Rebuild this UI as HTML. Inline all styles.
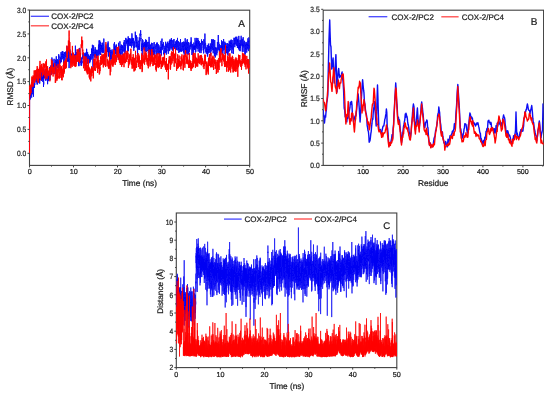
<!DOCTYPE html>
<html><head><meta charset="utf-8"><style>
html,body{margin:0;padding:0;background:#fff;}
svg{display:block;}
</style></head><body>
<svg width="550" height="396" viewBox="0 0 550 396" font-family="'Liberation Sans', Arial, sans-serif" text-rendering="geometricPrecision">
<defs><filter id="soft" x="0" y="0" width="100%" height="100%"><feGaussianBlur stdDeviation="0.4"/></filter></defs>
<rect width="550" height="396" fill="#fff"/>
<g filter="url(#soft)">
<rect x="29.5" y="10.2" width="220.2" height="155.2" fill="none" stroke="#404040" stroke-width="1.1"/>
<rect x="323.2" y="10.2" width="220.4" height="155.2" fill="none" stroke="#404040" stroke-width="1.1"/>
<rect x="176.3" y="213.0" width="220.5" height="154.6" fill="none" stroke="#404040" stroke-width="1.1"/>
<clipPath id="cA"><rect x="28.5" y="10.2" width="221.2" height="155.20000000000002"/></clipPath>
<g clip-path="url(#cA)">
<polyline fill="none" stroke="#0a0af5" stroke-width="1.0" stroke-linejoin="round" points="29.5,153.3 29.6,101.7 29.7,95.4 29.8,98.6 29.9,93.5 30.1,96.7 30.2,97.2 30.3,99.4 30.4,98.4 30.5,92.9 30.6,98.4 30.7,94.4 30.8,90.0 30.9,92.6 31.0,90.9 31.2,94.4 31.3,87.6 31.4,85.6 31.5,88.6 31.6,96.8 31.7,97.5 31.8,89.9 31.9,84.8 32.0,87.3 32.1,84.3 32.3,89.6 32.4,91.0 32.5,90.1 32.6,87.8 32.7,93.7 32.8,87.5 32.9,83.6 33.0,91.2 33.1,94.6 33.2,88.5 33.4,90.4 33.5,96.7 33.6,86.7 33.7,85.8 33.8,87.4 33.9,78.3 34.0,81.9 34.1,86.8 34.2,84.9 34.3,87.3 34.5,88.0 34.6,83.1 34.7,84.6 34.8,84.9 34.9,75.9 35.0,75.4 35.1,76.1 35.2,76.9 35.3,76.8 35.4,73.3 35.6,76.7 35.7,71.2 35.8,78.8 35.9,78.1 36.0,82.4 36.1,79.8 36.2,76.2 36.3,71.4 36.4,78.0 36.5,77.9 36.7,79.2 36.8,80.4 36.9,81.9 37.0,78.9 37.1,84.5 37.2,79.2 37.3,79.0 37.4,81.1 37.5,83.0 37.6,84.2 37.8,72.8 37.9,80.6 38.0,73.0 38.1,73.8 38.2,76.6 38.3,81.0 38.4,74.7 38.5,69.7 38.6,77.7 38.7,78.2 38.9,74.2 39.0,75.0 39.1,69.6 39.2,76.1 39.3,74.2 39.4,80.1 39.5,69.8 39.6,76.6 39.7,83.6 39.8,78.9 40.0,76.9 40.1,69.7 40.2,74.8 40.3,76.5 40.4,75.7 40.5,71.5 40.6,76.3 40.7,73.7 40.8,73.3 41.0,77.0 41.1,77.1 41.2,77.0 41.3,80.1 41.4,73.7 41.5,80.8 41.6,73.7 41.7,71.7 41.8,75.5 41.9,79.0 42.1,78.2 42.2,76.0 42.3,73.8 42.4,75.2 42.5,72.3 42.6,76.9 42.7,75.6 42.8,81.9 42.9,75.7 43.0,76.7 43.2,79.3 43.3,74.0 43.4,75.0 43.5,86.9 43.6,81.9 43.7,84.5 43.8,76.9 43.9,68.4 44.0,76.2 44.1,77.6 44.3,78.1 44.4,75.5 44.5,73.8 44.6,70.9 44.7,78.1 44.8,71.8 44.9,77.7 45.0,75.9 45.1,72.0 45.2,72.6 45.4,78.8 45.5,80.6 45.6,79.3 45.7,77.7 45.8,72.1 45.9,79.0 46.0,75.5 46.1,73.7 46.2,73.5 46.3,73.5 46.5,69.9 46.6,72.3 46.7,72.5 46.8,73.7 46.9,68.4 47.0,80.5 47.1,73.7 47.2,76.3 47.3,76.4 47.4,80.0 47.6,84.2 47.7,80.5 47.8,81.0 47.9,75.9 48.0,81.2 48.1,72.4 48.2,73.7 48.3,75.5 48.4,78.0 48.5,78.9 48.7,80.9 48.8,79.8 48.9,76.2 49.0,76.0 49.1,79.9 49.2,77.1 49.3,78.4 49.4,75.1 49.5,67.2 49.6,69.0 49.8,72.9 49.9,78.7 50.0,79.2 50.1,80.1 50.2,71.5 50.3,74.2 50.4,72.7 50.5,73.6 50.6,70.9 50.8,65.5 50.9,70.6 51.0,70.7 51.1,72.0 51.2,66.0 51.3,71.2 51.4,72.3 51.5,74.6 51.6,74.7 51.7,67.8 51.9,57.5 52.0,65.7 52.1,61.1 52.2,63.1 52.3,69.3 52.4,67.7 52.5,67.7 52.6,69.0 52.7,59.6 52.8,71.1 53.0,67.8 53.1,66.1 53.2,68.7 53.3,67.0 53.4,63.6 53.5,65.4 53.6,65.7 53.7,64.4 53.8,74.1 53.9,65.5 54.1,58.8 54.2,61.1 54.3,61.4 54.4,70.7 54.5,69.3 54.6,71.6 54.7,71.7 54.8,65.7 54.9,70.2 55.0,68.8 55.2,74.4 55.3,68.8 55.4,67.1 55.5,68.4 55.6,69.0 55.7,59.7 55.8,68.3 55.9,70.5 56.0,69.8 56.1,62.4 56.3,56.3 56.4,60.6 56.5,65.0 56.6,65.7 56.7,61.7 56.8,67.2 56.9,61.5 57.0,60.8 57.1,64.8 57.2,63.0 57.4,62.1 57.5,59.3 57.6,67.8 57.7,61.7 57.8,65.1 57.9,67.5 58.0,65.0 58.1,65.1 58.2,67.3 58.3,69.9 58.5,68.4 58.6,59.7 58.7,54.2 58.8,57.4 58.9,55.6 59.0,62.0 59.1,62.3 59.2,60.9 59.3,66.0 59.4,66.0 59.6,61.5 59.7,61.9 59.8,64.0 59.9,59.4 60.0,61.7 60.1,57.0 60.2,59.0 60.3,60.6 60.4,60.2 60.5,60.9 60.7,62.8 60.8,61.7 60.9,57.1 61.0,55.8 61.1,52.1 61.2,62.0 61.3,60.9 61.4,61.4 61.5,58.1 61.7,58.9 61.8,59.0 61.9,54.1 62.0,54.6 62.1,59.4 62.2,52.3 62.3,51.1 62.4,56.1 62.5,51.9 62.6,56.2 62.8,51.2 62.9,54.6 63.0,58.2 63.1,56.8 63.2,57.9 63.3,54.9 63.4,54.2 63.5,55.1 63.6,57.3 63.7,68.7 63.9,59.7 64.0,63.7 64.1,57.6 64.2,52.1 64.3,54.2 64.4,57.1 64.5,57.8 64.6,57.2 64.7,59.0 64.8,59.3 65.0,59.8 65.1,52.9 65.2,55.1 65.3,52.1 65.4,55.5 65.5,56.0 65.6,56.6 65.7,53.4 65.8,51.6 65.9,53.2 66.1,57.6 66.2,59.1 66.3,51.6 66.4,56.3 66.5,57.0 66.6,51.7 66.7,50.3 66.8,51.2 66.9,55.0 67.0,46.2 67.2,49.2 67.3,50.3 67.4,53.6 67.5,59.9 67.6,61.5 67.7,55.0 67.8,52.5 67.9,54.7 68.0,59.2 68.1,61.8 68.3,58.5 68.4,61.5 68.5,54.0 68.6,50.3 68.7,43.3 68.8,47.8 68.9,54.5 69.0,57.9 69.1,68.1 69.2,60.5 69.4,56.4 69.5,51.1 69.6,51.5 69.7,51.2 69.8,53.6 69.9,53.3 70.0,49.5 70.1,57.0 70.2,57.6 70.3,62.2 70.5,52.8 70.6,50.9 70.7,51.7 70.8,57.7 70.9,55.3 71.0,56.4 71.1,56.2 71.2,56.8 71.3,54.6 71.5,57.7 71.6,53.9 71.7,55.4 71.8,56.9 71.9,56.4 72.0,57.0 72.1,53.2 72.2,55.4 72.3,54.3 72.4,56.6 72.6,61.4 72.7,55.2 72.8,60.6 72.9,55.4 73.0,54.8 73.1,61.8 73.2,61.1 73.3,60.5 73.4,61.4 73.5,62.7 73.7,56.1 73.8,57.5 73.9,55.0 74.0,57.2 74.1,56.0 74.2,59.6 74.3,57.6 74.4,54.5 74.5,56.6 74.6,57.8 74.8,60.4 74.9,56.2 75.0,54.6 75.1,56.3 75.2,59.3 75.3,53.9 75.4,45.7 75.5,51.9 75.6,52.5 75.7,52.4 75.9,63.9 76.0,58.2 76.1,58.5 76.2,52.0 76.3,54.8 76.4,57.6 76.5,57.3 76.6,55.9 76.7,58.1 76.8,57.0 77.0,61.5 77.1,59.4 77.2,55.0 77.3,49.7 77.4,52.8 77.5,55.1 77.6,52.1 77.7,52.6 77.8,50.1 77.9,51.6 78.1,56.7 78.2,56.4 78.3,56.9 78.4,55.6 78.5,56.2 78.6,59.5 78.7,65.6 78.8,62.9 78.9,66.2 79.0,60.1 79.2,57.7 79.3,63.0 79.4,57.0 79.5,54.0 79.6,55.6 79.7,49.9 79.8,47.9 79.9,58.0 80.0,54.4 80.1,54.5 80.3,55.3 80.4,54.5 80.5,59.7 80.6,60.3 80.7,62.4 80.8,63.0 80.9,61.0 81.0,65.5 81.1,65.0 81.2,59.5 81.4,60.0 81.5,57.9 81.6,65.7 81.7,64.0 81.8,63.1 81.9,61.0 82.0,63.2 82.1,56.9 82.2,58.7 82.4,58.7 82.5,58.6 82.6,55.9 82.7,59.1 82.8,53.3 82.9,54.6 83.0,56.7 83.1,58.0 83.2,57.2 83.3,54.3 83.5,53.1 83.6,55.3 83.7,54.8 83.8,57.1 83.9,52.8 84.0,57.7 84.1,65.7 84.2,56.9 84.3,57.2 84.4,62.7 84.6,60.9 84.7,63.4 84.8,53.7 84.9,54.8 85.0,62.3 85.1,57.7 85.2,59.7 85.3,52.9 85.4,60.9 85.5,67.7 85.7,61.7 85.8,61.0 85.9,61.5 86.0,67.5 86.1,60.2 86.2,52.3 86.3,61.5 86.4,54.1 86.5,58.1 86.6,48.8 86.8,52.6 86.9,56.4 87.0,52.9 87.1,54.3 87.2,58.1 87.3,54.8 87.4,57.8 87.5,63.5 87.6,52.1 87.7,56.9 87.9,59.4 88.0,57.0 88.1,62.6 88.2,63.8 88.3,61.9 88.4,60.8 88.5,59.0 88.6,54.5 88.7,58.6 88.8,57.5 89.0,56.1 89.1,61.5 89.2,58.6 89.3,61.8 89.4,55.8 89.5,56.2 89.6,57.7 89.7,63.2 89.8,59.6 89.9,62.0 90.1,57.1 90.2,58.1 90.3,60.9 90.4,55.8 90.5,54.1 90.6,59.2 90.7,54.0 90.8,57.2 90.9,58.1 91.0,56.6 91.2,59.6 91.3,59.4 91.4,57.8 91.5,50.9 91.6,48.5 91.7,54.8 91.8,49.5 91.9,53.0 92.0,52.2 92.1,50.2 92.3,52.5 92.4,44.8 92.5,50.1 92.6,58.4 92.7,51.5 92.8,56.1 92.9,57.6 93.0,67.8 93.1,56.0 93.3,52.9 93.4,51.5 93.5,49.4 93.6,45.4 93.7,50.6 93.8,49.0 93.9,55.1 94.0,55.9 94.1,50.6 94.2,51.0 94.4,57.2 94.5,52.8 94.6,53.7 94.7,56.2 94.8,52.1 94.9,53.4 95.0,57.6 95.1,57.4 95.2,47.2 95.3,55.2 95.5,52.4 95.6,50.7 95.7,49.3 95.8,55.6 95.9,54.3 96.0,53.2 96.1,50.3 96.2,54.6 96.3,58.3 96.4,52.8 96.6,50.1 96.7,51.1 96.8,54.8 96.9,52.8 97.0,52.9 97.1,49.8 97.2,57.9 97.3,55.1 97.4,54.7 97.5,57.6 97.7,52.9 97.8,51.5 97.9,52.7 98.0,50.1 98.1,55.2 98.2,52.6 98.3,49.8 98.4,48.8 98.5,44.7 98.6,51.9 98.8,55.6 98.9,50.5 99.0,47.2 99.1,40.4 99.2,42.6 99.3,49.7 99.4,46.1 99.5,50.8 99.6,54.3 99.7,40.4 99.9,44.9 100.0,45.3 100.1,45.7 100.2,41.8 100.3,46.7 100.4,44.2 100.5,51.3 100.6,55.0 100.7,46.5 100.8,42.8 101.0,45.3 101.1,46.6 101.2,48.1 101.3,52.0 101.4,45.1 101.5,46.3 101.6,46.8 101.7,47.4 101.8,45.8 101.9,47.0 102.1,46.8 102.2,53.0 102.3,49.7 102.4,42.7 102.5,49.1 102.6,49.0 102.7,44.7 102.8,43.4 102.9,44.2 103.1,51.7 103.2,47.3 103.3,52.4 103.4,52.8 103.5,47.8 103.6,49.8 103.7,47.3 103.8,38.6 103.9,43.4 104.0,45.9 104.2,52.5 104.3,53.7 104.4,55.4 104.5,54.4 104.6,55.7 104.7,55.3 104.8,53.5 104.9,56.3 105.0,57.8 105.1,58.4 105.3,52.6 105.4,52.0 105.5,48.3 105.6,46.5 105.7,51.9 105.8,50.4 105.9,57.4 106.0,44.9 106.1,44.5 106.2,49.6 106.4,54.4 106.5,49.6 106.6,56.6 106.7,55.3 106.8,48.7 106.9,48.8 107.0,50.7 107.1,46.7 107.2,51.3 107.3,47.7 107.5,49.4 107.6,51.1 107.7,48.5 107.8,52.1 107.9,43.3 108.0,48.9 108.1,41.5 108.2,50.4 108.3,48.4 108.4,53.7 108.6,56.6 108.7,52.3 108.8,49.3 108.9,55.3 109.0,49.9 109.1,53.9 109.2,52.1 109.3,50.0 109.4,47.6 109.5,55.8 109.7,47.6 109.8,48.6 109.9,53.0 110.0,56.7 110.1,60.3 110.2,61.5 110.3,54.4 110.4,56.0 110.5,58.8 110.6,57.7 110.8,49.9 110.9,53.9 111.0,56.4 111.1,50.6 111.2,52.5 111.3,54.2 111.4,56.0 111.5,59.2 111.6,58.6 111.7,55.8 111.9,54.5 112.0,51.0 112.1,49.4 112.2,50.1 112.3,50.6 112.4,55.0 112.5,61.0 112.6,57.2 112.7,58.1 112.8,57.3 113.0,54.2 113.1,57.2 113.2,57.9 113.3,54.1 113.4,51.6 113.5,54.3 113.6,51.0 113.7,51.8 113.8,54.9 114.0,52.2 114.1,43.7 114.2,50.6 114.3,46.3 114.4,44.3 114.5,42.2 114.6,51.2 114.7,44.1 114.8,48.5 114.9,50.8 115.1,51.3 115.2,47.8 115.3,49.7 115.4,50.4 115.5,45.7 115.6,51.5 115.7,54.2 115.8,49.2 115.9,48.7 116.0,46.8 116.2,54.6 116.3,49.5 116.4,49.4 116.5,44.5 116.6,52.7 116.7,50.6 116.8,52.4 116.9,57.8 117.0,56.8 117.1,50.2 117.3,52.9 117.4,55.1 117.5,51.0 117.6,48.2 117.7,47.2 117.8,52.9 117.9,52.1 118.0,47.5 118.1,51.9 118.2,52.9 118.4,47.6 118.5,42.8 118.6,50.7 118.7,59.5 118.8,58.1 118.9,56.1 119.0,52.0 119.1,48.6 119.2,48.8 119.3,51.1 119.5,49.4 119.6,53.5 119.7,51.3 119.8,52.5 119.9,41.3 120.0,43.7 120.1,50.8 120.2,53.2 120.3,52.5 120.4,56.3 120.6,53.6 120.7,51.3 120.8,45.8 120.9,48.5 121.0,51.1 121.1,53.2 121.2,54.1 121.3,50.4 121.4,49.4 121.5,44.7 121.7,49.6 121.8,45.2 121.9,47.5 122.0,49.5 122.1,57.1 122.2,56.9 122.3,49.6 122.4,45.5 122.5,48.0 122.6,46.2 122.8,49.5 122.9,50.5 123.0,52.3 123.1,46.4 123.2,46.9 123.3,49.6 123.4,51.0 123.5,47.1 123.6,46.7 123.7,49.9 123.9,42.4 124.0,44.3 124.1,46.3 124.2,41.6 124.3,40.1 124.4,43.6 124.5,43.0 124.6,48.5 124.7,48.7 124.9,53.9 125.0,43.8 125.1,52.3 125.2,45.8 125.3,48.8 125.4,50.3 125.5,47.3 125.6,44.7 125.7,42.1 125.8,37.9 126.0,40.7 126.1,38.8 126.2,43.5 126.3,40.5 126.4,41.5 126.5,43.1 126.6,43.4 126.7,43.2 126.8,42.1 126.9,40.6 127.1,43.9 127.2,45.6 127.3,41.2 127.4,48.3 127.5,47.1 127.6,39.6 127.7,52.0 127.8,48.6 127.9,43.3 128.0,49.7 128.2,36.4 128.3,51.0 128.4,41.4 128.5,38.3 128.6,38.6 128.7,41.7 128.8,40.0 128.9,44.6 129.0,39.7 129.1,45.0 129.3,43.9 129.4,38.2 129.5,44.9 129.6,43.8 129.7,41.8 129.8,45.8 129.9,38.5 130.0,39.4 130.1,46.1 130.2,43.0 130.4,44.7 130.5,44.7 130.6,42.5 130.7,45.8 130.8,40.0 130.9,43.8 131.0,39.2 131.1,41.3 131.2,38.3 131.3,42.8 131.5,44.6 131.6,47.5 131.7,41.6 131.8,39.4 131.9,33.4 132.0,35.0 132.1,39.8 132.2,42.1 132.3,41.2 132.4,43.1 132.6,38.3 132.7,37.9 132.8,43.7 132.9,45.7 133.0,38.7 133.1,39.8 133.2,42.6 133.3,38.2 133.4,42.5 133.5,43.9 133.7,45.2 133.8,50.9 133.9,42.8 134.0,47.7 134.1,47.2 134.2,47.0 134.3,41.7 134.4,42.3 134.5,41.7 134.7,47.5 134.8,42.7 134.9,47.1 135.0,41.6 135.1,39.9 135.2,39.7 135.3,31.7 135.4,36.0 135.5,37.5 135.6,39.1 135.8,40.7 135.9,36.9 136.0,35.4 136.1,43.3 136.2,37.5 136.3,37.7 136.4,35.6 136.5,38.3 136.6,44.6 136.7,47.4 136.9,36.9 137.0,39.3 137.1,46.6 137.2,42.5 137.3,44.3 137.4,50.5 137.5,55.1 137.6,53.8 137.7,46.4 137.8,44.5 138.0,44.8 138.1,42.4 138.2,40.7 138.3,49.8 138.4,46.3 138.5,46.5 138.6,48.5 138.7,46.8 138.8,44.8 138.9,44.6 139.1,49.3 139.2,46.7 139.3,37.3 139.4,44.5 139.5,49.7 139.6,43.8 139.7,39.9 139.8,38.4 139.9,41.2 140.0,33.6 140.2,35.3 140.3,36.1 140.4,34.9 140.5,33.2 140.6,30.2 140.7,30.9 140.8,34.8 140.9,34.1 141.0,38.9 141.1,38.1 141.3,47.6 141.4,51.0 141.5,44.4 141.6,50.1 141.7,48.2 141.8,46.5 141.9,48.2 142.0,49.3 142.1,43.3 142.2,56.0 142.4,48.3 142.5,39.3 142.6,45.1 142.7,46.6 142.8,45.2 142.9,40.2 143.0,49.4 143.1,48.0 143.2,48.0 143.3,44.3 143.5,44.7 143.6,43.0 143.7,46.8 143.8,45.9 143.9,48.3 144.0,48.6 144.1,47.1 144.2,45.6 144.3,50.3 144.4,41.9 144.6,44.5 144.7,50.3 144.8,43.8 144.9,48.2 145.0,45.9 145.1,46.6 145.2,44.5 145.3,44.0 145.4,47.4 145.6,46.7 145.7,39.4 145.8,51.5 145.9,48.2 146.0,45.9 146.1,49.8 146.2,52.1 146.3,40.6 146.4,46.3 146.5,40.2 146.7,43.6 146.8,47.6 146.9,46.6 147.0,46.1 147.1,43.6 147.2,44.4 147.3,45.4 147.4,46.6 147.5,42.1 147.6,41.9 147.8,49.1 147.9,50.8 148.0,47.8 148.1,51.0 148.2,50.1 148.3,53.6 148.4,52.4 148.5,49.4 148.6,46.3 148.7,48.6 148.9,41.9 149.0,47.4 149.1,36.9 149.2,42.5 149.3,45.8 149.4,50.9 149.5,60.7 149.6,54.5 149.7,51.7 149.8,44.6 150.0,53.3 150.1,44.5 150.2,49.6 150.3,46.5 150.4,56.3 150.5,51.5 150.6,51.1 150.7,45.9 150.8,46.4 150.9,51.1 151.1,45.5 151.2,44.9 151.3,45.1 151.4,44.0 151.5,42.8 151.6,46.9 151.7,53.3 151.8,56.3 151.9,47.4 152.0,47.1 152.2,49.1 152.3,51.1 152.4,50.2 152.5,49.7 152.6,50.8 152.7,52.6 152.8,43.0 152.9,46.8 153.0,50.6 153.1,55.2 153.3,53.8 153.4,48.4 153.5,46.8 153.6,49.9 153.7,50.2 153.8,51.4 153.9,55.1 154.0,46.9 154.1,48.1 154.2,42.1 154.4,51.4 154.5,53.4 154.6,50.0 154.7,52.1 154.8,56.7 154.9,57.6 155.0,54.2 155.1,50.9 155.2,51.4 155.4,47.7 155.5,45.8 155.6,46.3 155.7,47.3 155.8,48.9 155.9,46.5 156.0,44.1 156.1,46.9 156.2,47.0 156.3,49.5 156.5,54.9 156.6,55.2 156.7,48.8 156.8,46.5 156.9,42.6 157.0,46.6 157.1,45.2 157.2,42.8 157.3,42.7 157.4,48.9 157.6,50.0 157.7,50.0 157.8,54.2 157.9,49.9 158.0,46.5 158.1,51.2 158.2,44.1 158.3,49.5 158.4,50.8 158.5,51.8 158.7,53.8 158.8,51.4 158.9,52.2 159.0,45.4 159.1,48.3 159.2,49.2 159.3,51.9 159.4,57.4 159.5,54.8 159.6,56.4 159.8,50.4 159.9,51.8 160.0,47.1 160.1,48.4 160.2,48.9 160.3,51.2 160.4,51.7 160.5,49.9 160.6,47.8 160.7,53.3 160.9,50.2 161.0,40.9 161.1,47.0 161.2,49.1 161.3,51.8 161.4,55.5 161.5,46.9 161.6,48.8 161.7,48.2 161.8,42.8 162.0,38.6 162.1,50.2 162.2,47.3 162.3,47.6 162.4,47.9 162.5,47.3 162.6,49.1 162.7,44.0 162.8,46.1 162.9,47.3 163.1,44.7 163.2,44.6 163.3,45.2 163.4,46.2 163.5,42.3 163.6,45.6 163.7,49.5 163.8,53.9 163.9,52.5 164.0,54.6 164.2,52.0 164.3,49.8 164.4,56.7 164.5,52.1 164.6,48.5 164.7,48.9 164.8,52.8 164.9,45.8 165.0,49.8 165.1,52.7 165.3,52.7 165.4,48.4 165.5,43.2 165.6,41.8 165.7,44.6 165.8,50.3 165.9,50.7 166.0,51.2 166.1,49.1 166.3,54.6 166.4,48.8 166.5,44.7 166.6,46.2 166.7,44.1 166.8,48.0 166.9,51.3 167.0,51.1 167.1,44.5 167.2,42.7 167.4,47.9 167.5,43.4 167.6,46.7 167.7,41.7 167.8,44.2 167.9,47.0 168.0,44.2 168.1,49.5 168.2,51.5 168.3,53.8 168.5,49.0 168.6,47.8 168.7,47.9 168.8,49.5 168.9,43.1 169.0,47.1 169.1,50.1 169.2,43.7 169.3,40.9 169.4,42.2 169.6,51.1 169.7,49.2 169.8,44.5 169.9,45.1 170.0,39.4 170.1,47.5 170.2,42.6 170.3,45.7 170.4,40.2 170.5,43.6 170.7,40.5 170.8,45.3 170.9,49.1 171.0,49.5 171.1,47.4 171.2,47.6 171.3,40.1 171.4,38.0 171.5,41.5 171.6,48.1 171.8,45.9 171.9,48.1 172.0,40.3 172.1,41.7 172.2,40.8 172.3,43.5 172.4,50.7 172.5,48.9 172.6,49.5 172.7,44.4 172.9,44.1 173.0,47.2 173.1,45.9 173.2,39.9 173.3,46.4 173.4,49.1 173.5,47.4 173.6,48.1 173.7,47.6 173.8,43.6 174.0,39.0 174.1,49.1 174.2,46.9 174.3,45.5 174.4,45.5 174.5,47.5 174.6,48.6 174.7,43.9 174.8,46.6 174.9,46.6 175.1,46.0 175.2,46.4 175.3,46.4 175.4,41.4 175.5,43.8 175.6,44.1 175.7,46.0 175.8,49.2 175.9,48.4 176.0,49.1 176.2,44.4 176.3,46.1 176.4,48.7 176.5,44.1 176.6,42.6 176.7,50.1 176.8,40.3 176.9,42.4 177.0,43.7 177.2,39.9 177.3,42.7 177.4,46.8 177.5,37.9 177.6,47.0 177.7,47.3 177.8,44.5 177.9,50.4 178.0,49.9 178.1,48.3 178.3,41.1 178.4,49.8 178.5,49.5 178.6,45.8 178.7,47.8 178.8,53.0 178.9,48.4 179.0,48.1 179.1,46.9 179.2,42.9 179.4,42.4 179.5,45.0 179.6,46.7 179.7,51.8 179.8,49.9 179.9,48.8 180.0,50.9 180.1,49.2 180.2,51.6 180.3,44.4 180.5,39.1 180.6,46.1 180.7,46.9 180.8,49.1 180.9,44.2 181.0,45.7 181.1,48.6 181.2,50.3 181.3,49.0 181.4,51.8 181.6,48.3 181.7,50.0 181.8,47.3 181.9,46.9 182.0,42.8 182.1,45.0 182.2,42.2 182.3,48.9 182.4,45.1 182.5,47.3 182.7,47.9 182.8,46.3 182.9,42.8 183.0,51.3 183.1,46.9 183.2,50.8 183.3,41.9 183.4,49.7 183.5,49.4 183.6,52.5 183.8,41.6 183.9,49.6 184.0,47.9 184.1,49.2 184.2,54.7 184.3,51.3 184.4,46.5 184.5,46.7 184.6,42.4 184.7,45.9 184.9,45.1 185.0,47.0 185.1,45.1 185.2,38.3 185.3,42.4 185.4,44.3 185.5,48.6 185.6,50.2 185.7,41.9 185.8,49.0 186.0,50.5 186.1,48.7 186.2,49.7 186.3,41.9 186.4,53.6 186.5,46.8 186.6,43.4 186.7,49.3 186.8,49.1 187.0,45.6 187.1,39.5 187.2,46.6 187.3,51.4 187.4,43.6 187.5,39.5 187.6,44.8 187.7,54.3 187.8,44.4 187.9,47.6 188.1,43.7 188.2,47.0 188.3,49.0 188.4,49.7 188.5,43.9 188.6,42.1 188.7,54.6 188.8,54.0 188.9,43.1 189.0,46.8 189.2,52.1 189.3,48.1 189.4,48.2 189.5,47.1 189.6,48.7 189.7,50.1 189.8,49.0 189.9,45.4 190.0,49.2 190.1,48.3 190.3,47.7 190.4,42.2 190.5,44.4 190.6,47.0 190.7,45.2 190.8,44.9 190.9,41.7 191.0,42.9 191.1,37.4 191.2,38.0 191.4,42.9 191.5,47.2 191.6,44.3 191.7,43.6 191.8,46.3 191.9,51.7 192.0,55.0 192.1,48.9 192.2,45.3 192.3,44.0 192.5,51.2 192.6,44.8 192.7,48.0 192.8,46.2 192.9,45.9 193.0,49.8 193.1,50.4 193.2,55.3 193.3,51.6 193.4,53.6 193.6,46.5 193.7,45.5 193.8,42.6 193.9,43.9 194.0,48.3 194.1,46.3 194.2,48.4 194.3,45.0 194.4,45.3 194.5,50.0 194.7,48.8 194.8,46.9 194.9,47.6 195.0,42.6 195.1,37.9 195.2,43.1 195.3,45.3 195.4,52.5 195.5,46.1 195.6,46.4 195.8,51.8 195.9,44.3 196.0,40.8 196.1,44.1 196.2,43.6 196.3,46.3 196.4,40.8 196.5,47.8 196.6,46.3 196.7,37.9 196.9,41.8 197.0,41.7 197.1,43.6 197.2,49.0 197.3,45.4 197.4,42.4 197.5,46.4 197.6,43.3 197.7,39.1 197.9,38.0 198.0,47.1 198.1,49.3 198.2,51.6 198.3,41.3 198.4,41.2 198.5,39.9 198.6,45.2 198.7,48.4 198.8,44.3 199.0,43.8 199.1,46.9 199.2,43.6 199.3,41.2 199.4,42.1 199.5,46.9 199.6,52.8 199.7,47.3 199.8,44.8 199.9,44.8 200.1,46.5 200.2,47.4 200.3,42.9 200.4,45.7 200.5,45.5 200.6,49.9 200.7,50.3 200.8,46.6 200.9,50.5 201.0,53.1 201.2,49.6 201.3,43.1 201.4,43.6 201.5,39.4 201.6,44.2 201.7,46.4 201.8,50.4 201.9,48.6 202.0,41.0 202.1,42.3 202.3,41.4 202.4,41.6 202.5,43.0 202.6,44.7 202.7,44.8 202.8,42.9 202.9,42.6 203.0,42.1 203.1,43.4 203.2,47.6 203.4,47.1 203.5,50.4 203.6,45.0 203.7,53.4 203.8,50.1 203.9,39.2 204.0,44.6 204.1,49.2 204.2,46.9 204.3,40.2 204.5,43.2 204.6,41.9 204.7,42.8 204.8,44.8 204.9,33.6 205.0,40.5 205.1,45.3 205.2,47.9 205.3,45.4 205.4,44.6 205.6,43.2 205.7,45.8 205.8,52.2 205.9,47.3 206.0,48.5 206.1,49.5 206.2,53.4 206.3,52.4 206.4,52.3 206.5,49.0 206.7,53.5 206.8,49.8 206.9,47.5 207.0,51.6 207.1,51.3 207.2,51.7 207.3,45.0 207.4,56.4 207.5,52.6 207.6,56.3 207.8,53.5 207.9,48.1 208.0,51.8 208.1,49.8 208.2,53.1 208.3,43.9 208.4,44.0 208.5,43.7 208.6,52.1 208.8,53.2 208.9,45.8 209.0,48.2 209.1,49.1 209.2,47.8 209.3,52.5 209.4,46.4 209.5,47.6 209.6,46.3 209.7,49.2 209.9,46.4 210.0,49.6 210.1,45.3 210.2,43.4 210.3,43.6 210.4,43.6 210.5,43.9 210.6,56.1 210.7,47.9 210.8,48.9 211.0,47.5 211.1,48.3 211.2,51.4 211.3,49.7 211.4,44.1 211.5,39.6 211.6,45.1 211.7,49.0 211.8,41.7 211.9,47.5 212.1,39.1 212.2,44.6 212.3,48.9 212.4,44.1 212.5,40.0 212.6,49.9 212.7,42.6 212.8,46.3 212.9,42.1 213.0,47.5 213.2,53.3 213.3,47.8 213.4,44.5 213.5,39.4 213.6,39.3 213.7,42.7 213.8,46.4 213.9,49.6 214.0,48.7 214.1,50.1 214.3,49.1 214.4,56.3 214.5,50.0 214.6,49.2 214.7,40.0 214.8,43.1 214.9,48.6 215.0,47.0 215.1,52.5 215.2,53.4 215.4,57.4 215.5,47.8 215.6,47.4 215.7,53.5 215.8,52.1 215.9,48.4 216.0,48.9 216.1,49.1 216.2,53.1 216.3,53.3 216.5,51.4 216.6,47.8 216.7,53.1 216.8,55.3 216.9,49.1 217.0,53.1 217.1,47.7 217.2,49.0 217.3,46.6 217.4,42.1 217.6,44.1 217.7,43.9 217.8,50.0 217.9,50.6 218.0,45.5 218.1,40.8 218.2,38.8 218.3,35.0 218.4,40.9 218.6,43.9 218.7,42.0 218.8,44.4 218.9,46.4 219.0,50.0 219.1,43.9 219.2,49.0 219.3,46.5 219.4,52.1 219.5,44.6 219.7,50.1 219.8,45.1 219.9,53.4 220.0,51.3 220.1,45.2 220.2,49.4 220.3,49.0 220.4,49.9 220.5,57.0 220.6,49.6 220.8,47.2 220.9,52.0 221.0,46.1 221.1,49.9 221.2,52.2 221.3,49.3 221.4,51.2 221.5,40.3 221.6,49.5 221.7,45.2 221.9,43.7 222.0,52.6 222.1,54.5 222.2,46.7 222.3,47.2 222.4,45.1 222.5,41.5 222.6,46.5 222.7,51.2 222.8,57.9 223.0,50.3 223.1,50.2 223.2,46.2 223.3,45.5 223.4,50.4 223.5,40.1 223.6,39.0 223.7,40.3 223.8,47.6 223.9,46.7 224.1,47.5 224.2,47.7 224.3,49.6 224.4,44.8 224.5,44.6 224.6,44.0 224.7,47.3 224.8,41.7 224.9,43.7 225.0,54.3 225.2,50.3 225.3,47.9 225.4,42.9 225.5,45.2 225.6,45.8 225.7,47.0 225.8,43.3 225.9,46.5 226.0,47.4 226.1,49.1 226.3,46.0 226.4,47.8 226.5,53.2 226.6,46.8 226.7,50.0 226.8,47.8 226.9,47.3 227.0,44.0 227.1,43.0 227.2,49.8 227.4,49.7 227.5,54.4 227.6,45.7 227.7,46.3 227.8,43.2 227.9,49.0 228.0,55.7 228.1,46.1 228.2,47.4 228.3,47.6 228.5,47.1 228.6,45.3 228.7,44.4 228.8,52.2 228.9,44.5 229.0,48.3 229.1,49.4 229.2,40.7 229.3,40.8 229.5,45.3 229.6,51.1 229.7,46.2 229.8,43.7 229.9,44.5 230.0,49.8 230.1,49.2 230.2,50.2 230.3,45.9 230.4,42.6 230.6,40.4 230.7,46.1 230.8,45.1 230.9,43.2 231.0,47.6 231.1,47.7 231.2,39.6 231.3,43.8 231.4,42.5 231.5,47.5 231.7,46.9 231.8,53.2 231.9,49.7 232.0,44.7 232.1,40.0 232.2,41.0 232.3,43.8 232.4,46.7 232.5,49.4 232.6,48.3 232.8,44.4 232.9,48.6 233.0,44.4 233.1,49.0 233.2,53.5 233.3,51.7 233.4,53.7 233.5,52.6 233.6,43.1 233.7,44.4 233.9,43.2 234.0,39.4 234.1,37.7 234.2,43.4 234.3,38.4 234.4,40.6 234.5,41.7 234.6,41.1 234.7,47.0 234.8,47.2 235.0,45.1 235.1,40.6 235.2,43.3 235.3,44.1 235.4,40.7 235.5,38.0 235.6,38.1 235.7,36.8 235.8,42.0 235.9,44.3 236.1,42.5 236.2,43.9 236.3,44.3 236.4,37.6 236.5,41.5 236.6,45.7 236.7,42.7 236.8,36.7 236.9,41.1 237.0,39.9 237.2,44.6 237.3,46.3 237.4,48.0 237.5,47.4 237.6,38.9 237.7,46.9 237.8,39.1 237.9,45.4 238.0,45.5 238.1,41.1 238.3,40.7 238.4,41.9 238.5,49.3 238.6,44.8 238.7,47.5 238.8,35.9 238.9,41.9 239.0,42.8 239.1,47.7 239.3,47.7 239.4,50.7 239.5,43.6 239.6,45.9 239.7,43.7 239.8,47.7 239.9,47.2 240.0,40.3 240.1,46.1 240.2,51.2 240.4,43.9 240.5,47.3 240.6,46.2 240.7,40.8 240.8,45.1 240.9,39.9 241.0,44.1 241.1,36.7 241.2,35.8 241.3,41.4 241.5,43.3 241.6,45.0 241.7,42.7 241.8,38.5 241.9,45.9 242.0,39.6 242.1,46.5 242.2,47.3 242.3,51.7 242.4,39.0 242.6,42.1 242.7,42.7 242.8,46.6 242.9,41.8 243.0,51.9 243.1,47.3 243.2,37.2 243.3,44.4 243.4,45.2 243.5,43.3 243.7,47.6 243.8,46.8 243.9,43.0 244.0,45.0 244.1,44.4 244.2,46.8 244.3,45.4 244.4,45.6 244.5,40.8 244.6,42.6 244.8,46.0 244.9,55.0 245.0,47.0 245.1,43.4 245.2,47.6 245.3,53.9 245.4,53.2 245.5,44.5 245.6,48.1 245.7,48.0 245.9,46.0 246.0,41.9 246.1,45.0 246.2,47.2 246.3,49.2 246.4,42.7 246.5,42.9 246.6,46.2 246.7,52.6 246.8,52.4 247.0,47.0 247.1,49.4 247.2,44.8 247.3,45.0 247.4,45.7 247.5,43.4 247.6,43.2 247.7,48.7 247.8,48.5 247.9,38.4 248.1,47.5 248.2,47.1 248.3,41.0 248.4,44.0 248.5,47.3 248.6,51.1 248.7,45.3 248.8,41.6 248.9,37.4 249.0,41.3 249.2,40.4 249.3,47.5 249.4,45.5 249.5,48.6 249.6,46.9"/>
<polyline fill="none" stroke="#ff0606" stroke-width="1.0" stroke-linejoin="round" points="29.5,153.3 29.6,99.8 29.7,85.5 29.8,95.5 29.9,91.2 30.1,92.2 30.2,92.6 30.3,94.6 30.4,94.2 30.5,88.1 30.6,87.6 30.7,93.2 30.8,84.8 30.9,93.0 31.0,88.7 31.2,88.0 31.3,83.7 31.4,85.1 31.5,82.2 31.6,84.8 31.7,82.3 31.8,84.0 31.9,76.5 32.0,84.3 32.1,78.6 32.3,78.4 32.4,78.3 32.5,80.7 32.6,77.0 32.7,84.5 32.8,87.0 32.9,79.4 33.0,85.6 33.1,75.4 33.2,78.7 33.4,77.8 33.5,77.7 33.6,76.1 33.7,78.2 33.8,79.2 33.9,78.9 34.0,74.6 34.1,72.1 34.2,70.4 34.3,73.7 34.5,77.4 34.6,82.9 34.7,76.5 34.8,73.4 34.9,77.1 35.0,74.4 35.1,71.0 35.2,73.4 35.3,70.1 35.4,71.8 35.6,80.5 35.7,78.5 35.8,77.0 35.9,73.0 36.0,77.6 36.1,77.4 36.2,78.8 36.3,75.6 36.4,73.7 36.5,71.1 36.7,69.5 36.8,70.2 36.9,69.8 37.0,71.0 37.1,71.9 37.2,66.1 37.3,81.3 37.4,76.5 37.5,73.5 37.6,68.3 37.8,74.9 37.9,73.2 38.0,69.8 38.1,74.6 38.2,83.0 38.3,79.7 38.4,82.0 38.5,74.4 38.6,79.2 38.7,69.0 38.9,70.9 39.0,75.5 39.1,75.7 39.2,78.4 39.3,74.1 39.4,67.5 39.5,72.0 39.6,68.6 39.7,73.3 39.8,70.2 40.0,60.9 40.1,71.9 40.2,66.5 40.3,65.4 40.4,77.5 40.5,80.3 40.6,78.8 40.7,70.8 40.8,72.4 41.0,71.4 41.1,67.4 41.2,69.0 41.3,68.6 41.4,70.4 41.5,66.3 41.6,72.1 41.7,63.9 41.8,69.3 41.9,72.0 42.1,66.8 42.2,66.8 42.3,76.5 42.4,71.7 42.5,75.8 42.6,76.0 42.7,68.7 42.8,72.9 42.9,68.9 43.0,70.9 43.2,63.4 43.3,67.3 43.4,73.8 43.5,74.8 43.6,74.5 43.7,70.0 43.8,67.9 43.9,63.6 44.0,64.6 44.1,66.7 44.3,65.7 44.4,67.8 44.5,66.9 44.6,64.7 44.7,63.8 44.8,67.9 44.9,76.2 45.0,74.7 45.1,70.4 45.2,79.2 45.4,74.8 45.5,69.1 45.6,71.7 45.7,74.3 45.8,63.1 45.9,61.3 46.0,67.3 46.1,64.0 46.2,62.4 46.3,71.2 46.5,59.5 46.6,69.2 46.7,71.7 46.8,76.7 46.9,74.2 47.0,78.8 47.1,75.0 47.2,69.1 47.3,70.6 47.4,72.4 47.6,66.2 47.7,74.6 47.8,70.4 47.9,72.2 48.0,72.8 48.1,73.2 48.2,71.7 48.3,71.9 48.4,75.5 48.5,75.6 48.7,70.8 48.8,70.7 48.9,75.8 49.0,74.9 49.1,74.6 49.2,71.1 49.3,68.2 49.4,68.1 49.5,72.1 49.6,70.1 49.8,73.8 49.9,81.3 50.0,72.4 50.1,74.2 50.2,73.4 50.3,73.3 50.4,66.6 50.5,71.5 50.6,67.2 50.8,67.8 50.9,72.2 51.0,75.3 51.1,69.1 51.2,66.5 51.3,64.5 51.4,59.0 51.5,64.3 51.6,66.1 51.7,67.5 51.9,67.4 52.0,68.7 52.1,71.2 52.2,60.7 52.3,73.7 52.4,68.5 52.5,66.0 52.6,65.7 52.7,71.8 52.8,71.4 53.0,73.4 53.1,76.5 53.2,72.3 53.3,72.0 53.4,72.6 53.5,67.6 53.6,72.3 53.7,68.2 53.8,70.6 53.9,67.1 54.1,68.9 54.2,68.5 54.3,72.1 54.4,73.2 54.5,73.8 54.6,70.2 54.7,66.8 54.8,63.2 54.9,68.8 55.0,69.1 55.2,77.9 55.3,82.9 55.4,80.3 55.5,79.2 55.6,81.2 55.7,82.3 55.8,74.7 55.9,76.2 56.0,80.0 56.1,65.7 56.3,68.5 56.4,72.7 56.5,70.4 56.6,76.0 56.7,68.6 56.8,77.6 56.9,80.8 57.0,77.4 57.1,78.9 57.2,70.1 57.4,79.2 57.5,78.0 57.6,74.2 57.7,72.1 57.8,69.4 57.9,70.7 58.0,64.2 58.1,72.1 58.2,70.8 58.3,68.3 58.5,71.9 58.6,72.0 58.7,73.4 58.8,75.0 58.9,77.9 59.0,75.9 59.1,78.8 59.2,72.2 59.3,77.7 59.4,63.8 59.6,60.1 59.7,62.4 59.8,68.1 59.9,71.5 60.0,64.8 60.1,67.0 60.2,66.6 60.3,71.7 60.4,67.4 60.5,72.9 60.7,71.5 60.8,77.8 60.9,76.5 61.0,71.2 61.1,73.8 61.2,75.0 61.3,69.5 61.4,71.5 61.5,66.3 61.7,80.1 61.8,72.3 61.9,71.0 62.0,78.6 62.1,80.3 62.2,71.4 62.3,76.1 62.4,76.0 62.5,70.2 62.6,71.9 62.8,68.7 62.9,72.6 63.0,69.3 63.1,65.2 63.2,66.3 63.3,77.3 63.4,69.1 63.5,67.9 63.6,71.0 63.7,63.2 63.9,74.0 64.0,62.7 64.1,69.0 64.2,61.3 64.3,65.7 64.4,72.4 64.5,68.3 64.6,66.4 64.7,64.8 64.8,60.8 65.0,66.6 65.1,62.9 65.2,60.5 65.3,64.4 65.4,67.6 65.5,68.7 65.6,61.9 65.7,59.4 65.8,64.7 65.9,68.4 66.1,58.6 66.2,65.0 66.3,60.0 66.4,63.0 66.5,67.6 66.6,61.9 66.7,60.8 66.8,52.6 66.9,45.6 67.0,52.9 67.2,49.7 67.3,48.4 67.4,54.6 67.5,58.1 67.6,48.9 67.7,51.8 67.8,52.1 67.9,51.4 68.0,49.3 68.1,50.3 68.3,44.6 68.4,40.5 68.5,44.9 68.6,49.6 68.7,45.3 68.8,49.1 68.9,46.2 69.0,37.8 69.1,30.5 69.2,36.3 69.4,44.3 69.5,41.2 69.6,52.4 69.7,50.7 69.8,42.7 69.9,42.1 70.0,52.6 70.1,58.6 70.2,50.9 70.3,54.1 70.5,58.1 70.6,56.8 70.7,61.1 70.8,68.2 70.9,59.6 71.0,62.0 71.1,64.2 71.2,65.7 71.3,59.9 71.5,62.8 71.6,57.3 71.7,59.7 71.8,55.5 71.9,58.7 72.0,60.8 72.1,67.0 72.2,65.3 72.3,56.9 72.4,45.9 72.6,59.2 72.7,63.8 72.8,59.5 72.9,58.0 73.0,61.0 73.1,59.0 73.2,65.8 73.3,62.8 73.4,57.7 73.5,52.7 73.7,57.8 73.8,59.9 73.9,59.2 74.0,56.0 74.1,56.9 74.2,62.1 74.3,58.7 74.4,56.3 74.5,61.5 74.6,66.4 74.8,60.4 74.9,58.6 75.0,55.1 75.1,58.1 75.2,61.8 75.3,63.1 75.4,66.7 75.5,66.7 75.6,65.3 75.7,65.7 75.9,59.4 76.0,66.4 76.1,62.8 76.2,63.4 76.3,54.9 76.4,58.4 76.5,61.7 76.6,57.6 76.7,59.1 76.8,61.5 77.0,54.6 77.1,54.1 77.2,49.3 77.3,50.4 77.4,53.1 77.5,54.9 77.6,61.5 77.7,55.6 77.8,55.1 77.9,53.8 78.1,55.8 78.2,59.6 78.3,61.8 78.4,55.7 78.5,50.0 78.6,54.6 78.7,53.5 78.8,48.6 78.9,56.5 79.0,57.5 79.2,59.4 79.3,52.0 79.4,53.3 79.5,56.5 79.6,63.2 79.7,60.6 79.8,53.4 79.9,56.7 80.0,58.2 80.1,54.1 80.3,60.3 80.4,57.3 80.5,52.9 80.6,54.5 80.7,54.6 80.8,49.2 80.9,49.2 81.0,48.6 81.1,46.6 81.2,44.3 81.4,47.8 81.5,47.4 81.6,42.4 81.7,38.1 81.8,36.6 81.9,44.1 82.0,40.3 82.1,41.2 82.2,45.1 82.4,45.5 82.5,44.6 82.6,40.5 82.7,51.6 82.8,49.6 82.9,52.8 83.0,54.5 83.1,52.0 83.2,52.5 83.3,61.5 83.5,62.9 83.6,61.5 83.7,68.3 83.8,61.4 83.9,62.4 84.0,64.0 84.1,63.4 84.2,56.0 84.3,60.6 84.4,63.1 84.6,56.0 84.7,63.8 84.8,67.1 84.9,71.0 85.0,62.0 85.1,63.0 85.2,62.7 85.3,63.6 85.4,66.5 85.5,70.0 85.7,70.0 85.8,64.0 85.9,63.9 86.0,56.6 86.1,64.7 86.2,67.0 86.3,71.5 86.4,62.2 86.5,70.1 86.6,63.1 86.8,58.5 86.9,63.3 87.0,63.0 87.1,72.9 87.2,70.1 87.3,74.4 87.4,70.2 87.5,68.3 87.6,70.3 87.7,64.9 87.9,65.3 88.0,68.8 88.1,69.5 88.2,73.9 88.3,69.2 88.4,59.1 88.5,67.5 88.6,66.2 88.7,71.4 88.8,67.8 89.0,67.1 89.1,69.7 89.2,77.5 89.3,74.7 89.4,68.4 89.5,71.7 89.6,68.9 89.7,72.0 89.8,79.4 89.9,71.9 90.1,68.7 90.2,72.0 90.3,71.8 90.4,70.4 90.5,74.5 90.6,71.2 90.7,72.5 90.8,81.4 90.9,76.2 91.0,76.2 91.2,76.5 91.3,70.7 91.4,72.9 91.5,70.7 91.6,66.4 91.7,68.7 91.8,76.0 91.9,75.5 92.0,67.1 92.1,69.6 92.3,72.5 92.4,72.2 92.5,69.6 92.6,69.8 92.7,67.9 92.8,72.7 92.9,72.6 93.0,70.9 93.1,70.4 93.3,78.4 93.4,73.3 93.5,76.7 93.6,65.9 93.7,61.0 93.8,58.9 93.9,60.1 94.0,66.0 94.1,61.9 94.2,65.7 94.4,64.6 94.5,70.0 94.6,70.5 94.7,66.5 94.8,58.9 94.9,65.1 95.0,58.1 95.1,54.3 95.2,67.4 95.3,67.4 95.5,71.0 95.6,69.5 95.7,69.5 95.8,68.0 95.9,62.9 96.0,62.7 96.1,63.7 96.2,65.0 96.3,64.6 96.4,63.6 96.6,61.8 96.7,63.5 96.8,61.5 96.9,67.8 97.0,61.9 97.1,55.8 97.2,60.3 97.3,67.6 97.4,58.5 97.5,62.3 97.7,72.9 97.8,67.1 97.9,61.6 98.0,59.2 98.1,55.7 98.2,58.0 98.3,59.3 98.4,68.2 98.5,68.9 98.6,63.0 98.8,59.9 98.9,66.3 99.0,66.6 99.1,62.6 99.2,71.4 99.3,74.5 99.4,69.2 99.5,65.0 99.6,66.4 99.7,73.5 99.9,67.1 100.0,71.1 100.1,64.9 100.2,65.5 100.3,62.9 100.4,60.2 100.5,64.6 100.6,59.7 100.7,57.3 100.8,58.8 101.0,56.0 101.1,62.2 101.2,57.9 101.3,59.3 101.4,64.5 101.5,63.4 101.6,64.6 101.7,64.2 101.8,58.9 101.9,53.7 102.1,57.6 102.2,58.0 102.3,63.6 102.4,60.8 102.5,55.7 102.6,54.9 102.7,56.9 102.8,60.1 102.9,62.7 103.1,60.8 103.2,65.4 103.3,67.4 103.4,60.0 103.5,64.1 103.6,54.3 103.7,63.7 103.8,59.4 103.9,64.8 104.0,60.8 104.2,65.4 104.3,62.3 104.4,60.8 104.5,61.0 104.6,57.9 104.7,52.9 104.8,58.5 104.9,53.7 105.0,56.8 105.1,58.3 105.3,49.7 105.4,63.4 105.5,63.2 105.6,67.0 105.7,62.8 105.8,59.2 105.9,42.1 106.0,50.3 106.1,47.7 106.2,48.0 106.4,55.0 106.5,54.8 106.6,49.6 106.7,54.8 106.8,56.8 106.9,57.0 107.0,65.8 107.1,66.2 107.2,62.1 107.3,59.2 107.5,63.5 107.6,63.0 107.7,62.7 107.8,61.8 107.9,59.7 108.0,62.1 108.1,61.5 108.2,67.3 108.3,67.3 108.4,62.1 108.6,68.7 108.7,63.5 108.8,64.8 108.9,66.5 109.0,61.4 109.1,65.7 109.2,68.2 109.3,67.3 109.4,63.8 109.5,52.6 109.7,68.6 109.8,65.8 109.9,65.0 110.0,60.7 110.1,64.2 110.2,75.3 110.3,64.0 110.4,68.9 110.5,65.8 110.6,70.8 110.8,71.6 110.9,68.5 111.0,62.2 111.1,60.2 111.2,64.7 111.3,61.6 111.4,63.2 111.5,61.4 111.6,61.2 111.7,59.1 111.9,63.2 112.0,63.6 112.1,62.6 112.2,61.6 112.3,66.2 112.4,56.3 112.5,61.6 112.6,58.7 112.7,59.3 112.8,55.2 113.0,66.7 113.1,54.2 113.2,59.0 113.3,64.8 113.4,59.9 113.5,49.4 113.6,53.8 113.7,62.3 113.8,62.6 114.0,55.2 114.1,63.5 114.2,59.8 114.3,61.0 114.4,50.2 114.5,56.3 114.6,52.6 114.7,59.3 114.8,62.4 114.9,56.1 115.1,54.7 115.2,65.0 115.3,57.7 115.4,55.8 115.5,59.0 115.6,56.9 115.7,55.2 115.8,57.7 115.9,58.4 116.0,59.3 116.2,58.7 116.3,62.1 116.4,57.9 116.5,61.0 116.6,57.9 116.7,57.2 116.8,60.0 116.9,54.6 117.0,48.3 117.1,47.0 117.3,57.0 117.4,51.0 117.5,52.0 117.6,53.1 117.7,55.6 117.8,54.3 117.9,48.3 118.0,50.5 118.1,55.4 118.2,57.6 118.4,57.6 118.5,52.4 118.6,46.4 118.7,57.8 118.8,57.3 118.9,58.5 119.0,60.2 119.1,56.4 119.2,55.1 119.3,61.4 119.5,63.0 119.6,54.0 119.7,54.9 119.8,55.3 119.9,58.2 120.0,61.1 120.1,58.7 120.2,61.1 120.3,64.9 120.4,61.1 120.6,56.4 120.7,62.9 120.8,55.1 120.9,54.6 121.0,60.8 121.1,60.3 121.2,60.6 121.3,57.3 121.4,55.9 121.5,63.4 121.7,66.8 121.8,57.8 121.9,59.8 122.0,59.0 122.1,59.2 122.2,54.9 122.3,64.1 122.4,58.6 122.5,64.7 122.6,59.0 122.8,54.5 122.9,63.3 123.0,59.5 123.1,60.2 123.2,60.3 123.3,58.4 123.4,60.8 123.5,62.3 123.6,56.2 123.7,53.5 123.9,60.9 124.0,67.2 124.1,53.9 124.2,53.6 124.3,57.1 124.4,63.0 124.5,62.7 124.6,60.0 124.7,62.8 124.9,52.7 125.0,55.3 125.1,56.1 125.2,60.9 125.3,62.7 125.4,63.2 125.5,59.1 125.6,60.3 125.7,60.0 125.8,57.3 126.0,56.2 126.1,50.8 126.2,56.6 126.3,61.9 126.4,59.1 126.5,52.9 126.6,56.7 126.7,56.7 126.8,58.9 126.9,55.7 127.1,55.1 127.2,59.5 127.3,59.1 127.4,54.0 127.5,51.2 127.6,50.8 127.7,51.4 127.8,56.2 127.9,57.7 128.0,52.8 128.2,62.1 128.3,60.8 128.4,67.9 128.5,64.5 128.6,64.5 128.7,65.9 128.8,59.1 128.9,62.3 129.0,62.0 129.1,60.3 129.3,62.6 129.4,54.4 129.5,58.3 129.6,57.2 129.7,64.4 129.8,62.9 129.9,62.2 130.0,62.0 130.1,62.2 130.2,59.4 130.4,53.2 130.5,57.1 130.6,58.6 130.7,60.2 130.8,49.0 130.9,48.7 131.0,53.3 131.1,54.6 131.2,60.6 131.3,61.3 131.5,60.7 131.6,59.6 131.7,63.7 131.8,64.8 131.9,60.1 132.0,59.3 132.1,68.7 132.2,63.2 132.3,57.1 132.4,61.8 132.6,60.7 132.7,66.1 132.8,60.6 132.9,66.7 133.0,68.3 133.1,65.5 133.2,54.2 133.3,61.7 133.4,67.7 133.5,62.6 133.7,63.3 133.8,57.5 133.9,67.4 134.0,71.5 134.1,67.3 134.2,63.8 134.3,61.2 134.4,58.2 134.5,68.7 134.7,70.8 134.8,66.9 134.9,62.0 135.0,62.1 135.1,66.0 135.2,70.2 135.3,62.7 135.4,60.1 135.5,50.8 135.6,59.6 135.8,57.1 135.9,66.2 136.0,67.1 136.1,68.0 136.2,66.1 136.3,67.7 136.4,66.0 136.5,63.7 136.6,65.0 136.7,60.5 136.9,62.4 137.0,61.6 137.1,55.2 137.2,57.7 137.3,58.9 137.4,59.7 137.5,60.1 137.6,57.5 137.7,62.5 137.8,56.1 138.0,53.0 138.1,53.4 138.2,59.8 138.3,67.1 138.4,65.2 138.5,62.5 138.6,58.1 138.7,61.4 138.8,62.5 138.9,54.6 139.1,60.8 139.2,57.4 139.3,56.3 139.4,64.1 139.5,60.9 139.6,62.3 139.7,64.3 139.8,68.4 139.9,69.1 140.0,61.9 140.2,62.6 140.3,60.2 140.4,64.3 140.5,62.7 140.6,62.3 140.7,67.1 140.8,69.1 140.9,62.7 141.0,61.8 141.1,66.1 141.3,64.2 141.4,60.6 141.5,54.8 141.6,64.1 141.7,60.6 141.8,53.3 141.9,60.2 142.0,56.5 142.1,72.1 142.2,59.9 142.4,62.1 142.5,70.5 142.6,62.6 142.7,58.9 142.8,56.9 142.9,55.0 143.0,59.5 143.1,63.4 143.2,63.0 143.3,62.2 143.5,58.8 143.6,61.1 143.7,59.3 143.8,56.4 143.9,56.8 144.0,49.1 144.1,47.4 144.2,58.3 144.3,60.0 144.4,64.0 144.6,64.7 144.7,57.6 144.8,60.7 144.9,62.1 145.0,58.8 145.1,52.8 145.2,56.8 145.3,58.3 145.4,54.4 145.6,54.6 145.7,53.8 145.8,51.5 145.9,59.6 146.0,57.5 146.1,59.4 146.2,54.2 146.3,53.2 146.4,60.1 146.5,54.5 146.7,61.5 146.8,54.6 146.9,55.7 147.0,61.3 147.1,64.6 147.2,62.7 147.3,60.6 147.4,62.6 147.5,58.1 147.6,63.1 147.8,58.9 147.9,58.3 148.0,65.9 148.1,58.4 148.2,62.8 148.3,68.3 148.4,62.0 148.5,59.1 148.6,53.7 148.7,57.3 148.9,51.5 149.0,50.1 149.1,51.0 149.2,49.7 149.3,53.7 149.4,58.8 149.5,56.0 149.6,54.6 149.7,55.6 149.8,59.9 150.0,66.5 150.1,59.2 150.2,59.0 150.3,64.7 150.4,60.3 150.5,57.1 150.6,58.9 150.7,56.8 150.8,55.4 150.9,63.9 151.1,61.9 151.2,57.1 151.3,53.7 151.4,49.7 151.5,61.5 151.6,59.3 151.7,54.9 151.8,51.0 151.9,49.0 152.0,57.4 152.2,58.5 152.3,61.3 152.4,55.5 152.5,61.8 152.6,53.8 152.7,52.2 152.8,53.4 152.9,66.1 153.0,63.0 153.1,57.4 153.3,65.4 153.4,63.6 153.5,62.7 153.6,57.7 153.7,59.2 153.8,59.2 153.9,62.8 154.0,60.4 154.1,60.3 154.2,55.5 154.4,58.8 154.5,54.3 154.6,64.7 154.7,56.0 154.8,58.1 154.9,55.1 155.0,58.6 155.1,57.2 155.2,54.9 155.4,62.4 155.5,62.9 155.6,64.8 155.7,63.3 155.8,69.7 155.9,67.1 156.0,66.5 156.1,68.1 156.2,66.4 156.3,71.5 156.5,60.6 156.6,60.2 156.7,53.9 156.8,63.1 156.9,65.9 157.0,60.4 157.1,67.1 157.2,61.8 157.3,62.9 157.4,62.7 157.6,59.8 157.7,59.8 157.8,53.0 157.9,55.6 158.0,65.3 158.1,59.6 158.2,68.1 158.3,63.2 158.4,66.3 158.5,65.3 158.7,56.5 158.8,60.3 158.9,61.5 159.0,61.2 159.1,59.9 159.2,53.4 159.3,61.3 159.4,64.9 159.5,59.6 159.6,67.1 159.8,64.3 159.9,56.7 160.0,59.9 160.1,61.4 160.2,62.3 160.3,64.2 160.4,64.0 160.5,61.0 160.6,54.8 160.7,54.4 160.9,61.2 161.0,63.8 161.1,60.6 161.2,69.0 161.3,65.6 161.4,64.1 161.5,66.3 161.6,66.6 161.7,61.0 161.8,67.2 162.0,67.2 162.1,66.1 162.2,62.9 162.3,66.7 162.4,57.5 162.5,60.1 162.6,61.6 162.7,63.0 162.8,64.7 162.9,65.6 163.1,57.6 163.2,58.9 163.3,61.2 163.4,56.9 163.5,62.3 163.6,59.1 163.7,60.4 163.8,63.4 163.9,58.6 164.0,64.8 164.2,58.1 164.3,62.4 164.4,58.2 164.5,53.4 164.6,55.7 164.7,61.3 164.8,61.7 164.9,62.7 165.0,66.6 165.1,67.4 165.3,62.7 165.4,61.7 165.5,69.6 165.6,67.0 165.7,63.2 165.8,64.2 165.9,68.7 166.0,61.1 166.1,69.0 166.3,63.6 166.4,58.0 166.5,71.8 166.6,66.4 166.7,64.4 166.8,64.3 166.9,68.5 167.0,65.6 167.1,70.0 167.2,66.5 167.4,63.8 167.5,67.6 167.6,70.0 167.7,68.9 167.8,67.3 167.9,65.6 168.0,66.1 168.1,66.2 168.2,71.9 168.3,79.4 168.5,67.8 168.6,60.3 168.7,69.2 168.8,69.1 168.9,64.9 169.0,59.3 169.1,59.5 169.2,56.5 169.3,60.3 169.4,60.5 169.6,60.2 169.7,63.3 169.8,58.2 169.9,58.1 170.0,56.0 170.1,60.1 170.2,56.4 170.3,63.1 170.4,58.1 170.5,69.7 170.7,67.0 170.8,58.5 170.9,60.4 171.0,58.2 171.1,64.7 171.2,53.8 171.3,53.2 171.4,56.0 171.5,55.1 171.6,55.3 171.8,51.3 171.9,54.7 172.0,63.4 172.1,60.8 172.2,52.7 172.3,52.0 172.4,55.4 172.5,53.6 172.6,53.6 172.7,52.7 172.9,61.1 173.0,60.0 173.1,54.7 173.2,55.6 173.3,53.8 173.4,47.0 173.5,54.3 173.6,54.2 173.7,57.9 173.8,58.6 174.0,56.1 174.1,62.1 174.2,66.8 174.3,54.8 174.4,57.2 174.5,53.7 174.6,56.0 174.7,56.9 174.8,56.2 174.9,55.8 175.1,62.7 175.2,56.5 175.3,63.3 175.4,59.6 175.5,48.4 175.6,55.9 175.7,52.7 175.8,58.9 175.9,58.1 176.0,59.9 176.2,59.3 176.3,63.5 176.4,67.1 176.5,64.2 176.6,70.9 176.7,69.2 176.8,62.9 176.9,66.7 177.0,68.2 177.2,69.0 177.3,64.6 177.4,65.1 177.5,62.7 177.6,62.4 177.7,54.3 177.8,60.2 177.9,68.4 178.0,63.2 178.1,62.4 178.3,61.0 178.4,67.7 178.5,59.2 178.6,60.1 178.7,60.3 178.8,65.9 178.9,61.1 179.0,60.7 179.1,55.5 179.2,61.0 179.4,66.6 179.5,62.0 179.6,64.2 179.7,60.4 179.8,65.6 179.9,63.3 180.0,63.1 180.1,61.0 180.2,63.6 180.3,66.5 180.5,64.2 180.6,65.3 180.7,62.6 180.8,62.7 180.9,69.3 181.0,63.7 181.1,56.3 181.2,59.1 181.3,58.2 181.4,57.9 181.6,61.8 181.7,65.6 181.8,58.8 181.9,54.4 182.0,55.0 182.1,56.6 182.2,57.5 182.3,60.4 182.4,61.0 182.5,61.6 182.7,59.9 182.8,63.1 182.9,63.6 183.0,59.2 183.1,61.9 183.2,70.0 183.3,62.9 183.4,70.4 183.5,55.9 183.6,55.3 183.8,56.8 183.9,61.5 184.0,65.0 184.1,63.0 184.2,61.6 184.3,62.8 184.4,59.0 184.5,54.8 184.6,55.0 184.7,61.8 184.9,67.8 185.0,62.6 185.1,63.6 185.2,60.7 185.3,53.2 185.4,50.4 185.5,54.7 185.6,53.0 185.7,50.7 185.8,56.4 186.0,57.0 186.1,55.6 186.2,57.6 186.3,60.8 186.4,63.5 186.5,60.3 186.6,62.1 186.7,56.9 186.8,59.9 187.0,55.6 187.1,54.0 187.2,64.1 187.3,57.5 187.4,62.3 187.5,58.0 187.6,59.1 187.7,61.3 187.8,59.3 187.9,64.2 188.1,61.5 188.2,61.5 188.3,63.5 188.4,62.5 188.5,67.4 188.6,62.3 188.7,68.0 188.8,62.2 188.9,60.4 189.0,60.2 189.2,65.3 189.3,53.1 189.4,61.6 189.5,62.6 189.6,67.9 189.7,60.1 189.8,64.2 189.9,60.2 190.0,67.2 190.1,64.3 190.3,66.2 190.4,61.1 190.5,64.2 190.6,66.8 190.7,63.1 190.8,66.9 190.9,69.3 191.0,63.6 191.1,71.0 191.2,64.5 191.4,65.7 191.5,69.1 191.6,65.3 191.7,63.0 191.8,66.8 191.9,66.2 192.0,62.3 192.1,61.2 192.2,62.1 192.3,65.7 192.5,68.3 192.6,66.9 192.7,61.1 192.8,58.7 192.9,58.0 193.0,54.7 193.1,59.1 193.2,60.5 193.3,61.3 193.4,52.7 193.6,67.2 193.7,62.8 193.8,59.3 193.9,61.3 194.0,53.1 194.1,54.4 194.2,56.0 194.3,61.9 194.4,60.4 194.5,62.7 194.7,61.3 194.8,61.3 194.9,63.7 195.0,58.8 195.1,52.9 195.2,53.1 195.3,58.4 195.4,67.9 195.5,59.3 195.6,56.7 195.8,60.6 195.9,60.8 196.0,57.6 196.1,62.8 196.2,58.1 196.3,63.9 196.4,65.5 196.5,62.5 196.6,66.5 196.7,62.4 196.9,60.0 197.0,65.9 197.1,59.1 197.2,62.9 197.3,59.0 197.4,58.7 197.5,62.2 197.6,63.1 197.7,66.7 197.9,63.6 198.0,63.3 198.1,53.5 198.2,53.3 198.3,63.2 198.4,57.7 198.5,58.1 198.6,60.2 198.7,58.0 198.8,55.8 199.0,60.8 199.1,61.0 199.2,59.0 199.3,63.0 199.4,59.5 199.5,60.8 199.6,63.7 199.7,64.1 199.8,59.1 199.9,55.6 200.1,56.6 200.2,62.5 200.3,57.9 200.4,58.1 200.5,58.0 200.6,55.0 200.7,61.6 200.8,61.0 200.9,63.4 201.0,64.7 201.2,55.5 201.3,54.9 201.4,65.3 201.5,61.5 201.6,62.7 201.7,56.2 201.8,58.8 201.9,59.1 202.0,59.3 202.1,58.1 202.3,58.3 202.4,61.4 202.5,60.9 202.6,58.7 202.7,64.1 202.8,62.6 202.9,62.1 203.0,64.2 203.1,60.7 203.2,67.2 203.4,66.7 203.5,66.9 203.6,63.1 203.7,65.7 203.8,64.6 203.9,62.9 204.0,69.1 204.1,63.2 204.2,66.0 204.3,65.4 204.5,64.4 204.6,60.0 204.7,58.4 204.8,54.6 204.9,60.6 205.0,63.1 205.1,63.9 205.2,59.9 205.3,54.8 205.4,58.3 205.6,63.6 205.7,62.2 205.8,61.8 205.9,62.9 206.0,67.1 206.1,75.1 206.2,69.8 206.3,62.4 206.4,62.7 206.5,73.5 206.7,68.4 206.8,73.5 206.9,61.5 207.0,65.0 207.1,70.5 207.2,65.5 207.3,69.0 207.4,65.4 207.5,65.5 207.6,70.4 207.8,66.0 207.9,71.6 208.0,63.4 208.1,64.8 208.2,69.7 208.3,74.5 208.4,62.3 208.5,58.0 208.6,66.4 208.8,57.8 208.9,60.3 209.0,62.2 209.1,61.9 209.2,62.5 209.3,56.4 209.4,59.0 209.5,65.8 209.6,54.0 209.7,54.8 209.9,62.8 210.0,62.8 210.1,64.7 210.2,62.7 210.3,61.9 210.4,61.4 210.5,65.7 210.6,67.3 210.7,61.5 210.8,62.3 211.0,52.7 211.1,61.2 211.2,58.7 211.3,61.3 211.4,65.5 211.5,58.7 211.6,62.5 211.7,67.0 211.8,66.4 211.9,60.6 212.1,67.4 212.2,59.8 212.3,60.2 212.4,64.1 212.5,60.4 212.6,56.9 212.7,58.9 212.8,61.5 212.9,55.7 213.0,55.8 213.2,63.7 213.3,64.7 213.4,64.2 213.5,64.9 213.6,70.0 213.7,61.6 213.8,62.1 213.9,62.0 214.0,56.7 214.1,62.5 214.3,62.9 214.4,61.3 214.5,63.9 214.6,63.4 214.7,60.4 214.8,63.2 214.9,59.1 215.0,65.7 215.1,64.2 215.2,68.9 215.4,67.1 215.5,68.1 215.6,62.1 215.7,62.4 215.8,63.4 215.9,60.0 216.0,60.9 216.1,63.1 216.2,69.1 216.3,74.0 216.5,70.6 216.6,68.8 216.7,69.8 216.8,69.2 216.9,72.7 217.0,61.8 217.1,68.4 217.2,67.8 217.3,63.1 217.4,69.3 217.6,61.8 217.7,59.8 217.8,62.9 217.9,67.0 218.0,66.9 218.1,72.4 218.2,61.0 218.3,62.6 218.4,66.0 218.6,67.4 218.7,62.2 218.8,58.0 218.9,66.2 219.0,65.9 219.1,70.0 219.2,61.1 219.3,60.2 219.4,51.5 219.5,56.7 219.7,60.4 219.8,61.6 219.9,55.3 220.0,62.7 220.1,55.2 220.2,54.6 220.3,58.3 220.4,60.3 220.5,53.7 220.6,48.3 220.8,55.5 220.9,53.5 221.0,48.3 221.1,56.4 221.2,57.5 221.3,61.4 221.4,59.5 221.5,58.9 221.6,60.3 221.7,62.5 221.9,66.2 222.0,66.1 222.1,63.7 222.2,56.4 222.3,58.1 222.4,59.6 222.5,53.9 222.6,53.1 222.7,57.6 222.8,58.8 223.0,54.6 223.1,54.8 223.2,60.0 223.3,57.8 223.4,59.1 223.5,54.5 223.6,60.8 223.7,56.3 223.8,56.4 223.9,61.6 224.1,56.2 224.2,54.9 224.3,64.3 224.4,56.1 224.5,66.1 224.6,67.0 224.7,66.8 224.8,61.6 224.9,59.5 225.0,62.2 225.2,56.1 225.3,56.9 225.4,53.2 225.5,45.0 225.6,52.6 225.7,66.9 225.8,63.2 225.9,64.9 226.0,61.9 226.1,61.4 226.3,64.5 226.4,66.3 226.5,63.5 226.6,62.8 226.7,71.7 226.8,61.1 226.9,61.3 227.0,62.4 227.1,62.2 227.2,67.5 227.4,65.0 227.5,58.5 227.6,55.8 227.7,56.3 227.8,59.6 227.9,63.2 228.0,57.0 228.1,57.7 228.2,63.2 228.3,71.6 228.5,68.2 228.6,71.4 228.7,59.3 228.8,59.9 228.9,64.7 229.0,64.5 229.1,53.3 229.2,53.8 229.3,63.0 229.5,62.5 229.6,66.8 229.7,70.3 229.8,64.3 229.9,54.1 230.0,53.5 230.1,59.1 230.2,62.5 230.3,62.4 230.4,58.8 230.6,68.6 230.7,72.5 230.8,59.9 230.9,61.7 231.0,57.2 231.1,61.4 231.2,58.4 231.3,66.6 231.4,63.2 231.5,57.9 231.7,58.0 231.8,62.5 231.9,59.2 232.0,63.9 232.1,68.7 232.2,61.7 232.3,55.8 232.4,55.8 232.5,64.6 232.6,58.9 232.8,56.9 232.9,62.7 233.0,72.4 233.1,62.0 233.2,59.0 233.3,60.8 233.4,69.3 233.5,72.1 233.6,62.9 233.7,60.7 233.9,62.2 234.0,65.5 234.1,65.2 234.2,68.9 234.3,69.1 234.4,71.2 234.5,67.2 234.6,68.5 234.7,61.7 234.8,60.4 235.0,67.1 235.1,58.8 235.2,68.0 235.3,64.8 235.4,61.3 235.5,59.7 235.6,71.7 235.7,63.2 235.8,59.5 235.9,57.4 236.1,71.5 236.2,69.0 236.3,65.7 236.4,65.3 236.5,60.4 236.6,65.8 236.7,59.2 236.8,58.4 236.9,66.8 237.0,69.1 237.2,66.9 237.3,64.4 237.4,61.0 237.5,64.5 237.6,60.3 237.7,68.2 237.8,76.8 237.9,69.7 238.0,61.9 238.1,64.0 238.3,67.2 238.4,63.5 238.5,54.7 238.6,59.9 238.7,63.7 238.8,65.8 238.9,55.2 239.0,59.5 239.1,59.8 239.3,56.2 239.4,55.1 239.5,63.4 239.6,58.6 239.7,57.2 239.8,57.1 239.9,55.2 240.0,61.0 240.1,61.5 240.2,64.5 240.4,60.4 240.5,64.5 240.6,61.8 240.7,66.8 240.8,64.1 240.9,64.0 241.0,62.9 241.1,61.2 241.2,61.9 241.3,62.5 241.5,69.8 241.6,61.0 241.7,63.5 241.8,64.2 241.9,65.8 242.0,59.2 242.1,63.9 242.2,60.1 242.3,56.8 242.4,52.7 242.6,53.3 242.7,55.9 242.8,64.1 242.9,56.3 243.0,53.7 243.1,54.4 243.2,56.0 243.3,59.4 243.4,62.9 243.5,56.4 243.7,53.6 243.8,62.2 243.9,56.5 244.0,57.7 244.1,55.6 244.2,57.3 244.3,55.7 244.4,54.5 244.5,54.6 244.6,64.2 244.8,59.5 244.9,60.5 245.0,64.7 245.1,59.7 245.2,66.9 245.3,59.7 245.4,55.3 245.5,63.8 245.6,60.7 245.7,61.8 245.9,61.3 246.0,69.4 246.1,63.9 246.2,64.1 246.3,62.0 246.4,64.3 246.5,60.0 246.6,61.2 246.7,59.6 246.8,55.9 247.0,62.0 247.1,60.6 247.2,63.1 247.3,62.4 247.4,67.5 247.5,62.5 247.6,59.0 247.7,63.5 247.8,61.1 247.9,62.0 248.1,68.8 248.2,64.7 248.3,59.8 248.4,66.1 248.5,73.5 248.6,67.9 248.7,69.9 248.8,59.2 248.9,64.2 249.0,64.1 249.2,66.3 249.3,64.5 249.4,66.6 249.5,67.9 249.6,65.4"/>
</g>
<clipPath id="cB"><rect x="323.2" y="10.2" width="220.40000000000003" height="155.20000000000002"/></clipPath>
<g clip-path="url(#cB)">
<polyline fill="none" stroke="#0a0af5" stroke-width="1.4" stroke-linejoin="round" points="323.2,110.0 323.6,116.4 324.0,116.7 324.5,123.0 324.8,119.5 325.2,115.1 325.6,117.1 326.0,112.0 326.4,110.0 326.8,102.5 327.2,100.3 327.8,95.0 328.4,65.0 329.0,40.0 329.7,20.0 330.0,30.2 330.5,45.0 331.0,47.0 331.7,69.0 332.0,66.4 332.4,66.1 332.8,60.5 333.1,58.0 333.6,71.7 334.2,83.0 334.8,73.3 335.2,67.0 335.6,58.9 335.9,54.6 336.4,70.6 337.0,92.0 337.6,80.3 338.0,73.7 338.4,70.1 338.7,68.5 339.2,74.7 339.8,77.5 340.4,75.8 340.8,76.2 341.2,75.9 341.6,73.6 342.1,72.0 342.4,78.4 342.8,79.5 343.1,82.0 343.6,90.8 344.2,108.0 344.8,110.9 345.2,116.9 345.6,116.2 346.0,118.0 346.4,120.3 346.8,121.9 347.2,117.2 347.8,118.6 348.4,116.4 348.8,113.7 349.2,111.1 349.5,110.0 350.0,107.2 350.4,102.1 350.8,104.4 351.2,103.2 351.6,101.5 352.0,105.3 352.4,114.1 352.8,116.4 353.2,118.7 353.5,122.0 354.0,120.0 354.4,118.8 354.8,116.8 355.2,115.9 355.6,116.4 356.0,115.4 356.3,113.0 356.8,107.6 357.2,104.1 357.6,99.4 358.2,94.0 358.8,101.6 359.2,107.1 359.6,114.3 360.1,122.0 360.4,117.2 360.8,109.9 361.2,101.8 361.6,95.1 362.0,88.6 362.6,79.7 363.2,86.2 363.6,90.2 364.0,93.2 364.4,101.2 364.8,103.4 365.2,107.1 365.6,111.0 366.0,113.0 366.4,114.6 366.7,116.7 367.2,125.7 367.6,127.6 368.0,130.6 368.4,131.3 368.8,135.7 369.2,142.3 369.6,141.3 370.0,140.6 370.4,137.8 370.8,133.7 371.2,131.8 371.6,126.6 372.0,123.2 372.4,118.6 372.8,119.5 373.2,113.3 373.6,108.6 374.0,106.9 374.3,101.5 374.8,108.0 375.2,111.8 375.6,118.0 376.2,126.0 376.8,107.9 377.2,94.5 377.5,85.0 378.0,100.8 378.4,114.4 378.8,128.0 379.2,130.2 379.6,131.2 380.0,131.2 380.4,129.4 380.8,132.4 381.3,133.0 381.6,131.9 382.0,131.1 382.4,129.0 382.8,127.1 383.2,126.0 383.8,126.0 384.4,122.6 384.8,119.3 385.2,118.5 385.6,115.5 386.0,113.9 386.4,109.0 386.8,112.7 387.2,126.0 387.6,128.3 388.0,132.7 388.4,138.9 388.9,146.0 389.2,143.9 389.6,144.6 390.0,143.7 390.4,144.1 390.8,142.7 391.2,140.5 391.6,138.7 392.0,134.8 392.4,139.0 392.7,138.0 393.2,127.5 393.6,124.0 394.0,114.2 394.4,108.0 394.8,99.5 395.2,93.4 395.7,83.0 396.0,87.6 396.4,97.4 396.8,102.5 397.2,107.0 397.7,118.0 398.0,119.0 398.4,117.1 398.8,120.1 399.2,121.3 399.5,120.0 400.0,126.0 400.4,131.6 400.8,132.5 401.2,138.1 401.5,143.0 402.0,139.9 402.4,136.3 402.8,133.0 403.2,129.0 403.6,125.9 404.0,124.2 404.4,122.0 404.8,119.3 405.3,114.0 405.6,117.4 406.0,113.2 406.4,114.7 406.8,116.3 407.3,118.0 407.6,121.4 408.0,124.3 408.4,125.5 408.8,128.1 409.2,132.6 409.6,133.0 410.0,135.0 410.4,138.0 410.8,134.8 411.2,131.8 411.6,126.0 412.0,121.7 412.4,115.0 412.8,109.1 413.4,104.0 414.0,107.1 414.4,116.3 414.8,123.7 415.4,130.0 416.0,123.3 416.4,120.9 416.8,115.1 417.4,108.0 418.0,119.1 418.4,121.7 418.8,126.0 419.2,128.0 419.6,124.8 420.0,120.5 420.4,115.9 420.8,113.4 421.2,105.1 421.7,102.0 422.0,105.7 422.4,107.6 422.8,112.1 423.2,115.1 423.6,120.7 424.2,126.0 424.8,127.7 425.2,125.5 425.6,122.1 426.0,122.1 426.4,122.0 426.8,120.0 427.2,120.9 427.6,127.2 428.0,127.9 428.4,135.1 428.8,139.3 429.3,143.0 429.6,145.2 430.0,144.9 430.4,143.3 430.8,144.8 431.2,147.0 431.6,145.6 432.0,145.7 432.6,146.0 433.2,145.0 433.6,141.4 434.0,138.8 434.4,137.4 435.0,136.0 435.6,130.5 436.0,130.3 436.4,127.3 436.8,125.4 437.2,122.7 437.6,115.7 438.0,113.8 438.4,112.9 438.8,107.0 439.2,110.1 439.6,112.3 440.0,119.0 440.4,122.5 440.8,125.2 441.4,133.0 442.0,133.6 442.4,131.9 442.8,136.2 443.2,138.6 443.6,141.1 444.0,143.2 444.4,143.4 444.8,143.7 445.2,145.0 445.6,141.5 446.0,142.5 446.4,145.0 446.8,144.9 447.2,146.9 447.6,143.5 448.0,139.3 448.4,142.3 449.0,141.0 449.6,138.3 450.0,135.7 450.4,137.3 450.8,138.2 451.2,134.7 451.6,134.4 452.0,132.9 452.4,131.2 452.7,133.0 453.2,131.0 453.6,129.8 454.0,128.1 454.4,123.6 454.8,128.9 455.3,126.0 455.6,120.6 456.0,112.6 456.6,105.0 457.2,92.2 457.8,84.5 458.4,93.0 458.9,101.0 459.2,105.4 459.6,113.0 460.0,121.4 460.3,128.0 460.8,129.0 461.2,132.6 461.6,133.4 462.0,136.7 462.3,138.0 462.8,136.4 463.2,134.6 463.6,132.8 464.0,129.5 464.4,127.9 464.8,123.7 465.4,124.0 466.0,124.4 466.4,126.7 466.8,130.0 467.2,131.5 467.6,133.0 467.9,133.0 468.4,124.6 468.8,123.7 469.2,119.9 469.6,115.8 469.9,113.0 470.4,114.3 470.8,116.9 471.2,118.0 471.6,117.0 472.0,118.5 472.4,118.0 472.8,122.8 473.2,123.3 473.6,122.3 474.0,122.7 474.4,123.6 474.8,124.7 475.2,124.5 475.5,126.0 476.0,124.6 476.4,123.3 476.8,124.6 477.2,123.0 477.6,122.8 478.0,123.0 478.4,125.1 478.8,126.9 479.2,128.5 479.6,131.3 480.0,133.1 480.4,133.4 480.8,139.4 481.2,138.3 481.8,141.0 482.4,144.9 482.8,141.4 483.2,141.7 483.6,140.4 484.0,143.3 484.3,142.0 484.8,137.2 485.2,138.6 485.6,136.7 486.0,131.5 486.4,131.8 486.8,128.7 487.2,130.5 487.6,127.7 488.0,121.0 488.4,121.1 488.8,120.2 489.2,122.0 489.6,122.6 490.0,123.0 490.4,124.3 490.8,122.2 491.2,123.2 491.6,127.9 492.0,129.4 492.6,128.0 493.2,129.1 493.6,129.7 494.0,130.7 494.4,128.7 494.8,133.1 495.1,133.0 495.6,131.4 496.0,125.8 496.4,128.0 496.8,129.7 497.2,123.1 497.6,126.7 498.0,125.1 498.4,121.7 498.9,121.0 499.2,122.7 499.6,123.2 500.0,124.5 500.4,123.9 500.8,123.4 501.4,126.0 502.0,122.5 502.4,123.6 502.8,118.4 503.2,117.2 503.6,114.9 503.9,117.0 504.4,117.1 504.8,119.1 505.2,124.3 505.6,126.6 506.0,132.2 506.5,131.0 506.8,134.0 507.2,134.3 507.6,130.6 508.0,131.7 508.4,133.5 509.0,136.0 509.6,135.1 510.0,136.4 510.4,137.7 510.8,142.2 511.2,143.2 511.5,143.0 512.0,141.5 512.4,141.5 512.8,139.3 513.2,138.8 513.6,135.6 514.0,138.0 514.4,137.6 514.8,134.9 515.2,132.8 515.5,130.0 516.0,112.0 516.4,125.0 516.8,135.0 517.2,133.0 517.8,136.0 518.4,137.5 518.8,137.2 519.2,136.9 519.6,135.5 520.0,132.0 520.4,134.0 520.8,129.8 521.2,131.3 521.6,129.7 522.0,131.4 522.4,131.1 522.9,131.0 523.2,128.5 523.6,126.1 524.0,119.1 524.4,117.1 524.9,113.0 525.2,111.7 525.6,111.9 526.0,109.8 526.4,109.7 526.8,107.1 527.4,104.0 528.0,107.2 528.4,109.4 528.8,110.3 529.2,110.4 529.6,110.9 530.0,114.0 530.4,110.7 530.8,109.9 531.2,108.3 531.7,105.5 532.0,108.1 532.4,112.1 532.8,118.2 533.2,121.9 533.6,122.4 534.2,128.0 534.8,130.6 535.2,132.7 535.6,134.5 536.0,135.7 536.4,136.2 536.8,141.0 537.2,136.6 537.6,136.3 538.0,130.3 538.4,128.7 538.8,124.5 539.3,121.0 539.6,122.7 540.0,127.2 540.4,131.5 541.0,138.0 541.6,133.9 542.0,132.1 542.5,130.0 543.0,104.0 543.6,120.0"/>
<polyline fill="none" stroke="#ff0606" stroke-width="1.4" stroke-linejoin="round" points="323.2,99.0 323.6,101.5 324.0,102.2 324.4,102.6 324.8,105.2 325.3,109.0 325.6,110.9 326.0,109.5 326.4,103.5 327.0,100.0 327.5,93.0 328.0,86.9 328.4,79.2 328.8,72.4 329.2,71.4 329.6,63.0 330.0,68.5 330.6,81.7 331.2,83.3 331.6,88.2 332.0,91.4 332.4,85.7 332.8,77.9 333.2,75.1 333.8,67.8 334.4,75.8 334.8,79.9 335.2,86.0 335.6,88.2 336.0,88.3 336.6,93.5 337.2,86.5 337.6,86.9 338.0,84.0 338.4,80.0 338.8,83.3 339.4,88.6 340.0,83.0 340.4,83.3 340.8,83.0 341.2,79.2 341.6,78.4 342.0,74.8 342.4,74.8 342.8,74.0 343.2,74.0 343.6,80.2 344.0,86.3 344.4,91.0 344.8,100.6 345.2,110.8 345.6,119.2 345.9,124.0 346.4,117.9 346.8,114.5 347.2,116.6 347.6,112.9 348.2,101.5 348.8,111.9 349.2,117.5 349.7,122.0 350.0,124.4 350.4,120.0 350.8,118.4 351.2,120.9 351.6,113.3 352.0,114.4 352.5,113.0 352.8,113.8 353.2,119.1 353.6,123.1 354.0,128.0 354.4,132.0 354.8,127.2 355.2,121.4 355.7,118.6 356.0,111.9 356.4,110.1 356.8,102.5 357.2,100.3 357.6,94.2 358.2,87.3 358.8,87.9 359.2,86.0 359.6,81.3 360.1,83.5 360.4,82.9 360.8,93.2 361.2,99.5 361.6,103.9 362.0,113.0 362.4,109.3 362.8,110.6 363.2,104.7 363.6,105.2 363.9,99.6 364.4,103.0 364.8,104.4 365.2,110.6 365.8,113.0 366.4,116.8 366.8,118.4 367.2,118.8 367.7,124.0 368.0,122.4 368.4,122.0 368.8,124.7 369.2,129.8 369.6,128.0 370.0,125.8 370.4,122.1 370.8,119.5 371.2,118.0 371.5,113.0 372.0,108.2 372.4,104.4 372.8,103.7 373.2,103.7 373.6,95.5 374.0,88.1 374.3,89.2 374.8,95.7 375.2,101.2 375.8,109.0 376.4,116.7 376.8,118.3 377.1,124.0 377.6,124.6 378.0,125.1 378.4,129.0 379.0,131.8 379.6,131.2 380.0,130.1 380.4,132.1 380.8,133.0 381.3,135.0 381.6,137.3 382.0,134.8 382.4,132.6 382.8,136.8 383.2,135.0 383.8,133.0 384.4,132.6 384.8,132.9 385.2,131.4 385.6,129.4 386.0,128.1 386.4,125.0 386.8,127.1 387.2,131.4 387.6,135.5 388.0,139.0 388.4,143.1 388.9,147.0 389.2,145.7 389.6,142.5 390.0,145.5 390.4,145.4 390.8,142.2 391.2,143.2 391.6,142.8 392.0,141.6 392.4,137.3 392.7,140.0 393.2,129.3 393.6,126.6 394.0,116.5 394.4,109.6 394.8,101.3 395.2,95.0 395.7,88.0 396.0,89.1 396.4,92.9 396.8,104.9 397.2,111.8 397.7,120.0 398.0,122.3 398.4,124.4 398.8,120.5 399.2,123.7 399.5,126.0 400.0,130.0 400.4,133.7 400.8,139.8 401.2,142.0 401.5,145.0 402.0,140.2 402.4,136.8 402.8,137.5 403.2,132.0 403.6,133.7 404.0,127.8 404.4,127.4 404.8,123.0 405.3,123.0 405.6,125.1 406.0,127.1 406.4,128.8 406.8,127.4 407.3,128.0 407.6,129.6 408.0,131.9 408.4,131.9 408.8,135.6 409.2,136.4 409.6,139.2 410.0,140.0 410.4,140.0 410.8,134.9 411.2,130.4 411.6,124.5 412.0,121.5 412.4,117.9 412.8,115.6 413.4,108.0 414.0,121.0 414.4,122.3 414.8,128.8 415.4,134.0 416.0,126.0 416.4,125.3 416.8,126.3 417.4,120.0 418.0,124.2 418.4,125.0 418.8,128.0 419.2,132.0 419.6,124.1 420.0,122.3 420.4,117.1 420.8,112.3 421.2,110.3 421.7,104.0 422.0,109.6 422.4,113.0 422.8,115.8 423.2,118.4 423.6,123.8 424.2,130.0 424.8,131.1 425.2,131.9 425.6,130.1 426.0,134.5 426.4,128.3 426.8,130.0 427.2,133.5 427.6,135.5 428.0,135.4 428.4,136.9 428.8,140.7 429.3,145.0 429.6,142.9 430.0,142.8 430.4,145.8 430.8,147.8 431.2,145.6 431.6,144.9 432.0,144.8 432.6,147.0 433.2,146.7 433.6,143.7 434.0,143.6 434.4,144.9 435.0,138.0 435.6,132.6 436.0,131.0 436.4,128.2 436.8,125.6 437.2,121.6 437.6,120.0 438.0,116.6 438.4,116.3 438.8,114.0 439.2,114.8 439.6,116.8 440.0,122.0 440.4,128.0 440.8,131.9 441.4,136.0 442.0,131.7 442.4,136.1 442.8,137.8 443.2,139.9 443.6,139.7 444.0,141.9 444.4,142.9 444.8,150.1 445.2,147.0 445.6,146.9 446.0,146.1 446.4,145.4 446.8,145.5 447.2,144.1 447.6,144.1 448.0,145.7 448.4,145.6 449.0,143.0 449.6,144.5 450.0,142.2 450.4,138.8 450.8,135.9 451.2,136.4 451.6,137.2 452.0,137.7 452.4,138.6 452.7,136.0 453.2,133.2 453.6,134.7 454.0,135.3 454.4,131.8 454.8,131.6 455.3,130.0 455.6,126.7 456.0,119.4 456.6,110.0 457.2,99.4 457.8,86.5 458.4,98.3 458.9,107.0 459.2,109.8 459.6,118.5 460.0,126.1 460.3,132.0 460.8,132.5 461.2,138.1 461.6,138.4 462.0,141.9 462.3,141.0 462.8,140.4 463.2,141.7 463.6,139.7 464.0,135.8 464.4,136.2 464.8,137.4 465.4,136.0 466.0,132.8 466.4,135.7 466.8,134.6 467.2,137.3 467.6,134.9 467.9,137.0 468.4,129.3 468.8,129.8 469.2,122.9 469.6,119.6 469.9,117.0 470.4,117.1 470.8,121.6 471.2,122.3 471.6,124.1 472.0,121.7 472.4,126.0 472.8,120.6 473.2,125.5 473.6,127.5 474.0,130.5 474.4,133.4 474.8,131.8 475.2,131.9 475.5,133.0 476.0,136.5 476.4,133.4 476.8,135.4 477.2,134.8 477.6,134.8 478.0,136.0 478.4,135.6 478.8,135.1 479.2,138.6 479.6,139.0 480.0,139.1 480.4,140.0 480.8,141.8 481.2,141.4 481.8,143.0 482.4,144.3 482.8,146.3 483.2,146.6 483.6,146.1 484.0,144.2 484.3,144.0 484.8,141.2 485.2,145.6 485.6,140.4 486.0,139.3 486.4,139.4 486.8,133.5 487.2,131.8 487.6,131.0 488.0,131.0 488.4,128.4 488.8,129.9 489.2,133.9 489.6,134.4 490.0,133.0 490.4,132.4 490.8,128.5 491.2,131.0 491.6,130.7 492.0,127.4 492.6,128.0 493.2,131.1 493.6,132.9 494.0,134.2 494.4,136.9 494.8,138.9 495.1,143.0 495.6,140.1 496.0,137.3 496.4,133.6 496.8,130.1 497.2,131.4 497.6,122.8 498.0,123.8 498.4,120.5 498.9,116.0 499.2,116.9 499.6,119.5 500.0,120.2 500.4,121.7 500.8,126.2 501.4,131.0 502.0,129.0 502.4,129.1 502.8,119.8 503.2,119.3 503.6,121.3 503.9,121.0 504.4,123.9 504.8,126.6 505.2,129.5 505.6,132.1 506.0,136.1 506.5,135.0 506.8,137.3 507.2,133.7 507.6,135.7 508.0,134.9 508.4,139.7 509.0,139.0 509.6,142.8 510.0,139.7 510.4,141.6 510.8,143.1 511.2,144.5 511.5,145.0 512.0,146.3 512.4,139.1 512.8,143.6 513.2,141.0 513.6,139.6 514.0,140.0 514.4,139.3 514.8,135.9 515.2,134.4 515.6,135.9 516.0,136.0 516.4,139.5 516.8,137.5 517.2,136.6 517.8,138.0 518.4,137.5 518.8,139.8 519.2,138.1 519.6,137.3 520.0,136.1 520.4,136.0 520.8,133.6 521.2,131.3 521.6,130.5 522.0,128.2 522.4,128.1 522.9,126.0 523.2,123.4 523.6,120.6 524.0,117.7 524.4,118.4 524.9,112.0 525.2,112.2 525.6,113.7 526.0,116.9 526.4,117.3 526.8,118.5 527.4,121.0 528.0,119.7 528.4,119.4 528.8,118.7 529.2,114.1 529.6,113.2 530.0,115.0 530.4,115.4 530.8,118.3 531.2,120.0 531.7,118.0 532.0,122.0 532.4,122.5 532.8,124.1 533.2,123.6 533.6,126.3 534.2,132.0 534.8,135.6 535.2,139.5 535.6,138.0 536.0,140.3 536.4,142.0 536.8,143.0 537.2,136.3 537.6,134.1 538.0,130.0 538.4,128.6 538.8,126.2 539.3,123.0 539.6,126.0 540.0,131.9 540.4,134.4 541.0,143.0 541.6,140.3 542.0,142.2 542.4,143.4 543.0,143.0 543.6,145.0"/>
</g>
<clipPath id="cC"><rect x="176.3" y="213.0" width="220.5" height="154.60000000000002"/></clipPath>
<g clip-path="url(#cC)">
<polyline fill="none" stroke="#0a0af5" stroke-width="0.7" stroke-linejoin="round" points="176.3,287.5 176.3,293.0 176.4,291.4 176.4,306.4 176.4,301.7 176.5,294.8 176.5,291.2 176.6,279.3 176.6,280.3 176.6,305.5 176.7,309.0 176.7,305.5 176.7,299.5 176.8,294.1 176.8,287.3 176.9,300.7 176.9,311.4 176.9,294.9 177.0,299.8 177.0,312.1 177.0,308.2 177.1,302.6 177.1,305.4 177.1,306.7 177.2,291.4 177.2,299.3 177.3,293.0 177.3,290.6 177.3,293.6 177.4,275.5 177.4,293.4 177.4,273.8 177.5,289.9 177.5,292.9 177.5,290.3 177.6,283.3 177.6,282.7 177.7,290.2 177.7,294.0 177.7,284.8 177.8,277.7 177.8,289.2 177.8,282.2 177.9,283.6 177.9,286.6 178.0,298.0 178.0,304.9 178.0,296.1 178.1,315.1 178.1,308.1 178.1,297.9 178.2,308.2 178.2,289.3 178.2,279.7 178.3,294.8 178.3,295.5 178.4,296.0 178.4,299.3 178.4,300.7 178.5,294.3 178.5,282.6 178.5,288.2 178.6,290.9 178.6,292.1 178.7,298.7 178.7,292.4 178.7,297.5 178.8,303.6 178.8,294.8 178.8,308.7 178.9,305.8 178.9,303.6 178.9,300.6 179.0,309.4 179.0,309.5 179.1,303.7 179.1,295.4 179.1,296.5 179.2,297.8 179.2,303.0 179.2,299.4 179.3,318.1 179.3,302.5 179.4,292.4 179.4,294.5 179.4,302.5 179.5,289.8 179.5,298.1 179.5,287.6 179.6,294.1 179.6,300.9 179.6,300.4 179.7,303.6 179.7,301.5 179.8,295.6 179.8,298.2 179.8,301.0 179.9,299.2 179.9,295.4 179.9,296.3 180.0,292.9 180.0,290.9 180.0,292.1 180.1,289.6 180.1,293.5 180.2,287.3 180.2,289.6 180.2,287.6 180.3,294.1 180.3,306.2 180.3,305.3 180.4,301.3 180.4,297.0 180.5,297.8 180.5,287.4 180.5,302.1 180.6,312.9 180.6,306.9 180.6,307.5 180.7,302.8 180.7,295.9 180.7,277.7 180.8,297.6 180.8,305.8 180.9,302.7 180.9,311.3 180.9,310.6 181.0,295.5 181.0,297.7 181.0,298.6 181.1,290.9 181.1,307.3 181.2,302.4 181.2,301.2 181.2,298.3 181.3,306.0 181.3,305.8 181.3,303.4 181.4,296.2 181.4,303.1 181.4,297.0 181.5,313.6 181.5,303.7 181.6,296.2 181.6,304.6 181.6,304.4 181.7,302.3 181.7,299.1 181.7,291.1 181.8,294.3 181.8,298.9 181.9,301.1 181.9,298.8 181.9,294.1 182.0,295.5 182.0,302.0 182.0,303.7 182.1,307.8 182.1,310.5 182.1,309.2 182.2,309.1 182.2,299.6 182.3,308.8 182.3,304.4 182.3,311.1 182.4,300.6 182.4,298.8 182.4,291.1 182.5,292.4 182.5,304.2 182.5,302.6 182.6,306.5 182.6,307.8 182.7,312.0 182.7,309.1 182.7,304.8 182.8,301.8 182.8,284.3 182.8,294.3 182.9,297.6 182.9,300.5 183.0,303.1 183.0,304.7 183.0,303.0 183.1,304.0 183.1,297.9 183.1,297.0 183.2,305.8 183.2,304.0 183.2,301.0 183.3,303.6 183.3,304.5 183.4,304.1 183.4,298.9 183.4,299.4 183.5,304.7 183.5,303.9 183.5,294.5 183.6,305.1 183.6,299.2 183.7,302.6 183.7,276.5 183.7,285.1 183.8,293.4 183.8,298.8 183.8,311.3 183.9,310.5 183.9,292.5 183.9,295.1 184.0,300.9 184.0,301.8 184.1,301.9 184.1,309.0 184.1,305.1 184.2,300.4 184.2,260.2 184.2,309.0 184.3,325.0 184.3,325.6 184.3,308.4 184.4,297.1 184.4,287.0 184.5,304.0 184.5,304.0 184.5,305.8 184.6,297.0 184.6,297.7 184.6,299.8 184.7,297.2 184.7,303.3 184.8,296.4 184.8,302.1 184.8,294.9 184.9,297.7 184.9,298.8 184.9,308.9 185.0,316.7 185.0,320.8 185.0,308.6 185.1,320.8 185.1,302.5 185.2,305.1 185.2,313.5 185.2,306.0 185.3,313.3 185.3,308.0 185.3,307.5 185.4,297.2 185.4,294.0 185.5,292.2 185.5,301.0 185.5,293.6 185.6,299.0 185.6,300.5 185.6,298.9 185.7,299.3 185.7,310.7 185.7,302.7 185.8,314.1 185.8,305.6 185.9,305.1 185.9,303.9 185.9,311.4 186.0,300.6 186.0,303.2 186.0,297.6 186.1,305.8 186.1,309.7 186.2,306.3 186.2,298.0 186.2,310.0 186.3,311.0 186.3,310.9 186.3,309.3 186.4,309.8 186.4,299.4 186.4,296.8 186.5,300.2 186.5,296.3 186.6,293.0 186.6,302.8 186.6,308.5 186.7,301.5 186.7,288.1 186.7,312.5 186.8,312.7 186.8,303.0 186.8,309.2 186.9,300.7 186.9,300.9 187.0,311.3 187.0,311.0 187.0,305.1 187.1,310.9 187.1,303.5 187.1,301.8 187.2,305.2 187.2,302.1 187.3,305.8 187.3,303.6 187.3,310.9 187.4,297.9 187.4,303.0 187.4,295.7 187.5,285.3 187.5,284.0 187.5,294.4 187.6,298.4 187.6,301.8 187.7,301.1 187.7,308.6 187.7,319.2 187.8,309.7 187.8,306.9 187.8,295.2 187.9,287.4 187.9,305.6 188.0,311.6 188.0,302.9 188.0,295.7 188.1,299.4 188.1,301.7 188.1,316.1 188.2,294.6 188.2,304.6 188.2,300.9 188.3,300.5 188.3,309.0 188.4,301.1 188.4,292.9 188.4,299.3 188.5,301.2 188.5,298.6 188.5,295.0 188.6,294.1 188.6,305.8 188.7,312.0 188.7,312.4 188.7,327.6 188.8,325.6 188.8,316.8 188.8,315.7 188.9,316.3 188.9,304.7 188.9,302.7 189.0,298.3 189.0,303.0 189.1,307.1 189.1,312.3 189.1,307.2 189.2,318.9 189.2,318.2 189.2,307.8 189.3,300.8 189.3,303.6 189.3,312.6 189.4,305.1 189.4,310.5 189.5,308.9 189.5,314.0 189.5,297.2 189.6,291.1 189.6,304.3 189.6,313.1 189.7,309.8 189.7,303.4 189.8,295.9 189.8,301.2 189.8,312.1 189.9,306.9 189.9,304.5 189.9,316.2 190.0,312.8 190.0,311.4 190.0,315.4 190.1,309.1 190.1,300.2 190.2,296.0 190.2,307.1 190.2,310.6 190.3,303.5 190.3,307.0 190.3,308.9 190.4,292.1 190.4,316.9 190.5,316.0 190.5,316.8 190.5,311.8 190.6,297.0 190.6,302.5 190.6,306.3 190.7,305.1 190.7,307.7 190.7,304.2 190.8,287.5 190.8,301.6 190.9,305.3 190.9,306.2 190.9,320.8 191.0,309.3 191.0,308.1 191.0,320.8 191.1,315.4 191.1,309.6 191.1,314.1 191.2,302.6 191.2,308.5 191.3,317.8 191.3,306.4 191.3,307.3 191.4,305.8 191.4,317.3 191.4,321.4 191.5,320.9 191.5,314.7 191.6,311.4 191.6,299.3 191.6,292.1 191.7,298.3 191.7,303.0 191.7,291.5 191.8,298.5 191.8,295.4 191.8,304.3 191.9,306.1 191.9,308.2 192.0,312.1 192.0,306.7 192.0,312.3 192.1,310.2 192.1,305.5 192.1,291.3 192.2,312.2 192.2,308.8 192.3,303.1 192.3,307.2 192.3,300.8 192.4,300.0 192.4,299.9 192.4,306.2 192.5,307.9 192.5,308.8 192.5,314.6 192.6,309.4 192.6,315.3 192.7,317.5 192.7,321.7 192.7,306.5 192.8,310.5 192.8,314.8 192.8,305.2 192.9,308.9 192.9,305.5 193.0,307.4 193.0,304.6 193.0,304.3 193.1,320.6 193.1,303.5 193.1,298.2 193.2,312.6 193.2,303.5 193.2,306.8 193.3,306.0 193.3,297.5 193.4,295.3 193.4,294.3 193.4,286.7 193.5,289.2 193.5,302.2 193.5,313.5 193.6,304.4 193.6,317.5 193.6,314.7 193.7,313.3 193.7,315.0 193.8,301.6 193.8,302.1 193.8,306.1 193.9,300.3 193.9,306.5 193.9,298.5 194.0,288.6 194.0,298.7 194.1,304.0 194.1,297.6 194.1,315.9 194.2,320.2 194.2,320.8 194.2,325.2 194.3,316.2 194.3,309.6 194.3,308.6 194.4,308.1 194.4,301.3 194.5,296.8 194.5,293.4 194.5,301.3 194.6,304.2 194.6,295.5 194.6,298.5 194.7,293.8 194.7,303.8 194.8,305.9 194.8,311.0 194.8,309.3 194.9,305.4 194.9,309.5 194.9,294.8 195.0,311.4 195.0,303.4 195.0,312.9 195.1,308.1 195.1,313.1 195.2,309.8 195.2,308.1 195.2,313.3 195.3,318.8 195.3,318.1 195.3,312.7 195.4,304.5 195.4,294.9 195.4,313.1 195.5,307.2 195.5,310.6 195.6,309.0 195.6,306.1 195.6,301.4 195.7,301.7 195.7,304.5 195.7,291.1 195.8,291.3 195.8,291.4 195.9,281.6 195.9,290.5 195.9,291.6 196.0,273.6 196.0,274.1 196.0,283.3 196.1,268.1 196.1,255.7 196.1,263.1 196.2,253.9 196.2,253.0 196.3,257.5 196.3,248.2 196.3,252.0 196.4,267.9 196.4,261.2 196.4,260.6 196.5,246.9 196.5,253.2 196.6,257.7 196.6,255.5 196.6,255.8 196.7,270.5 196.7,262.6 196.7,264.1 196.8,273.7 196.8,239.0 196.8,257.0 196.9,265.0 196.9,268.1 197.0,268.4 197.0,268.8 197.0,263.9 197.1,254.3 197.1,266.0 197.1,273.5 197.2,279.4 197.2,262.0 197.3,251.8 197.3,291.9 197.3,275.1 197.4,266.3 197.4,255.6 197.4,263.5 197.5,263.4 197.5,252.4 197.5,254.0 197.6,260.9 197.6,247.3 197.7,253.8 197.7,266.4 197.7,265.7 197.8,273.7 197.8,266.9 197.8,256.0 197.9,267.0 197.9,274.9 197.9,243.7 198.0,249.5 198.0,263.0 198.1,267.7 198.1,266.4 198.1,272.4 198.2,275.1 198.2,269.7 198.2,266.4 198.3,259.4 198.3,238.4 198.4,251.6 198.4,248.9 198.4,248.7 198.5,259.3 198.5,248.0 198.5,256.8 198.6,246.3 198.6,246.2 198.6,278.0 198.7,263.6 198.7,249.5 198.8,248.3 198.8,255.8 198.8,257.1 198.9,257.7 198.9,264.8 198.9,264.4 199.0,267.4 199.0,267.3 199.1,261.1 199.1,267.9 199.1,259.6 199.2,259.7 199.2,264.6 199.2,252.2 199.3,248.2 199.3,250.5 199.3,251.2 199.4,257.6 199.4,255.7 199.5,264.9 199.5,265.0 199.5,258.2 199.6,260.3 199.6,258.0 199.6,267.2 199.7,255.1 199.7,262.5 199.8,259.4 199.8,260.9 199.8,254.9 199.9,261.1 199.9,268.5 199.9,278.4 200.0,272.4 200.0,285.4 200.0,265.1 200.1,253.7 200.1,273.4 200.2,276.7 200.2,267.4 200.2,256.3 200.3,257.2 200.3,257.5 200.3,256.5 200.4,255.5 200.4,247.6 200.4,250.8 200.5,265.3 200.5,282.8 200.6,263.4 200.6,268.6 200.6,276.9 200.7,268.7 200.7,270.6 200.7,261.8 200.8,265.0 200.8,271.5 200.9,273.7 200.9,267.2 200.9,250.3 201.0,254.8 201.0,248.5 201.0,262.6 201.1,272.5 201.1,265.1 201.1,270.0 201.2,275.9 201.2,277.0 201.3,269.9 201.3,271.3 201.3,271.5 201.4,262.6 201.4,256.6 201.4,271.8 201.5,268.3 201.5,269.4 201.6,267.7 201.6,260.3 201.6,265.8 201.7,266.8 201.7,254.9 201.7,272.0 201.8,270.3 201.8,263.6 201.8,272.2 201.9,272.3 201.9,277.1 202.0,269.2 202.0,270.8 202.0,261.7 202.1,255.6 202.1,259.3 202.1,264.2 202.2,262.1 202.2,262.5 202.2,271.6 202.3,260.3 202.3,260.5 202.4,256.7 202.4,269.8 202.4,260.7 202.5,247.7 202.5,251.5 202.5,267.9 202.6,265.7 202.6,265.3 202.7,263.2 202.7,265.3 202.7,261.2 202.8,265.9 202.8,263.5 202.8,268.6 202.9,265.8 202.9,258.1 202.9,264.6 203.0,259.8 203.0,268.3 203.1,268.9 203.1,268.3 203.1,257.7 203.2,266.4 203.2,257.0 203.2,271.0 203.3,268.9 203.3,260.4 203.4,257.6 203.4,268.2 203.4,275.0 203.5,263.7 203.5,273.0 203.5,264.8 203.6,268.4 203.6,266.7 203.6,249.6 203.7,246.4 203.7,249.8 203.8,267.0 203.8,263.7 203.8,264.4 203.9,265.2 203.9,255.8 203.9,272.4 204.0,266.5 204.0,264.9 204.1,270.3 204.1,255.6 204.1,269.3 204.2,267.1 204.2,265.6 204.2,280.8 204.3,283.0 204.3,281.2 204.3,267.6 204.4,259.9 204.4,270.0 204.5,260.3 204.5,278.3 204.5,270.4 204.6,271.5 204.6,260.3 204.6,253.5 204.7,243.9 204.7,249.8 204.7,252.0 204.8,266.1 204.8,265.3 204.9,274.2 204.9,263.7 204.9,273.1 205.0,271.0 205.0,274.2 205.0,279.1 205.1,271.5 205.1,270.1 205.2,266.5 205.2,273.3 205.2,259.9 205.3,267.5 205.3,259.7 205.3,247.9 205.4,274.1 205.4,277.1 205.4,273.1 205.5,261.5 205.5,267.2 205.6,264.1 205.6,270.3 205.6,264.4 205.7,273.9 205.7,264.3 205.7,286.3 205.8,289.7 205.8,265.3 205.9,264.7 205.9,271.9 205.9,253.7 206.0,252.8 206.0,251.8 206.0,262.2 206.1,260.1 206.1,259.8 206.1,274.9 206.2,266.7 206.2,268.0 206.3,258.4 206.3,253.4 206.3,264.7 206.4,270.0 206.4,267.1 206.4,262.4 206.5,267.6 206.5,268.1 206.6,263.3 206.6,262.2 206.6,256.4 206.7,260.1 206.7,269.9 206.7,281.0 206.8,268.4 206.8,270.1 206.8,271.2 206.9,271.3 206.9,280.4 207.0,305.3 207.0,290.4 207.0,281.7 207.1,291.3 207.1,261.2 207.1,261.2 207.2,265.8 207.2,265.5 207.2,261.4 207.3,269.8 207.3,270.3 207.4,271.4 207.4,251.9 207.4,259.2 207.5,277.3 207.5,266.8 207.5,248.9 207.6,265.1 207.6,241.7 207.7,255.1 207.7,254.3 207.7,265.0 207.8,268.3 207.8,276.7 207.8,279.8 207.9,289.0 207.9,270.3 207.9,277.2 208.0,269.9 208.0,279.4 208.1,271.8 208.1,269.5 208.1,269.4 208.2,272.1 208.2,269.7 208.2,268.4 208.3,275.4 208.3,280.9 208.4,280.5 208.4,273.4 208.4,260.8 208.5,254.0 208.5,265.6 208.5,256.7 208.6,261.5 208.6,256.9 208.6,261.6 208.7,262.0 208.7,267.1 208.8,267.7 208.8,254.4 208.8,269.8 208.9,269.0 208.9,277.7 208.9,269.6 209.0,253.0 209.0,262.8 209.0,285.4 209.1,272.4 209.1,266.0 209.2,279.2 209.2,275.5 209.2,288.0 209.3,286.9 209.3,272.8 209.3,267.5 209.4,266.2 209.4,274.9 209.5,276.8 209.5,277.1 209.5,275.4 209.6,276.0 209.6,261.8 209.6,262.4 209.7,281.1 209.7,262.8 209.7,264.5 209.8,270.5 209.8,269.3 209.9,281.8 209.9,273.9 209.9,288.9 210.0,286.1 210.0,267.7 210.0,259.1 210.1,266.4 210.1,274.5 210.2,264.9 210.2,267.2 210.2,266.5 210.3,263.1 210.3,273.7 210.3,265.6 210.4,294.5 210.4,265.1 210.4,280.7 210.5,278.1 210.5,278.3 210.6,268.4 210.6,263.3 210.6,263.6 210.7,262.4 210.7,262.3 210.7,276.1 210.8,281.4 210.8,291.8 210.9,297.0 210.9,283.4 210.9,277.9 211.0,274.5 211.0,270.2 211.0,271.4 211.1,277.5 211.1,284.2 211.1,290.4 211.2,271.1 211.2,263.6 211.3,276.2 211.3,274.7 211.3,268.9 211.4,257.6 211.4,267.8 211.4,267.3 211.5,260.0 211.5,277.3 211.5,288.6 211.6,274.3 211.6,277.1 211.7,258.0 211.7,257.5 211.7,262.1 211.8,272.8 211.8,264.9 211.8,262.7 211.9,269.8 211.9,272.9 212.0,281.8 212.0,276.3 212.0,266.7 212.1,261.0 212.1,261.1 212.1,259.5 212.2,268.8 212.2,272.7 212.2,262.5 212.3,262.9 212.3,272.1 212.4,267.3 212.4,262.6 212.4,296.6 212.5,280.7 212.5,271.0 212.5,267.6 212.6,256.5 212.6,262.1 212.7,270.9 212.7,267.9 212.7,277.8 212.8,296.8 212.8,273.3 212.8,264.7 212.9,266.6 212.9,260.8 212.9,248.8 213.0,261.0 213.0,271.6 213.1,267.5 213.1,269.4 213.1,268.8 213.2,273.8 213.2,268.0 213.2,268.6 213.3,284.9 213.3,279.3 213.4,273.2 213.4,262.8 213.4,270.7 213.5,276.2 213.5,265.0 213.5,285.1 213.6,270.4 213.6,267.0 213.6,263.3 213.7,266.8 213.7,276.6 213.8,266.2 213.8,271.4 213.8,274.7 213.9,295.5 213.9,258.0 213.9,271.8 214.0,274.6 214.0,274.3 214.0,277.8 214.1,287.9 214.1,289.7 214.2,266.4 214.2,266.7 214.2,271.5 214.3,269.5 214.3,265.5 214.3,275.5 214.4,275.5 214.4,277.2 214.5,268.9 214.5,267.9 214.5,278.6 214.6,279.1 214.6,262.2 214.6,273.4 214.7,271.0 214.7,275.4 214.7,264.1 214.8,267.9 214.8,272.5 214.9,288.4 214.9,277.2 214.9,272.2 215.0,264.7 215.0,277.3 215.0,262.9 215.1,268.7 215.1,280.2 215.2,273.2 215.2,276.6 215.2,277.9 215.3,279.0 215.3,275.6 215.3,276.9 215.4,286.2 215.4,274.9 215.4,276.7 215.5,265.4 215.5,264.4 215.6,263.4 215.6,265.9 215.6,259.3 215.7,267.6 215.7,276.5 215.7,271.4 215.8,290.8 215.8,283.6 215.8,275.9 215.9,277.3 215.9,264.9 216.0,263.1 216.0,266.4 216.0,271.7 216.1,263.7 216.1,272.4 216.1,274.9 216.2,267.8 216.2,265.3 216.3,253.8 216.3,264.2 216.3,281.3 216.4,271.6 216.4,262.6 216.4,268.2 216.5,276.8 216.5,252.4 216.5,266.7 216.6,272.6 216.6,283.4 216.7,272.4 216.7,266.9 216.7,264.9 216.8,277.1 216.8,279.8 216.8,286.0 216.9,295.1 216.9,290.6 217.0,292.5 217.0,283.4 217.0,274.5 217.1,268.7 217.1,273.5 217.1,275.9 217.2,273.9 217.2,268.8 217.2,274.4 217.3,271.8 217.3,274.0 217.4,276.7 217.4,274.1 217.4,280.9 217.5,268.9 217.5,281.6 217.5,273.5 217.6,282.4 217.6,266.5 217.7,263.0 217.7,273.3 217.7,275.9 217.8,282.0 217.8,277.5 217.8,271.8 217.9,253.8 217.9,272.7 217.9,263.6 218.0,272.0 218.0,270.1 218.1,264.9 218.1,264.7 218.1,265.4 218.2,270.2 218.2,271.3 218.2,270.7 218.3,262.9 218.3,278.0 218.3,289.9 218.4,284.3 218.4,286.5 218.5,284.4 218.5,270.6 218.5,256.2 218.6,254.6 218.6,271.9 218.6,271.6 218.7,280.1 218.7,273.1 218.8,263.7 218.8,263.9 218.8,271.6 218.9,282.7 218.9,284.4 218.9,292.5 219.0,283.2 219.0,273.8 219.0,264.1 219.1,270.8 219.1,271.1 219.2,270.0 219.2,266.5 219.2,268.7 219.3,278.4 219.3,267.8 219.3,267.3 219.4,267.2 219.4,279.0 219.5,275.9 219.5,286.5 219.5,293.8 219.6,284.9 219.6,281.9 219.6,273.3 219.7,262.8 219.7,268.0 219.7,257.7 219.8,269.4 219.8,265.7 219.9,278.2 219.9,274.6 219.9,276.0 220.0,275.9 220.0,270.2 220.0,284.9 220.1,278.1 220.1,281.2 220.2,276.2 220.2,271.8 220.2,275.0 220.3,276.6 220.3,283.0 220.3,274.1 220.4,278.3 220.4,272.5 220.4,282.9 220.5,268.2 220.5,277.9 220.6,267.2 220.6,273.3 220.6,269.3 220.7,272.2 220.7,267.8 220.7,270.4 220.8,262.7 220.8,263.1 220.8,263.3 220.9,256.3 220.9,269.6 221.0,262.1 221.0,267.1 221.0,280.6 221.1,273.5 221.1,274.7 221.1,262.0 221.2,271.0 221.2,271.7 221.3,270.8 221.3,285.5 221.3,275.7 221.4,281.5 221.4,267.4 221.4,267.8 221.5,265.9 221.5,280.8 221.5,275.7 221.6,273.2 221.6,268.1 221.7,272.8 221.7,281.4 221.7,278.4 221.8,282.4 221.8,265.2 221.8,274.3 221.9,278.4 221.9,276.2 222.0,283.5 222.0,281.6 222.0,278.4 222.1,295.7 222.1,278.1 222.1,266.9 222.2,267.0 222.2,279.7 222.2,279.6 222.3,271.2 222.3,276.9 222.4,274.5 222.4,274.2 222.4,270.0 222.5,273.0 222.5,274.2 222.5,279.9 222.6,274.1 222.6,280.3 222.6,277.5 222.7,269.2 222.7,272.9 222.8,267.6 222.8,271.1 222.8,271.7 222.9,272.9 222.9,278.4 222.9,282.5 223.0,291.4 223.0,291.3 223.1,276.3 223.1,277.8 223.1,278.8 223.2,271.2 223.2,258.4 223.2,272.5 223.3,269.1 223.3,270.5 223.3,274.2 223.4,294.0 223.4,281.0 223.5,271.4 223.5,270.9 223.5,279.3 223.6,265.2 223.6,263.4 223.6,260.3 223.7,277.3 223.7,277.4 223.8,279.2 223.8,272.0 223.8,263.3 223.9,282.0 223.9,277.7 223.9,276.6 224.0,286.1 224.0,271.2 224.0,281.5 224.1,279.0 224.1,283.7 224.2,284.2 224.2,278.7 224.2,279.6 224.3,274.7 224.3,285.0 224.3,263.0 224.4,259.5 224.4,261.5 224.5,276.8 224.5,290.6 224.5,288.3 224.6,282.7 224.6,262.5 224.6,258.9 224.7,270.1 224.7,295.0 224.7,260.0 224.8,266.8 224.8,261.7 224.9,265.5 224.9,274.3 224.9,282.4 225.0,279.0 225.0,269.4 225.0,292.5 225.1,289.0 225.1,277.6 225.1,295.0 225.2,271.6 225.2,307.5 225.3,288.6 225.3,258.7 225.3,276.6 225.4,282.7 225.4,262.5 225.4,270.3 225.5,273.0 225.5,271.9 225.6,265.5 225.6,261.2 225.6,266.4 225.7,272.6 225.7,273.6 225.7,271.7 225.8,263.6 225.8,267.9 225.8,258.1 225.9,272.2 225.9,278.2 226.0,259.3 226.0,257.6 226.0,263.5 226.1,275.1 226.1,279.6 226.1,278.0 226.2,273.9 226.2,275.8 226.3,285.3 226.3,284.9 226.3,302.3 226.4,269.1 226.4,281.6 226.4,280.5 226.5,289.2 226.5,285.7 226.5,254.9 226.6,264.1 226.6,271.6 226.7,277.1 226.7,284.2 226.7,292.4 226.8,283.6 226.8,280.9 226.8,267.2 226.9,282.3 226.9,275.2 226.9,265.3 227.0,283.6 227.0,274.3 227.1,285.7 227.1,276.3 227.1,283.6 227.2,269.7 227.2,270.0 227.2,277.1 227.3,273.7 227.3,269.3 227.4,271.5 227.4,273.9 227.4,271.4 227.5,267.1 227.5,282.3 227.5,278.0 227.6,281.0 227.6,274.2 227.6,267.0 227.7,268.5 227.7,262.4 227.8,275.4 227.8,277.9 227.8,283.2 227.9,278.4 227.9,275.8 227.9,276.6 228.0,284.1 228.0,279.9 228.1,280.3 228.1,273.1 228.1,275.8 228.2,266.9 228.2,269.1 228.2,285.0 228.3,281.0 228.3,287.9 228.3,274.4 228.4,264.4 228.4,269.7 228.5,269.0 228.5,282.0 228.5,294.3 228.6,288.4 228.6,283.3 228.6,289.7 228.7,281.5 228.7,275.9 228.8,270.7 228.8,261.7 228.8,283.9 228.9,271.2 228.9,272.2 228.9,269.2 229.0,279.4 229.0,267.6 229.0,264.8 229.1,271.4 229.1,285.6 229.2,249.2 229.2,256.0 229.2,258.7 229.3,254.0 229.3,257.4 229.3,264.6 229.4,264.7 229.4,276.2 229.4,270.4 229.5,283.5 229.5,276.1 229.6,271.5 229.6,284.2 229.6,242.0 229.7,278.5 229.7,269.2 229.7,275.8 229.8,273.1 229.8,278.6 229.9,259.1 229.9,259.6 229.9,254.4 230.0,259.0 230.0,262.0 230.0,267.3 230.1,272.7 230.1,269.4 230.1,271.0 230.2,273.9 230.2,284.1 230.3,281.6 230.3,290.9 230.3,277.7 230.4,273.7 230.4,275.3 230.4,282.3 230.5,284.9 230.5,288.3 230.6,282.0 230.6,280.2 230.6,269.6 230.7,279.9 230.7,291.8 230.7,278.4 230.8,279.8 230.8,278.2 230.8,258.4 230.9,256.2 230.9,261.3 231.0,261.4 231.0,267.2 231.0,264.2 231.1,273.8 231.1,279.4 231.1,280.4 231.2,266.9 231.2,259.6 231.3,276.5 231.3,299.5 231.3,271.0 231.4,265.3 231.4,272.3 231.4,266.8 231.5,271.6 231.5,275.2 231.5,290.4 231.6,273.9 231.6,286.5 231.7,286.4 231.7,268.6 231.7,278.8 231.8,287.6 231.8,297.3 231.8,306.0 231.9,294.8 231.9,275.2 231.9,286.6 232.0,283.0 232.0,292.0 232.1,289.3 232.1,272.6 232.1,271.5 232.2,263.6 232.2,257.5 232.2,258.9 232.3,271.0 232.3,282.4 232.4,286.1 232.4,292.9 232.4,271.1 232.5,274.4 232.5,273.7 232.5,272.9 232.6,259.6 232.6,271.3 232.6,264.7 232.7,267.7 232.7,272.4 232.8,287.3 232.8,274.6 232.8,280.1 232.9,304.8 232.9,276.3 232.9,275.0 233.0,267.0 233.0,275.8 233.1,274.2 233.1,272.6 233.1,273.6 233.2,269.5 233.2,274.1 233.2,266.0 233.3,275.6 233.3,285.5 233.3,280.6 233.4,269.4 233.4,275.9 233.5,280.0 233.5,280.0 233.5,276.4 233.6,277.0 233.6,273.8 233.6,286.7 233.7,270.2 233.7,268.5 233.7,278.0 233.8,266.8 233.8,267.7 233.9,261.0 233.9,276.4 233.9,264.0 234.0,269.2 234.0,286.8 234.0,275.6 234.1,277.6 234.1,283.6 234.2,280.9 234.2,291.9 234.2,279.4 234.3,289.7 234.3,278.9 234.3,267.0 234.4,270.8 234.4,277.7 234.4,283.2 234.5,279.7 234.5,269.9 234.6,276.7 234.6,283.4 234.6,272.7 234.7,273.6 234.7,274.6 234.7,260.1 234.8,276.3 234.8,274.4 234.9,287.5 234.9,283.5 234.9,275.2 235.0,267.2 235.0,280.3 235.0,271.9 235.1,268.0 235.1,272.5 235.1,256.4 235.2,265.9 235.2,276.9 235.3,273.1 235.3,294.6 235.3,270.3 235.4,265.8 235.4,273.4 235.4,270.0 235.5,268.9 235.5,258.3 235.6,271.2 235.6,282.5 235.6,293.4 235.7,286.5 235.7,292.1 235.7,285.0 235.8,277.3 235.8,279.5 235.8,284.2 235.9,271.3 235.9,274.8 236.0,273.5 236.0,267.7 236.0,280.9 236.1,284.7 236.1,262.3 236.1,299.0 236.2,280.2 236.2,279.6 236.2,281.6 236.3,287.3 236.3,284.3 236.4,280.1 236.4,277.9 236.4,272.9 236.5,286.5 236.5,291.7 236.5,278.0 236.6,279.9 236.6,269.1 236.7,270.1 236.7,282.9 236.7,275.4 236.8,282.7 236.8,277.3 236.8,267.7 236.9,256.6 236.9,266.6 236.9,280.0 237.0,268.7 237.0,266.5 237.1,289.2 237.1,285.2 237.1,278.3 237.2,273.6 237.2,280.0 237.2,271.9 237.3,265.9 237.3,270.3 237.4,274.6 237.4,287.2 237.4,275.7 237.5,267.3 237.5,260.8 237.5,271.6 237.6,305.7 237.6,294.7 237.6,272.6 237.7,272.6 237.7,272.0 237.8,270.4 237.8,270.4 237.8,273.9 237.9,282.2 237.9,283.3 237.9,278.7 238.0,274.4 238.0,277.7 238.1,285.2 238.1,268.0 238.1,275.2 238.2,273.9 238.2,277.1 238.2,282.5 238.3,289.9 238.3,286.6 238.3,287.0 238.4,275.4 238.4,283.7 238.5,282.7 238.5,274.6 238.5,276.0 238.6,272.4 238.6,268.2 238.6,283.7 238.7,282.7 238.7,286.1 238.7,271.4 238.8,274.4 238.8,271.6 238.9,261.7 238.9,271.3 238.9,273.0 239.0,271.6 239.0,275.6 239.0,266.9 239.1,265.6 239.1,263.7 239.2,269.4 239.2,275.1 239.2,278.0 239.3,279.5 239.3,289.3 239.3,280.1 239.4,272.2 239.4,274.2 239.4,278.5 239.5,277.0 239.5,274.9 239.6,273.1 239.6,261.9 239.6,274.9 239.7,272.9 239.7,269.6 239.7,272.2 239.8,275.8 239.8,283.1 239.9,292.9 239.9,274.9 239.9,265.2 240.0,275.2 240.0,272.3 240.0,270.5 240.1,266.2 240.1,274.4 240.1,269.6 240.2,266.6 240.2,279.5 240.3,297.7 240.3,289.1 240.3,300.7 240.4,292.0 240.4,294.9 240.4,281.9 240.5,272.1 240.5,276.2 240.5,277.1 240.6,278.3 240.6,279.0 240.7,276.6 240.7,273.9 240.7,278.3 240.8,282.7 240.8,283.1 240.8,274.0 240.9,278.0 240.9,267.0 241.0,273.3 241.0,265.2 241.0,279.0 241.1,282.5 241.1,276.0 241.1,272.7 241.2,275.6 241.2,261.7 241.2,268.5 241.3,270.3 241.3,282.3 241.4,265.2 241.4,284.4 241.4,279.0 241.5,283.4 241.5,277.3 241.5,280.1 241.6,275.4 241.6,269.5 241.7,278.1 241.7,275.7 241.7,269.9 241.8,272.0 241.8,276.5 241.8,283.8 241.9,284.7 241.9,289.4 241.9,276.0 242.0,275.5 242.0,284.4 242.1,280.4 242.1,287.4 242.1,304.7 242.2,290.2 242.2,271.2 242.2,284.0 242.3,285.2 242.3,279.4 242.4,280.6 242.4,284.5 242.4,284.0 242.5,281.9 242.5,283.0 242.5,278.3 242.6,279.0 242.6,283.0 242.6,279.6 242.7,295.5 242.7,285.8 242.8,286.8 242.8,282.3 242.8,281.7 242.9,273.9 242.9,273.4 242.9,266.2 243.0,279.2 243.0,278.4 243.0,276.5 243.1,280.0 243.1,282.4 243.2,270.6 243.2,278.5 243.2,280.9 243.3,280.7 243.3,280.1 243.3,277.3 243.4,285.3 243.4,274.9 243.5,274.9 243.5,272.5 243.5,265.1 243.6,276.7 243.6,265.3 243.6,274.1 243.7,270.8 243.7,272.7 243.7,276.7 243.8,290.3 243.8,272.4 243.9,279.8 243.9,302.0 243.9,272.9 244.0,274.3 244.0,262.4 244.0,258.0 244.1,262.5 244.1,267.9 244.2,267.1 244.2,281.0 244.2,277.8 244.3,276.3 244.3,283.9 244.3,276.6 244.4,286.8 244.4,275.6 244.4,267.4 244.5,281.0 244.5,278.0 244.6,266.8 244.6,269.0 244.6,280.0 244.7,285.3 244.7,275.2 244.7,263.4 244.8,277.7 244.8,277.0 244.9,282.3 244.9,281.6 244.9,277.2 245.0,277.3 245.0,281.9 245.0,265.0 245.1,272.1 245.1,275.8 245.1,268.8 245.2,272.8 245.2,276.3 245.3,270.1 245.3,280.7 245.3,273.7 245.4,279.4 245.4,268.1 245.4,273.8 245.5,275.5 245.5,288.1 245.5,283.5 245.6,278.3 245.6,271.7 245.7,273.4 245.7,277.9 245.7,283.3 245.8,296.2 245.8,277.9 245.8,273.9 245.9,273.8 245.9,278.5 246.0,316.9 246.0,281.2 246.0,280.8 246.1,294.1 246.1,307.1 246.1,299.7 246.2,282.9 246.2,280.6 246.2,277.9 246.3,269.6 246.3,280.5 246.4,271.0 246.4,271.5 246.4,279.2 246.5,268.0 246.5,282.4 246.5,287.5 246.6,294.9 246.6,277.7 246.7,278.8 246.7,292.6 246.7,290.7 246.8,282.7 246.8,262.6 246.8,260.5 246.9,268.1 246.9,280.1 246.9,276.4 247.0,284.8 247.0,279.7 247.1,276.0 247.1,296.5 247.1,289.1 247.2,279.2 247.2,282.2 247.2,269.2 247.3,269.3 247.3,275.4 247.3,281.6 247.4,278.2 247.4,273.9 247.5,269.8 247.5,263.5 247.5,267.3 247.6,279.9 247.6,264.8 247.6,263.1 247.7,264.6 247.7,286.6 247.8,279.7 247.8,281.1 247.8,289.0 247.9,271.9 247.9,282.7 247.9,282.2 248.0,269.4 248.0,269.0 248.0,275.8 248.1,263.8 248.1,279.6 248.2,280.0 248.2,278.0 248.2,274.2 248.3,277.7 248.3,283.2 248.3,278.9 248.4,287.1 248.4,278.6 248.5,280.2 248.5,272.5 248.5,278.0 248.6,282.3 248.6,277.1 248.6,268.9 248.7,287.3 248.7,290.6 248.7,275.2 248.8,286.0 248.8,287.7 248.9,278.2 248.9,283.5 248.9,284.8 249.0,269.4 249.0,279.9 249.0,284.6 249.1,296.8 249.1,294.6 249.2,294.4 249.2,274.3 249.2,267.6 249.3,281.2 249.3,269.6 249.3,266.5 249.4,273.2 249.4,269.8 249.4,271.1 249.5,279.5 249.5,290.5 249.6,290.2 249.6,283.9 249.6,283.1 249.7,285.4 249.7,274.8 249.7,283.4 249.8,274.4 249.8,279.3 249.8,277.7 249.9,285.2 249.9,281.5 250.0,284.8 250.0,293.1 250.0,285.5 250.1,281.9 250.1,274.1 250.1,273.9 250.2,282.6 250.2,284.3 250.3,297.9 250.3,319.6 250.3,277.6 250.4,267.3 250.4,267.2 250.4,270.4 250.5,270.0 250.5,270.5 250.5,285.9 250.6,287.7 250.6,274.6 250.7,268.0 250.7,271.2 250.7,279.0 250.8,279.7 250.8,282.4 250.8,286.3 250.9,295.1 250.9,285.4 251.0,284.6 251.0,282.6 251.0,268.4 251.1,269.0 251.1,278.1 251.1,273.9 251.2,286.1 251.2,274.7 251.2,287.7 251.3,277.3 251.3,273.6 251.4,265.7 251.4,274.9 251.4,283.0 251.5,265.9 251.5,271.7 251.5,264.5 251.6,275.7 251.6,274.1 251.7,280.3 251.7,274.7 251.7,278.1 251.8,282.5 251.8,269.5 251.8,271.3 251.9,288.4 251.9,284.7 251.9,287.5 252.0,290.9 252.0,288.3 252.1,286.3 252.1,281.8 252.1,285.2 252.2,294.2 252.2,289.6 252.2,277.7 252.3,287.1 252.3,278.2 252.3,274.8 252.4,279.4 252.4,276.4 252.5,282.2 252.5,282.7 252.5,287.3 252.6,279.3 252.6,269.2 252.6,278.1 252.7,269.7 252.7,288.4 252.8,289.2 252.8,290.4 252.8,272.3 252.9,279.1 252.9,273.1 252.9,289.5 253.0,282.9 253.0,276.5 253.0,277.4 253.1,296.3 253.1,285.9 253.2,276.3 253.2,268.0 253.2,271.9 253.3,285.6 253.3,283.2 253.3,274.3 253.4,281.7 253.4,275.9 253.5,280.2 253.5,278.4 253.5,272.9 253.6,280.2 253.6,259.3 253.6,267.5 253.7,270.3 253.7,279.2 253.7,278.1 253.8,279.8 253.8,288.9 253.9,294.0 253.9,325.7 253.9,303.6 254.0,297.8 254.0,302.7 254.0,292.4 254.1,285.6 254.1,277.6 254.1,286.3 254.2,278.0 254.2,280.1 254.3,282.5 254.3,281.2 254.3,272.7 254.4,271.5 254.4,268.5 254.4,278.0 254.5,279.9 254.5,286.9 254.6,286.3 254.6,284.8 254.6,296.8 254.7,276.3 254.7,274.2 254.7,270.8 254.8,273.5 254.8,268.3 254.8,272.3 254.9,272.3 254.9,269.7 255.0,271.3 255.0,273.8 255.0,284.4 255.1,291.2 255.1,271.0 255.1,308.9 255.2,271.8 255.2,276.0 255.3,280.2 255.3,259.2 255.3,276.3 255.4,277.6 255.4,278.1 255.4,285.9 255.5,290.7 255.5,289.2 255.5,286.0 255.6,285.3 255.6,276.0 255.7,285.1 255.7,278.8 255.7,268.2 255.8,266.9 255.8,280.3 255.8,299.6 255.9,282.9 255.9,277.0 256.0,281.6 256.0,270.9 256.0,277.2 256.1,276.9 256.1,284.6 256.1,279.1 256.2,281.5 256.2,284.8 256.2,273.1 256.3,274.1 256.3,286.4 256.4,277.4 256.4,271.9 256.4,280.7 256.5,282.1 256.5,279.7 256.5,280.6 256.6,278.4 256.6,273.7 256.6,280.9 256.7,264.3 256.7,276.1 256.8,280.8 256.8,265.8 256.8,255.4 256.9,281.3 256.9,273.5 256.9,295.4 257.0,272.7 257.0,274.2 257.1,282.0 257.1,277.2 257.1,268.1 257.2,268.3 257.2,257.9 257.2,260.0 257.3,266.0 257.3,272.2 257.3,271.3 257.4,266.3 257.4,266.2 257.5,264.8 257.5,269.9 257.5,268.7 257.6,265.0 257.6,272.7 257.6,284.3 257.7,274.9 257.7,269.6 257.8,276.9 257.8,275.9 257.8,278.7 257.9,290.2 257.9,285.4 257.9,291.6 258.0,283.4 258.0,281.5 258.0,272.0 258.1,275.9 258.1,274.4 258.2,278.3 258.2,280.8 258.2,289.1 258.3,276.8 258.3,276.3 258.3,281.2 258.4,278.2 258.4,304.4 258.4,284.6 258.5,279.6 258.5,270.5 258.6,276.2 258.6,287.0 258.6,286.8 258.7,270.0 258.7,279.7 258.7,270.7 258.8,276.1 258.8,272.0 258.9,275.8 258.9,287.9 258.9,285.9 259.0,267.4 259.0,273.7 259.0,287.4 259.1,277.4 259.1,278.7 259.1,276.2 259.2,273.9 259.2,260.7 259.3,279.9 259.3,275.1 259.3,281.2 259.4,288.7 259.4,294.6 259.4,281.8 259.5,292.8 259.5,275.8 259.6,271.0 259.6,276.6 259.6,285.4 259.7,281.6 259.7,285.9 259.7,271.1 259.8,279.8 259.8,281.6 259.8,280.2 259.9,281.1 259.9,283.9 260.0,292.9 260.0,296.9 260.0,292.2 260.1,286.7 260.1,275.5 260.1,260.9 260.2,257.7 260.2,269.3 260.3,258.7 260.3,269.2 260.3,277.3 260.4,266.4 260.4,277.3 260.4,280.6 260.5,281.2 260.5,269.6 260.5,278.0 260.6,272.7 260.6,278.2 260.7,286.7 260.7,280.8 260.7,278.3 260.8,286.2 260.8,288.2 260.8,289.9 260.9,276.8 260.9,274.3 260.9,274.6 261.0,273.0 261.0,283.1 261.1,275.2 261.1,280.9 261.1,288.7 261.2,288.3 261.2,281.8 261.2,279.4 261.3,271.5 261.3,286.5 261.4,283.9 261.4,284.9 261.4,284.9 261.5,281.2 261.5,281.8 261.5,287.8 261.6,275.2 261.6,286.3 261.6,275.3 261.7,279.6 261.7,285.4 261.8,287.9 261.8,288.3 261.8,289.0 261.9,281.7 261.9,292.9 261.9,277.0 262.0,271.8 262.0,265.4 262.1,278.6 262.1,294.4 262.1,290.6 262.2,285.6 262.2,284.4 262.2,282.6 262.3,292.6 262.3,291.9 262.3,289.1 262.4,278.0 262.4,282.4 262.5,305.7 262.5,270.9 262.5,279.9 262.6,279.0 262.6,267.3 262.6,274.7 262.7,269.2 262.7,271.7 262.8,273.4 262.8,270.8 262.8,276.1 262.9,278.6 262.9,271.7 262.9,273.2 263.0,272.2 263.0,283.5 263.0,280.7 263.1,271.1 263.1,268.4 263.2,270.9 263.2,278.1 263.2,282.4 263.3,277.2 263.3,267.9 263.3,272.7 263.4,266.4 263.4,274.4 263.4,272.9 263.5,280.0 263.5,277.8 263.6,285.3 263.6,277.2 263.6,273.7 263.7,282.5 263.7,285.5 263.7,284.9 263.8,291.8 263.8,291.4 263.9,290.8 263.9,279.1 263.9,269.1 264.0,276.7 264.0,279.4 264.0,277.3 264.1,281.4 264.1,281.7 264.1,274.2 264.2,274.6 264.2,277.0 264.3,281.5 264.3,269.7 264.3,278.2 264.4,277.4 264.4,284.9 264.4,285.7 264.5,281.3 264.5,282.5 264.6,276.6 264.6,276.9 264.6,287.0 264.7,298.5 264.7,281.3 264.7,283.7 264.8,270.6 264.8,274.1 264.8,281.2 264.9,275.7 264.9,278.6 265.0,278.1 265.0,284.3 265.0,276.6 265.1,269.5 265.1,277.2 265.1,265.0 265.2,275.2 265.2,290.2 265.2,287.3 265.3,295.6 265.3,272.0 265.4,264.8 265.4,263.1 265.4,281.9 265.5,278.0 265.5,274.7 265.5,299.2 265.6,274.2 265.6,281.9 265.7,280.6 265.7,286.7 265.7,284.2 265.8,278.0 265.8,282.8 265.8,281.7 265.9,282.2 265.9,279.4 265.9,271.7 266.0,272.6 266.0,271.9 266.1,284.2 266.1,282.9 266.1,274.1 266.2,281.2 266.2,281.8 266.2,285.8 266.3,271.9 266.3,277.3 266.4,281.8 266.4,274.8 266.4,267.9 266.5,268.7 266.5,265.6 266.5,269.4 266.6,273.7 266.6,277.9 266.6,280.5 266.7,282.4 266.7,276.6 266.8,277.1 266.8,275.9 266.8,289.3 266.9,274.1 266.9,284.4 266.9,285.5 267.0,288.4 267.0,295.2 267.1,284.7 267.1,288.4 267.1,290.9 267.2,290.6 267.2,277.0 267.2,278.4 267.3,270.0 267.3,273.3 267.3,277.3 267.4,272.4 267.4,269.7 267.5,271.7 267.5,280.6 267.5,281.1 267.6,286.3 267.6,282.5 267.6,278.1 267.7,266.3 267.7,267.4 267.7,263.3 267.8,274.2 267.8,267.1 267.9,251.8 267.9,252.8 267.9,245.5 268.0,257.5 268.0,263.2 268.0,261.7 268.1,266.9 268.1,268.6 268.2,278.4 268.2,270.0 268.2,271.3 268.3,267.3 268.3,272.4 268.3,285.7 268.4,276.5 268.4,267.4 268.4,279.7 268.5,283.7 268.5,281.0 268.6,279.3 268.6,288.5 268.6,269.1 268.7,264.6 268.7,273.6 268.7,286.3 268.8,277.6 268.8,262.1 268.9,262.2 268.9,298.4 268.9,285.9 269.0,272.0 269.0,283.2 269.0,264.8 269.1,265.3 269.1,284.0 269.1,291.6 269.2,279.2 269.2,275.4 269.3,276.6 269.3,270.8 269.3,258.2 269.4,263.3 269.4,280.8 269.4,278.1 269.5,284.8 269.5,284.6 269.6,276.6 269.6,276.1 269.6,282.0 269.7,277.7 269.7,296.4 269.7,273.4 269.8,274.9 269.8,271.2 269.8,273.9 269.9,268.3 269.9,271.5 270.0,272.3 270.0,276.5 270.0,273.6 270.1,285.5 270.1,260.6 270.1,271.4 270.2,271.3 270.2,275.3 270.2,277.3 270.3,272.1 270.3,275.9 270.4,277.1 270.4,284.3 270.4,284.8 270.5,286.7 270.5,267.0 270.5,278.9 270.6,283.0 270.6,276.3 270.7,264.4 270.7,280.0 270.7,286.8 270.8,278.6 270.8,273.0 270.8,282.3 270.9,289.6 270.9,287.4 270.9,274.5 271.0,283.7 271.0,267.5 271.1,270.4 271.1,271.4 271.1,267.3 271.2,283.3 271.2,269.4 271.2,276.8 271.3,278.4 271.3,271.8 271.4,273.3 271.4,277.6 271.4,270.0 271.5,267.0 271.5,269.2 271.5,275.6 271.6,267.3 271.6,252.0 271.6,267.3 271.7,280.0 271.7,281.0 271.8,282.5 271.8,285.6 271.8,305.3 271.9,272.9 271.9,277.9 271.9,258.3 272.0,259.5 272.0,268.5 272.0,262.2 272.1,278.2 272.1,273.2 272.2,280.1 272.2,267.0 272.2,261.9 272.3,269.5 272.3,272.2 272.3,271.2 272.4,269.5 272.4,264.2 272.5,266.9 272.5,265.9 272.5,304.0 272.6,276.6 272.6,285.9 272.6,265.8 272.7,258.4 272.7,259.4 272.7,257.1 272.8,249.8 272.8,260.2 272.9,272.8 272.9,272.9 272.9,287.8 273.0,284.5 273.0,285.9 273.0,280.1 273.1,271.3 273.1,277.0 273.2,275.4 273.2,270.7 273.2,271.3 273.3,271.8 273.3,287.4 273.3,281.6 273.4,270.2 273.4,268.2 273.4,284.1 273.5,276.3 273.5,271.2 273.6,277.2 273.6,268.8 273.6,274.8 273.7,286.1 273.7,272.8 273.7,255.8 273.8,264.9 273.8,271.2 273.9,265.5 273.9,270.8 273.9,268.8 274.0,284.8 274.0,275.1 274.0,272.4 274.1,279.9 274.1,265.3 274.1,269.0 274.2,270.6 274.2,279.1 274.3,285.5 274.3,281.4 274.3,285.9 274.4,274.3 274.4,265.8 274.4,272.0 274.5,281.8 274.5,278.3 274.5,281.1 274.6,274.1 274.6,238.4 274.7,272.8 274.7,273.8 274.7,262.7 274.8,254.2 274.8,275.6 274.8,262.3 274.9,267.4 274.9,275.6 275.0,275.4 275.0,263.6 275.0,265.4 275.1,264.8 275.1,268.1 275.1,275.9 275.2,260.2 275.2,258.4 275.2,261.9 275.3,258.8 275.3,255.0 275.4,263.4 275.4,262.2 275.4,267.8 275.5,263.9 275.5,268.2 275.5,251.8 275.6,262.8 275.6,262.3 275.7,262.4 275.7,268.0 275.7,262.0 275.8,266.0 275.8,270.3 275.8,269.5 275.9,274.4 275.9,263.3 275.9,261.7 276.0,258.5 276.0,273.0 276.1,269.0 276.1,274.2 276.1,270.9 276.2,261.0 276.2,263.1 276.2,272.5 276.3,260.1 276.3,257.4 276.4,250.2 276.4,272.3 276.4,275.8 276.5,271.3 276.5,276.0 276.5,271.5 276.6,278.0 276.6,293.7 276.6,284.9 276.7,278.5 276.7,260.6 276.8,269.5 276.8,277.1 276.8,286.4 276.9,279.8 276.9,275.8 276.9,271.1 277.0,279.7 277.0,279.3 277.0,289.5 277.1,279.7 277.1,283.9 277.2,295.1 277.2,273.7 277.2,267.5 277.3,265.4 277.3,264.4 277.3,273.5 277.4,263.4 277.4,273.0 277.5,257.4 277.5,261.2 277.5,277.4 277.6,266.8 277.6,253.8 277.6,262.7 277.7,258.0 277.7,264.5 277.7,270.6 277.8,287.2 277.8,269.0 277.9,273.2 277.9,267.2 277.9,275.4 278.0,278.0 278.0,265.2 278.0,269.2 278.1,288.7 278.1,278.3 278.2,271.7 278.2,264.3 278.2,269.3 278.3,269.8 278.3,277.3 278.3,262.8 278.4,269.6 278.4,269.7 278.4,257.1 278.5,263.9 278.5,276.6 278.6,278.5 278.6,275.6 278.6,259.2 278.7,261.9 278.7,266.3 278.7,261.2 278.8,255.3 278.8,276.5 278.8,257.1 278.9,256.3 278.9,272.8 279.0,279.5 279.0,272.1 279.0,260.1 279.1,271.3 279.1,250.4 279.1,258.4 279.2,269.9 279.2,264.5 279.3,263.8 279.3,259.7 279.3,265.0 279.4,257.1 279.4,266.0 279.4,265.7 279.5,275.1 279.5,276.7 279.5,270.5 279.6,273.4 279.6,282.3 279.7,271.6 279.7,267.6 279.7,291.6 279.8,259.1 279.8,255.9 279.8,260.0 279.9,267.8 279.9,278.2 280.0,275.0 280.0,276.5 280.0,284.3 280.1,264.1 280.1,278.3 280.1,270.1 280.2,264.6 280.2,267.3 280.2,249.0 280.3,257.7 280.3,267.6 280.4,257.7 280.4,266.4 280.4,276.6 280.5,278.6 280.5,277.1 280.5,271.6 280.6,266.7 280.6,277.3 280.7,269.5 280.7,252.4 280.7,264.5 280.8,266.4 280.8,261.6 280.8,255.6 280.9,265.7 280.9,272.9 280.9,276.7 281.0,263.9 281.0,258.9 281.1,277.8 281.1,287.1 281.1,285.4 281.2,286.4 281.2,273.5 281.2,268.4 281.3,253.6 281.3,254.4 281.3,259.5 281.4,254.6 281.4,266.7 281.5,276.3 281.5,271.0 281.5,262.0 281.6,290.5 281.6,264.6 281.6,259.3 281.7,266.3 281.7,265.0 281.8,267.5 281.8,266.2 281.8,260.5 281.9,268.9 281.9,260.2 281.9,257.0 282.0,255.2 282.0,274.4 282.0,283.3 282.1,269.8 282.1,272.0 282.2,273.9 282.2,275.3 282.2,280.1 282.3,275.1 282.3,275.7 282.3,275.5 282.4,267.5 282.4,275.1 282.5,262.8 282.5,280.1 282.5,255.6 282.6,270.5 282.6,264.3 282.6,258.9 282.7,262.6 282.7,259.3 282.7,263.6 282.8,277.4 282.8,269.5 282.9,259.9 282.9,267.1 282.9,278.7 283.0,276.9 283.0,269.4 283.0,265.9 283.1,258.5 283.1,258.6 283.2,259.1 283.2,277.0 283.2,256.1 283.3,261.1 283.3,257.8 283.3,264.7 283.4,266.8 283.4,266.4 283.4,255.5 283.5,250.5 283.5,254.3 283.6,246.6 283.6,259.5 283.6,259.6 283.7,266.5 283.7,257.6 283.7,262.0 283.8,257.6 283.8,250.1 283.8,273.2 283.9,254.8 283.9,258.7 284.0,265.1 284.0,279.6 284.0,275.5 284.1,287.5 284.1,276.7 284.1,273.1 284.2,257.3 284.2,264.5 284.3,258.3 284.3,268.1 284.3,246.3 284.4,258.5 284.4,257.5 284.4,273.2 284.5,278.1 284.5,274.6 284.5,271.2 284.6,277.9 284.6,275.5 284.7,266.5 284.7,270.2 284.7,269.9 284.8,240.2 284.8,261.5 284.8,251.9 284.9,258.2 284.9,263.7 285.0,253.8 285.0,257.3 285.0,267.2 285.1,277.0 285.1,296.7 285.1,256.5 285.2,266.3 285.2,246.5 285.2,257.1 285.3,264.0 285.3,256.5 285.4,263.9 285.4,285.5 285.4,272.9 285.5,288.2 285.5,278.7 285.5,271.7 285.6,274.5 285.6,285.2 285.6,273.3 285.7,271.7 285.7,275.9 285.8,274.3 285.8,287.1 285.8,266.3 285.9,270.6 285.9,265.6 285.9,257.0 286.0,254.5 286.0,259.9 286.1,264.0 286.1,283.7 286.1,259.6 286.2,259.8 286.2,267.2 286.2,264.5 286.3,263.7 286.3,261.1 286.3,263.3 286.4,256.1 286.4,260.8 286.5,258.3 286.5,263.0 286.5,269.8 286.6,275.9 286.6,273.3 286.6,267.1 286.7,258.8 286.7,289.6 286.8,270.1 286.8,273.0 286.8,261.6 286.9,264.4 286.9,270.1 286.9,264.1 287.0,275.8 287.0,293.6 287.0,270.4 287.1,270.5 287.1,277.9 287.2,266.4 287.2,255.7 287.2,271.7 287.3,269.4 287.3,264.6 287.3,250.7 287.4,262.8 287.4,272.6 287.5,270.8 287.5,255.6 287.5,261.9 287.6,263.6 287.6,253.7 287.6,276.6 287.7,288.2 287.7,272.3 287.7,265.2 287.8,277.0 287.8,269.5 287.9,333.0 287.9,300.3 287.9,274.2 288.0,275.0 288.0,278.4 288.0,273.5 288.1,273.1 288.1,259.3 288.1,259.9 288.2,296.5 288.2,269.7 288.3,259.4 288.3,262.5 288.3,258.3 288.4,264.2 288.4,261.9 288.4,272.4 288.5,265.4 288.5,277.3 288.6,264.3 288.6,277.7 288.6,288.7 288.7,275.5 288.7,273.8 288.7,271.0 288.8,267.4 288.8,268.8 288.8,290.1 288.9,271.2 288.9,268.1 289.0,265.5 289.0,253.6 289.0,267.0 289.1,268.0 289.1,265.1 289.1,270.7 289.2,278.9 289.2,295.2 289.3,266.8 289.3,270.4 289.3,265.9 289.4,273.3 289.4,268.6 289.4,274.2 289.5,278.2 289.5,273.4 289.5,271.5 289.6,260.4 289.6,276.9 289.7,270.0 289.7,258.8 289.7,254.9 289.8,266.9 289.8,272.8 289.8,275.1 289.9,270.7 289.9,269.3 289.9,267.4 290.0,264.7 290.0,275.3 290.1,280.9 290.1,284.5 290.1,287.1 290.2,279.6 290.2,275.3 290.2,253.9 290.3,258.5 290.3,264.5 290.4,257.6 290.4,281.5 290.4,267.7 290.5,262.4 290.5,261.0 290.5,263.1 290.6,269.5 290.6,279.0 290.6,276.1 290.7,277.8 290.7,277.4 290.8,271.2 290.8,267.2 290.8,280.5 290.9,268.9 290.9,276.1 290.9,284.7 291.0,287.7 291.0,283.9 291.1,269.5 291.1,265.3 291.1,276.5 291.2,273.2 291.2,273.0 291.2,283.2 291.3,284.2 291.3,292.1 291.3,287.8 291.4,298.3 291.4,290.4 291.5,287.4 291.5,285.0 291.5,283.9 291.6,269.4 291.6,272.8 291.6,270.3 291.7,265.4 291.7,261.9 291.8,261.8 291.8,270.4 291.8,278.6 291.9,280.4 291.9,279.2 291.9,275.2 292.0,273.8 292.0,264.8 292.0,268.7 292.1,257.3 292.1,257.0 292.2,267.5 292.2,263.3 292.2,287.7 292.3,269.7 292.3,267.6 292.3,278.9 292.4,280.9 292.4,258.2 292.4,275.8 292.5,270.0 292.5,262.7 292.6,268.4 292.6,275.9 292.6,268.9 292.7,277.3 292.7,280.7 292.7,269.2 292.8,262.3 292.8,275.4 292.9,264.6 292.9,265.9 292.9,259.0 293.0,267.6 293.0,256.3 293.0,258.9 293.1,259.5 293.1,270.6 293.1,267.0 293.2,264.5 293.2,273.8 293.3,280.8 293.3,281.5 293.3,267.9 293.4,267.7 293.4,262.9 293.4,265.1 293.5,267.4 293.5,267.9 293.6,272.5 293.6,263.3 293.6,266.2 293.7,267.2 293.7,279.1 293.7,273.1 293.8,277.0 293.8,277.8 293.8,267.3 293.9,277.1 293.9,275.7 294.0,269.1 294.0,262.1 294.0,270.5 294.1,268.7 294.1,268.1 294.1,277.8 294.2,289.7 294.2,294.2 294.3,278.6 294.3,274.3 294.3,282.4 294.4,281.5 294.4,286.0 294.4,277.9 294.5,276.6 294.5,257.6 294.5,270.1 294.6,269.8 294.6,276.1 294.7,278.3 294.7,281.1 294.7,278.0 294.8,300.3 294.8,272.6 294.8,273.8 294.9,277.4 294.9,260.9 294.9,274.5 295.0,270.5 295.0,255.7 295.1,268.7 295.1,260.8 295.1,256.1 295.2,261.5 295.2,279.6 295.2,265.6 295.3,267.9 295.3,273.6 295.4,263.6 295.4,272.7 295.4,264.6 295.5,272.0 295.5,268.0 295.5,277.4 295.6,277.3 295.6,281.0 295.6,281.3 295.7,275.2 295.7,274.6 295.8,271.8 295.8,262.7 295.8,268.0 295.9,283.0 295.9,279.3 295.9,282.1 296.0,266.1 296.0,262.3 296.1,259.9 296.1,267.4 296.1,265.0 296.2,278.5 296.2,266.0 296.2,273.8 296.3,265.1 296.3,271.1 296.3,271.0 296.4,276.1 296.4,269.9 296.5,280.2 296.5,269.1 296.5,266.6 296.6,254.8 296.6,263.8 296.6,272.0 296.7,268.7 296.7,279.6 296.7,271.6 296.8,279.5 296.8,283.4 296.9,281.6 296.9,289.4 296.9,283.6 297.0,285.9 297.0,280.8 297.0,271.1 297.1,272.8 297.1,267.5 297.2,262.8 297.2,287.5 297.2,269.8 297.3,273.7 297.3,285.9 297.3,283.7 297.4,274.4 297.4,280.8 297.4,266.8 297.5,259.2 297.5,268.1 297.6,263.4 297.6,277.7 297.6,282.1 297.7,279.6 297.7,275.7 297.7,275.1 297.8,279.6 297.8,261.8 297.9,264.8 297.9,266.3 297.9,264.3 298.0,266.8 298.0,271.0 298.0,279.4 298.1,285.2 298.1,268.0 298.1,276.4 298.2,285.9 298.2,284.6 298.3,289.6 298.3,266.7 298.3,266.7 298.4,259.4 298.4,255.4 298.4,227.5 298.5,261.7 298.5,271.9 298.6,272.5 298.6,276.5 298.6,273.9 298.7,277.9 298.7,266.8 298.7,263.6 298.8,268.5 298.8,282.0 298.8,280.7 298.9,265.8 298.9,269.4 299.0,279.6 299.0,272.7 299.0,264.9 299.1,282.0 299.1,273.0 299.1,285.3 299.2,278.1 299.2,262.7 299.2,266.7 299.3,266.0 299.3,271.3 299.4,289.7 299.4,255.3 299.4,254.2 299.5,265.3 299.5,271.4 299.5,279.7 299.6,256.3 299.6,262.7 299.7,259.5 299.7,268.4 299.7,279.2 299.8,266.3 299.8,269.7 299.8,276.4 299.9,279.1 299.9,280.3 299.9,280.4 300.0,287.1 300.0,278.8 300.1,268.9 300.1,273.1 300.1,270.2 300.2,268.7 300.2,269.2 300.2,262.3 300.3,261.4 300.3,264.2 300.4,272.7 300.4,280.8 300.4,282.0 300.5,281.5 300.5,280.5 300.5,284.9 300.6,266.8 300.6,267.5 300.6,283.9 300.7,285.6 300.7,288.2 300.8,278.4 300.8,267.7 300.8,276.7 300.9,271.5 300.9,272.9 300.9,264.3 301.0,258.5 301.0,263.0 301.1,262.4 301.1,267.2 301.1,272.2 301.2,280.2 301.2,273.8 301.2,273.3 301.3,275.3 301.3,274.1 301.3,274.3 301.4,280.4 301.4,279.8 301.5,278.1 301.5,289.9 301.5,261.9 301.6,275.0 301.6,282.9 301.6,278.5 301.7,268.7 301.7,274.9 301.7,269.0 301.8,270.0 301.8,260.3 301.9,266.9 301.9,269.7 301.9,282.3 302.0,276.9 302.0,272.4 302.0,262.2 302.1,275.9 302.1,279.8 302.2,282.8 302.2,271.0 302.2,289.1 302.3,288.0 302.3,265.5 302.3,264.0 302.4,277.2 302.4,274.9 302.4,267.4 302.5,265.7 302.5,270.3 302.6,276.6 302.6,268.3 302.6,270.1 302.7,265.3 302.7,287.8 302.7,272.0 302.8,261.8 302.8,270.2 302.9,268.0 302.9,274.3 302.9,274.6 303.0,302.4 303.0,277.9 303.0,273.2 303.1,263.3 303.1,254.5 303.1,253.1 303.2,263.6 303.2,257.5 303.3,261.6 303.3,259.8 303.3,271.7 303.4,261.3 303.4,270.7 303.4,263.1 303.5,270.6 303.5,264.8 303.5,270.2 303.6,284.0 303.6,284.6 303.7,279.8 303.7,275.6 303.7,289.2 303.8,288.8 303.8,285.3 303.8,279.9 303.9,274.2 303.9,278.7 304.0,285.7 304.0,276.6 304.0,276.4 304.1,267.8 304.1,273.4 304.1,268.0 304.2,276.0 304.2,275.9 304.2,274.2 304.3,268.2 304.3,276.4 304.4,274.8 304.4,279.1 304.4,276.5 304.5,269.7 304.5,249.8 304.5,260.4 304.6,261.0 304.6,265.5 304.7,260.6 304.7,262.9 304.7,259.9 304.8,263.2 304.8,251.5 304.8,251.5 304.9,273.4 304.9,286.6 304.9,270.4 305.0,293.9 305.0,284.9 305.1,288.9 305.1,281.5 305.1,275.6 305.2,286.0 305.2,295.9 305.2,280.6 305.3,266.8 305.3,271.4 305.4,271.4 305.4,274.6 305.4,265.1 305.5,264.7 305.5,254.2 305.5,265.4 305.6,258.3 305.6,268.8 305.6,271.3 305.7,278.6 305.7,271.3 305.8,271.8 305.8,267.2 305.8,258.9 305.9,265.5 305.9,265.8 305.9,262.3 306.0,267.2 306.0,273.1 306.0,269.7 306.1,267.0 306.1,263.7 306.2,261.7 306.2,271.2 306.2,268.1 306.3,261.2 306.3,276.3 306.3,267.8 306.4,273.9 306.4,271.4 306.5,259.3 306.5,264.1 306.5,274.4 306.6,270.4 306.6,269.3 306.6,262.5 306.7,276.4 306.7,280.2 306.7,276.2 306.8,284.5 306.8,296.6 306.9,290.6 306.9,283.7 306.9,287.7 307.0,284.0 307.0,272.0 307.0,278.3 307.1,262.9 307.1,262.9 307.2,283.0 307.2,274.1 307.2,285.4 307.3,281.8 307.3,279.2 307.3,278.9 307.4,271.6 307.4,277.0 307.4,262.1 307.5,262.5 307.5,258.6 307.6,259.6 307.6,259.2 307.6,265.4 307.7,254.7 307.7,270.2 307.7,270.4 307.8,269.3 307.8,271.7 307.9,269.2 307.9,275.3 307.9,267.2 308.0,263.7 308.0,267.8 308.0,263.8 308.1,274.6 308.1,285.4 308.1,282.2 308.2,283.0 308.2,257.4 308.3,265.8 308.3,261.3 308.3,265.3 308.4,251.0 308.4,260.2 308.4,261.1 308.5,286.6 308.5,275.2 308.5,280.1 308.6,281.0 308.6,266.1 308.7,266.6 308.7,269.9 308.7,271.5 308.8,274.6 308.8,273.0 308.8,272.3 308.9,267.1 308.9,267.1 309.0,278.2 309.0,273.0 309.0,262.4 309.1,273.8 309.1,274.1 309.1,271.4 309.2,263.5 309.2,263.1 309.2,268.5 309.3,266.3 309.3,261.4 309.4,263.5 309.4,254.3 309.4,259.7 309.5,272.6 309.5,277.2 309.5,275.0 309.6,274.4 309.6,268.3 309.7,267.1 309.7,257.1 309.7,258.4 309.8,254.3 309.8,267.9 309.8,272.3 309.9,266.8 309.9,268.2 309.9,265.2 310.0,266.3 310.0,272.8 310.1,260.0 310.1,257.5 310.1,274.9 310.2,277.1 310.2,273.8 310.2,267.6 310.3,269.7 310.3,279.6 310.3,269.4 310.4,271.5 310.4,262.8 310.5,264.7 310.5,260.8 310.5,260.0 310.6,259.2 310.6,268.5 310.6,262.5 310.7,265.2 310.7,277.4 310.8,276.3 310.8,240.2 310.8,270.0 310.9,265.6 310.9,275.8 310.9,268.2 311.0,269.9 311.0,277.5 311.0,268.3 311.1,274.7 311.1,280.9 311.2,270.5 311.2,264.3 311.2,272.0 311.3,264.0 311.3,260.3 311.3,269.0 311.4,256.0 311.4,263.6 311.5,265.5 311.5,284.5 311.5,273.1 311.6,276.1 311.6,270.2 311.6,291.5 311.7,268.3 311.7,259.3 311.7,251.8 311.8,281.5 311.8,271.9 311.9,268.8 311.9,290.5 311.9,285.5 312.0,278.5 312.0,264.6 312.0,273.2 312.1,270.4 312.1,270.7 312.2,268.0 312.2,271.9 312.2,264.9 312.3,260.9 312.3,275.0 312.3,264.9 312.4,272.7 312.4,273.4 312.4,264.0 312.5,266.4 312.5,264.3 312.6,261.8 312.6,261.9 312.6,269.7 312.7,276.5 312.7,268.6 312.7,264.1 312.8,264.6 312.8,268.7 312.8,263.5 312.9,266.9 312.9,277.9 313.0,272.1 313.0,267.6 313.0,263.4 313.1,272.9 313.1,281.2 313.1,271.0 313.2,273.6 313.2,272.2 313.3,277.6 313.3,264.5 313.3,254.6 313.4,260.3 313.4,253.3 313.4,254.2 313.5,244.5 313.5,257.0 313.5,266.4 313.6,257.8 313.6,267.3 313.7,271.7 313.7,269.0 313.7,266.7 313.8,277.8 313.8,271.9 313.8,274.1 313.9,271.4 313.9,269.2 314.0,270.7 314.0,262.7 314.0,262.7 314.1,267.4 314.1,267.9 314.1,261.5 314.2,260.0 314.2,264.1 314.2,263.6 314.3,265.5 314.3,265.5 314.4,261.7 314.4,253.9 314.4,255.8 314.5,265.4 314.5,276.9 314.5,268.7 314.6,273.8 314.6,276.3 314.7,284.6 314.7,268.7 314.7,268.2 314.8,268.5 314.8,266.1 314.8,265.9 314.9,266.8 314.9,264.4 314.9,273.3 315.0,286.6 315.0,272.7 315.1,268.0 315.1,268.3 315.1,257.8 315.2,273.0 315.2,290.9 315.2,269.7 315.3,266.5 315.3,279.0 315.3,276.8 315.4,278.5 315.4,277.2 315.5,269.3 315.5,254.6 315.5,252.2 315.6,260.8 315.6,262.7 315.6,272.3 315.7,269.7 315.7,271.6 315.8,277.1 315.8,282.3 315.8,262.3 315.9,265.1 315.9,274.0 315.9,274.4 316.0,261.4 316.0,254.1 316.0,265.7 316.1,266.0 316.1,261.3 316.2,267.5 316.2,276.3 316.2,279.3 316.3,274.0 316.3,276.8 316.3,281.7 316.4,276.9 316.4,284.2 316.5,263.0 316.5,267.5 316.5,255.1 316.6,267.4 316.6,268.7 316.6,278.2 316.7,268.2 316.7,269.4 316.7,280.7 316.8,280.5 316.8,268.0 316.9,260.7 316.9,264.0 316.9,260.5 317.0,275.7 317.0,278.0 317.0,282.5 317.1,281.4 317.1,277.8 317.1,269.7 317.2,262.4 317.2,258.9 317.3,245.5 317.3,260.6 317.3,264.9 317.4,269.0 317.4,271.8 317.4,272.3 317.5,267.8 317.5,274.4 317.6,268.4 317.6,260.3 317.6,272.2 317.7,286.3 317.7,277.0 317.7,280.1 317.8,273.3 317.8,274.2 317.8,274.5 317.9,261.5 317.9,259.6 318.0,266.7 318.0,279.5 318.0,289.5 318.1,294.2 318.1,287.0 318.1,277.4 318.2,277.9 318.2,277.6 318.3,284.3 318.3,288.1 318.3,290.5 318.4,275.6 318.4,286.0 318.4,273.0 318.5,277.4 318.5,269.7 318.5,268.0 318.6,263.6 318.6,258.4 318.7,269.4 318.7,276.2 318.7,311.2 318.8,294.7 318.8,269.4 318.8,270.4 318.9,270.1 318.9,285.5 319.0,271.8 319.0,263.3 319.0,279.3 319.1,273.0 319.1,290.1 319.1,274.3 319.2,276.9 319.2,267.3 319.2,270.9 319.3,299.1 319.3,286.1 319.4,271.2 319.4,276.7 319.4,281.6 319.5,257.8 319.5,265.4 319.5,264.0 319.6,272.7 319.6,274.2 319.6,277.0 319.7,269.5 319.7,278.7 319.8,275.3 319.8,272.4 319.8,267.7 319.9,283.6 319.9,289.2 319.9,285.7 320.0,279.5 320.0,273.9 320.1,270.7 320.1,256.6 320.1,258.9 320.2,260.5 320.2,268.7 320.2,264.1 320.3,262.4 320.3,261.7 320.3,266.8 320.4,264.2 320.4,256.8 320.5,269.0 320.5,284.5 320.5,271.7 320.6,266.0 320.6,269.7 320.6,314.1 320.7,252.7 320.7,264.7 320.8,284.2 320.8,276.4 320.8,269.9 320.9,274.3 320.9,275.0 320.9,270.5 321.0,273.4 321.0,271.0 321.0,270.9 321.1,298.4 321.1,273.6 321.2,280.0 321.2,268.7 321.2,275.9 321.3,278.9 321.3,285.0 321.3,280.8 321.4,286.9 321.4,267.0 321.4,269.5 321.5,266.3 321.5,280.3 321.6,283.9 321.6,278.3 321.6,283.6 321.7,269.2 321.7,272.5 321.7,281.6 321.8,268.3 321.8,270.4 321.9,265.1 321.9,272.3 321.9,268.9 322.0,261.4 322.0,275.3 322.0,266.6 322.1,270.8 322.1,270.2 322.1,265.7 322.2,269.7 322.2,281.6 322.3,274.9 322.3,273.6 322.3,277.9 322.4,269.3 322.4,259.1 322.4,273.0 322.5,278.3 322.5,269.9 322.6,277.2 322.6,271.6 322.6,288.9 322.7,284.1 322.7,272.7 322.7,262.2 322.8,264.9 322.8,277.2 322.8,268.4 322.9,276.5 322.9,274.3 323.0,269.5 323.0,275.3 323.0,284.4 323.1,278.4 323.1,274.7 323.1,278.4 323.2,279.7 323.2,270.0 323.3,270.9 323.3,273.8 323.3,276.2 323.4,272.2 323.4,270.7 323.4,271.7 323.5,280.5 323.5,278.0 323.5,278.5 323.6,274.0 323.6,264.4 323.7,261.0 323.7,277.8 323.7,265.2 323.8,270.0 323.8,268.0 323.8,272.4 323.9,273.8 323.9,277.8 323.9,274.5 324.0,273.0 324.0,259.3 324.1,261.2 324.1,268.4 324.1,264.2 324.2,270.5 324.2,263.7 324.2,261.8 324.3,246.7 324.3,265.9 324.4,268.7 324.4,270.3 324.4,268.4 324.5,264.6 324.5,274.1 324.5,277.2 324.6,271.8 324.6,264.6 324.6,275.1 324.7,283.2 324.7,269.1 324.8,264.1 324.8,269.8 324.8,271.7 324.9,272.4 324.9,269.9 324.9,267.2 325.0,269.6 325.0,270.4 325.1,263.6 325.1,269.9 325.1,273.9 325.2,275.0 325.2,276.1 325.2,272.4 325.3,272.8 325.3,274.6 325.3,263.0 325.4,264.7 325.4,269.8 325.5,261.7 325.5,269.7 325.5,270.1 325.6,270.9 325.6,274.5 325.6,275.0 325.7,272.1 325.7,280.8 325.8,278.2 325.8,272.6 325.8,269.7 325.9,268.1 325.9,253.7 325.9,257.6 326.0,265.0 326.0,268.5 326.0,269.5 326.1,267.1 326.1,270.7 326.2,260.6 326.2,272.8 326.2,267.4 326.3,265.6 326.3,275.6 326.3,268.8 326.4,271.4 326.4,272.4 326.4,256.1 326.5,258.6 326.5,266.7 326.6,271.7 326.6,276.0 326.6,271.5 326.7,270.5 326.7,279.8 326.7,281.9 326.8,280.9 326.8,281.5 326.9,287.3 326.9,278.0 326.9,270.0 327.0,263.9 327.0,266.7 327.0,283.0 327.1,277.7 327.1,270.4 327.1,270.9 327.2,268.9 327.2,269.0 327.3,279.5 327.3,315.7 327.3,276.9 327.4,277.1 327.4,271.0 327.4,272.7 327.5,272.7 327.5,262.5 327.6,274.3 327.6,272.4 327.6,278.6 327.7,274.0 327.7,269.1 327.7,265.5 327.8,267.0 327.8,277.7 327.8,272.5 327.9,265.6 327.9,261.5 328.0,268.3 328.0,257.4 328.0,270.6 328.1,273.9 328.1,271.6 328.1,264.1 328.2,274.8 328.2,266.6 328.2,264.2 328.3,273.0 328.3,267.7 328.4,274.1 328.4,272.4 328.4,273.3 328.5,270.3 328.5,278.1 328.5,270.8 328.6,284.8 328.6,280.3 328.7,279.0 328.7,264.4 328.7,263.8 328.8,270.3 328.8,276.2 328.8,273.1 328.9,275.8 328.9,258.4 328.9,282.6 329.0,279.9 329.0,289.3 329.1,273.0 329.1,284.4 329.1,263.1 329.2,270.3 329.2,263.2 329.2,265.5 329.3,260.1 329.3,265.1 329.4,287.2 329.4,283.5 329.4,287.2 329.5,272.5 329.5,267.9 329.5,269.1 329.6,274.1 329.6,267.2 329.6,272.5 329.7,258.6 329.7,270.0 329.8,267.9 329.8,278.7 329.8,278.6 329.9,280.6 329.9,273.5 329.9,275.1 330.0,273.0 330.0,279.0 330.1,274.6 330.1,282.6 330.1,282.1 330.2,281.1 330.2,270.0 330.2,266.9 330.3,268.1 330.3,276.8 330.3,276.2 330.4,268.0 330.4,260.9 330.5,275.3 330.5,275.6 330.5,272.2 330.6,269.0 330.6,269.6 330.6,265.5 330.7,277.4 330.7,263.6 330.7,274.5 330.8,272.0 330.8,267.7 330.9,261.3 330.9,261.3 330.9,259.3 331.0,256.4 331.0,264.3 331.0,262.3 331.1,256.1 331.1,268.1 331.2,278.4 331.2,280.9 331.2,266.2 331.3,260.0 331.3,267.4 331.3,267.2 331.4,265.5 331.4,260.9 331.4,277.9 331.5,277.7 331.5,275.6 331.6,270.8 331.6,269.9 331.6,272.1 331.7,269.2 331.7,317.1 331.7,258.0 331.8,258.6 331.8,258.5 331.9,270.2 331.9,266.6 331.9,254.7 332.0,250.4 332.0,276.5 332.0,273.0 332.1,270.4 332.1,272.2 332.1,265.5 332.2,276.2 332.2,274.3 332.3,270.4 332.3,273.3 332.3,264.6 332.4,274.8 332.4,280.5 332.4,277.6 332.5,268.3 332.5,271.1 332.6,274.4 332.6,266.9 332.6,266.9 332.7,271.9 332.7,270.1 332.7,271.6 332.8,266.7 332.8,287.6 332.8,242.0 332.9,275.1 332.9,275.3 333.0,270.1 333.0,267.6 333.0,274.2 333.1,273.3 333.1,269.6 333.1,291.3 333.2,264.6 333.2,254.3 333.2,262.0 333.3,261.1 333.3,267.7 333.4,275.4 333.4,271.9 333.4,267.7 333.5,266.7 333.5,267.3 333.5,270.8 333.6,275.8 333.6,280.3 333.7,269.3 333.7,263.3 333.7,290.0 333.8,275.1 333.8,268.4 333.8,259.3 333.9,262.1 333.9,261.6 333.9,268.7 334.0,269.9 334.0,266.4 334.1,275.4 334.1,277.9 334.1,272.6 334.2,280.1 334.2,274.7 334.2,282.1 334.3,274.7 334.3,272.1 334.4,274.7 334.4,278.6 334.4,277.6 334.5,288.6 334.5,281.9 334.5,275.1 334.6,264.5 334.6,270.6 334.6,271.4 334.7,261.4 334.7,254.2 334.8,265.3 334.8,260.6 334.8,257.5 334.9,260.3 334.9,271.6 334.9,286.9 335.0,269.6 335.0,254.3 335.0,263.3 335.1,256.2 335.1,250.5 335.2,268.5 335.2,273.1 335.2,261.5 335.3,259.2 335.3,260.9 335.3,265.5 335.4,263.5 335.4,270.9 335.5,253.8 335.5,269.5 335.5,281.6 335.6,274.7 335.6,262.7 335.6,269.6 335.7,291.0 335.7,276.7 335.7,273.8 335.8,278.6 335.8,280.9 335.9,285.1 335.9,281.1 335.9,294.8 336.0,280.8 336.0,267.1 336.0,276.0 336.1,265.9 336.1,274.5 336.2,268.7 336.2,277.5 336.2,271.4 336.3,263.0 336.3,273.6 336.3,275.2 336.4,261.2 336.4,272.6 336.4,275.7 336.5,271.2 336.5,272.6 336.6,276.9 336.6,262.7 336.6,270.1 336.7,267.8 336.7,271.5 336.7,272.2 336.8,280.2 336.8,268.8 336.9,278.9 336.9,262.5 336.9,273.9 337.0,275.1 337.0,269.3 337.0,268.8 337.1,273.7 337.1,272.7 337.1,279.9 337.2,274.5 337.2,289.8 337.3,278.7 337.3,265.2 337.3,261.6 337.4,260.0 337.4,267.7 337.4,265.5 337.5,270.3 337.5,270.7 337.5,270.9 337.6,292.8 337.6,275.1 337.7,269.4 337.7,264.0 337.7,273.2 337.8,266.9 337.8,265.1 337.8,282.3 337.9,287.8 337.9,278.5 338.0,278.5 338.0,274.3 338.0,276.3 338.1,263.1 338.1,279.1 338.1,283.5 338.2,283.2 338.2,285.6 338.2,281.5 338.3,275.9 338.3,281.7 338.4,273.3 338.4,262.8 338.4,259.0 338.5,251.0 338.5,252.8 338.5,261.5 338.6,253.8 338.6,257.0 338.7,250.9 338.7,261.6 338.7,279.7 338.8,282.5 338.8,274.9 338.8,268.6 338.9,270.5 338.9,263.4 338.9,274.2 339.0,276.6 339.0,266.6 339.1,267.7 339.1,268.0 339.1,259.5 339.2,257.2 339.2,268.7 339.2,267.8 339.3,280.0 339.3,274.9 339.4,269.6 339.4,281.1 339.4,265.0 339.5,253.9 339.5,258.4 339.5,257.8 339.6,253.7 339.6,269.4 339.6,259.2 339.7,261.8 339.7,275.8 339.8,278.7 339.8,277.8 339.8,266.5 339.9,267.3 339.9,261.8 339.9,268.8 340.0,277.6 340.0,276.3 340.0,246.5 340.1,255.4 340.1,275.0 340.2,258.7 340.2,271.4 340.2,271.8 340.3,280.2 340.3,271.6 340.3,268.9 340.4,271.8 340.4,274.9 340.5,282.3 340.5,281.4 340.5,268.8 340.6,270.6 340.6,261.6 340.6,271.3 340.7,270.9 340.7,291.3 340.7,273.0 340.8,266.1 340.8,291.9 340.9,270.5 340.9,265.3 340.9,267.3 341.0,267.9 341.0,270.1 341.0,265.1 341.1,266.9 341.1,273.8 341.2,270.6 341.2,263.6 341.2,264.0 341.3,266.5 341.3,266.6 341.3,271.3 341.4,273.4 341.4,283.9 341.4,277.9 341.5,267.1 341.5,270.8 341.6,276.1 341.6,266.8 341.6,267.0 341.7,267.2 341.7,265.2 341.7,262.6 341.8,279.1 341.8,273.3 341.8,259.8 341.9,264.2 341.9,271.9 342.0,278.2 342.0,261.5 342.0,274.8 342.1,263.4 342.1,267.3 342.1,255.1 342.2,257.8 342.2,264.3 342.3,258.5 342.3,255.5 342.3,264.7 342.4,265.5 342.4,270.8 342.4,264.0 342.5,276.0 342.5,273.8 342.5,285.6 342.6,273.6 342.6,286.2 342.7,284.7 342.7,278.3 342.7,274.6 342.8,274.9 342.8,278.5 342.8,277.0 342.9,284.7 342.9,274.9 343.0,266.8 343.0,263.0 343.0,266.4 343.1,259.8 343.1,270.0 343.1,259.1 343.2,261.6 343.2,265.2 343.2,272.3 343.3,288.1 343.3,274.5 343.4,272.6 343.4,257.9 343.4,276.6 343.5,267.4 343.5,274.6 343.5,272.0 343.6,276.4 343.6,270.6 343.7,270.1 343.7,263.9 343.7,265.6 343.8,264.3 343.8,258.4 343.8,260.4 343.9,265.7 343.9,259.3 343.9,265.0 344.0,264.4 344.0,268.9 344.1,273.4 344.1,291.1 344.1,275.5 344.2,279.9 344.2,269.7 344.2,257.5 344.3,272.0 344.3,264.8 344.3,267.6 344.4,265.3 344.4,275.1 344.5,271.9 344.5,269.4 344.5,259.8 344.6,250.3 344.6,257.6 344.6,265.7 344.7,252.7 344.7,261.5 344.8,265.6 344.8,266.6 344.8,273.8 344.9,262.1 344.9,269.3 344.9,269.8 345.0,257.0 345.0,252.4 345.0,257.7 345.1,261.4 345.1,266.6 345.2,261.0 345.2,268.3 345.2,267.7 345.3,271.2 345.3,274.1 345.3,271.1 345.4,269.9 345.4,273.1 345.5,271.3 345.5,269.5 345.5,272.2 345.6,274.7 345.6,272.6 345.6,266.0 345.7,260.0 345.7,263.1 345.7,267.6 345.8,268.3 345.8,255.9 345.9,259.9 345.9,268.6 345.9,268.9 346.0,272.2 346.0,277.9 346.0,281.7 346.1,274.9 346.1,280.6 346.2,278.4 346.2,263.4 346.2,259.4 346.3,272.0 346.3,275.8 346.3,278.1 346.4,297.5 346.4,285.7 346.4,277.7 346.5,279.9 346.5,269.2 346.6,269.1 346.6,272.2 346.6,258.7 346.7,269.3 346.7,263.1 346.7,253.5 346.8,252.3 346.8,264.9 346.8,264.4 346.9,269.2 346.9,278.2 347.0,260.7 347.0,254.6 347.0,269.7 347.1,265.7 347.1,277.8 347.1,265.9 347.2,267.4 347.2,269.7 347.3,260.6 347.3,278.7 347.3,267.9 347.4,262.0 347.4,267.0 347.4,261.8 347.5,264.9 347.5,261.0 347.5,260.4 347.6,259.0 347.6,270.2 347.7,256.6 347.7,263.4 347.7,254.0 347.8,265.0 347.8,268.3 347.8,269.9 347.9,261.2 347.9,267.4 348.0,264.9 348.0,276.8 348.0,275.5 348.1,270.2 348.1,269.8 348.1,281.2 348.2,271.2 348.2,276.0 348.2,259.0 348.3,264.7 348.3,251.3 348.4,255.1 348.4,258.4 348.4,266.3 348.5,267.8 348.5,264.8 348.5,279.2 348.6,266.9 348.6,275.1 348.6,273.1 348.7,288.6 348.7,275.1 348.8,280.1 348.8,265.2 348.8,264.3 348.9,268.5 348.9,267.0 348.9,259.3 349.0,266.3 349.0,263.6 349.1,260.8 349.1,265.8 349.1,265.1 349.2,264.9 349.2,269.5 349.2,252.3 349.3,262.8 349.3,253.8 349.3,253.5 349.4,274.1 349.4,269.1 349.5,261.4 349.5,259.0 349.5,269.3 349.6,268.1 349.6,281.1 349.6,278.2 349.7,274.5 349.7,269.7 349.8,257.8 349.8,266.2 349.8,256.7 349.9,270.1 349.9,276.5 349.9,275.2 350.0,259.6 350.0,272.4 350.0,280.5 350.1,274.5 350.1,262.9 350.2,276.1 350.2,273.4 350.2,279.5 350.3,263.7 350.3,260.9 350.3,262.2 350.4,271.0 350.4,267.8 350.5,266.6 350.5,271.3 350.5,275.2 350.6,278.7 350.6,272.9 350.6,275.4 350.7,265.5 350.7,280.5 350.7,270.0 350.8,265.0 350.8,258.0 350.9,264.3 350.9,275.8 350.9,277.7 351.0,264.8 351.0,268.1 351.0,270.4 351.1,272.7 351.1,270.4 351.1,270.3 351.2,282.7 351.2,277.2 351.3,265.4 351.3,256.5 351.3,271.0 351.4,268.3 351.4,258.6 351.4,264.0 351.5,273.5 351.5,271.1 351.6,264.4 351.6,255.2 351.6,264.4 351.7,262.1 351.7,266.8 351.7,259.2 351.8,261.4 351.8,242.0 351.8,271.3 351.9,271.3 351.9,275.2 352.0,293.4 352.0,274.4 352.0,273.0 352.1,270.2 352.1,271.0 352.1,268.8 352.2,266.2 352.2,275.3 352.3,270.3 352.3,267.8 352.3,267.2 352.4,277.0 352.4,283.7 352.4,278.5 352.5,270.3 352.5,272.7 352.5,257.4 352.6,264.4 352.6,269.2 352.7,271.8 352.7,266.9 352.7,271.3 352.8,272.6 352.8,286.6 352.8,282.4 352.9,279.8 352.9,276.9 352.9,263.6 353.0,274.3 353.0,279.4 353.1,285.8 353.1,274.5 353.1,274.7 353.2,268.0 353.2,267.2 353.2,272.2 353.3,263.2 353.3,254.8 353.4,267.5 353.4,268.9 353.4,261.4 353.5,265.4 353.5,272.7 353.5,272.5 353.6,264.0 353.6,271.9 353.6,267.5 353.7,280.0 353.7,269.9 353.8,264.4 353.8,261.0 353.8,257.0 353.9,255.5 353.9,271.0 353.9,270.7 354.0,260.7 354.0,257.0 354.1,267.4 354.1,260.8 354.1,261.1 354.2,271.5 354.2,260.4 354.2,268.6 354.3,274.3 354.3,267.7 354.3,271.5 354.4,266.3 354.4,267.9 354.5,265.2 354.5,260.3 354.5,263.5 354.6,259.0 354.6,257.0 354.6,267.2 354.7,263.6 354.7,259.4 354.8,261.9 354.8,256.6 354.8,271.1 354.9,260.7 354.9,269.5 354.9,264.8 355.0,266.4 355.0,268.0 355.0,264.8 355.1,267.6 355.1,255.9 355.2,259.1 355.2,262.5 355.2,259.0 355.3,257.1 355.3,253.6 355.3,255.6 355.4,261.0 355.4,262.6 355.4,278.7 355.5,282.2 355.5,267.1 355.6,268.7 355.6,255.1 355.6,248.4 355.7,265.5 355.7,263.6 355.7,245.4 355.8,260.9 355.8,260.7 355.9,264.8 355.9,266.9 355.9,268.2 356.0,267.1 356.0,261.3 356.0,268.9 356.1,263.9 356.1,269.6 356.1,268.6 356.2,262.8 356.2,269.4 356.3,266.6 356.3,271.1 356.3,274.0 356.4,262.0 356.4,276.0 356.4,267.1 356.5,261.6 356.5,267.6 356.6,259.3 356.6,256.3 356.6,269.6 356.7,264.1 356.7,261.7 356.7,268.6 356.8,263.2 356.8,259.3 356.8,267.2 356.9,279.7 356.9,269.9 357.0,272.7 357.0,280.6 357.0,275.6 357.1,286.5 357.1,278.2 357.1,261.7 357.2,282.7 357.2,270.9 357.3,274.3 357.3,272.5 357.3,274.9 357.4,265.7 357.4,265.5 357.4,270.5 357.5,276.5 357.5,273.6 357.5,261.5 357.6,271.3 357.6,265.2 357.7,262.7 357.7,277.1 357.7,263.5 357.8,264.3 357.8,249.4 357.8,245.3 357.9,256.5 357.9,261.5 357.9,279.6 358.0,277.8 358.0,264.9 358.1,266.3 358.1,267.9 358.1,267.2 358.2,261.0 358.2,256.2 358.2,260.1 358.3,263.3 358.3,274.3 358.4,249.4 358.4,270.6 358.4,275.0 358.5,266.2 358.5,263.9 358.5,257.3 358.6,250.6 358.6,243.7 358.6,259.0 358.7,272.4 358.7,268.8 358.8,256.0 358.8,258.4 358.8,254.8 358.9,264.0 358.9,262.4 358.9,266.2 359.0,266.4 359.0,267.8 359.1,272.3 359.1,260.0 359.1,259.4 359.2,253.7 359.2,265.0 359.2,277.1 359.3,274.2 359.3,269.4 359.3,260.6 359.4,254.4 359.4,250.2 359.5,245.9 359.5,249.2 359.5,259.6 359.6,263.8 359.6,258.3 359.6,263.7 359.7,268.3 359.7,261.2 359.7,260.1 359.8,255.2 359.8,263.4 359.9,254.7 359.9,255.8 359.9,260.0 360.0,266.0 360.0,271.2 360.0,275.7 360.1,259.1 360.1,270.0 360.2,261.5 360.2,263.1 360.2,266.2 360.3,267.0 360.3,264.8 360.3,256.9 360.4,255.3 360.4,258.2 360.4,269.0 360.5,277.1 360.5,256.4 360.6,265.6 360.6,273.9 360.6,259.8 360.7,270.5 360.7,260.6 360.7,254.4 360.8,259.0 360.8,251.7 360.9,272.8 360.9,271.4 360.9,267.3 361.0,263.9 361.0,262.8 361.0,274.9 361.1,264.4 361.1,276.9 361.1,265.8 361.2,264.6 361.2,256.9 361.3,244.4 361.3,277.3 361.3,252.0 361.4,262.1 361.4,254.9 361.4,255.1 361.5,255.8 361.5,251.6 361.6,263.4 361.6,257.8 361.6,255.7 361.7,246.9 361.7,265.5 361.7,263.2 361.8,246.5 361.8,257.0 361.8,260.6 361.9,247.9 361.9,236.6 362.0,247.2 362.0,258.1 362.0,262.7 362.1,263.6 362.1,267.1 362.1,268.6 362.2,262.7 362.2,260.6 362.2,256.5 362.3,257.6 362.3,266.4 362.4,257.6 362.4,256.6 362.4,261.6 362.5,262.0 362.5,258.2 362.5,257.9 362.6,259.1 362.6,253.6 362.7,248.8 362.7,255.8 362.7,257.2 362.8,265.3 362.8,263.0 362.8,257.4 362.9,251.9 362.9,263.2 362.9,256.6 363.0,262.2 363.0,258.7 363.1,274.2 363.1,261.0 363.1,259.3 363.2,264.7 363.2,259.1 363.2,259.9 363.3,254.7 363.3,259.5 363.4,255.3 363.4,245.9 363.4,250.5 363.5,248.7 363.5,257.4 363.5,259.8 363.6,271.4 363.6,267.7 363.6,269.0 363.7,262.4 363.7,273.8 363.8,271.3 363.8,265.9 363.8,257.8 363.9,268.8 363.9,265.8 363.9,244.2 364.0,245.4 364.0,250.2 364.1,272.4 364.1,271.1 364.1,260.6 364.2,257.4 364.2,254.2 364.2,249.3 364.3,252.6 364.3,249.2 364.3,265.4 364.4,244.4 364.4,252.8 364.5,259.4 364.5,248.2 364.5,248.6 364.6,246.4 364.6,256.0 364.6,254.7 364.7,259.7 364.7,261.9 364.7,261.1 364.8,260.8 364.8,261.0 364.9,263.9 364.9,269.1 364.9,260.3 365.0,257.1 365.0,249.4 365.0,253.8 365.1,260.1 365.1,268.5 365.2,262.3 365.2,261.9 365.2,246.0 365.3,236.1 365.3,236.0 365.3,252.8 365.4,264.5 365.4,262.5 365.4,265.9 365.5,252.0 365.5,253.9 365.6,258.3 365.6,257.9 365.6,249.1 365.7,259.6 365.7,255.1 365.7,265.2 365.8,262.6 365.8,264.4 365.9,258.7 365.9,257.0 365.9,231.1 366.0,248.5 366.0,257.0 366.0,266.1 366.1,267.2 366.1,265.2 366.1,262.8 366.2,281.8 366.2,253.9 366.3,249.3 366.3,255.1 366.3,259.6 366.4,260.1 366.4,259.0 366.4,258.3 366.5,268.8 366.5,266.0 366.5,274.3 366.6,265.6 366.6,256.9 366.7,264.3 366.7,259.7 366.7,262.7 366.8,264.7 366.8,257.2 366.8,246.5 366.9,248.6 366.9,255.9 367.0,253.8 367.0,256.9 367.0,254.0 367.1,261.8 367.1,260.0 367.1,261.3 367.2,268.9 367.2,251.7 367.2,249.0 367.3,258.5 367.3,267.8 367.4,267.5 367.4,268.1 367.4,279.6 367.5,272.3 367.5,270.4 367.5,263.5 367.6,257.6 367.6,270.9 367.7,264.1 367.7,267.4 367.7,269.4 367.8,265.5 367.8,266.1 367.8,257.0 367.9,252.4 367.9,256.9 367.9,276.8 368.0,247.3 368.0,239.6 368.1,245.8 368.1,252.6 368.1,248.1 368.2,242.9 368.2,253.7 368.2,243.2 368.3,251.4 368.3,246.9 368.4,255.6 368.4,256.0 368.4,259.8 368.5,258.4 368.5,250.9 368.5,260.2 368.6,260.8 368.6,255.4 368.6,259.5 368.7,244.6 368.7,260.9 368.8,241.8 368.8,254.1 368.8,253.5 368.9,242.2 368.9,246.1 368.9,261.3 369.0,261.6 369.0,259.0 369.0,254.3 369.1,249.1 369.1,245.5 369.2,241.3 369.2,255.8 369.2,249.8 369.3,284.1 369.3,267.9 369.3,266.2 369.4,273.9 369.4,259.3 369.5,264.7 369.5,262.5 369.5,265.1 369.6,269.5 369.6,264.1 369.6,265.3 369.7,260.8 369.7,263.3 369.7,262.6 369.8,267.8 369.8,262.0 369.9,257.7 369.9,265.6 369.9,256.8 370.0,253.7 370.0,254.0 370.0,254.1 370.1,258.4 370.1,258.8 370.2,273.2 370.2,275.9 370.2,275.0 370.3,264.2 370.3,252.4 370.3,256.0 370.4,258.5 370.4,250.1 370.4,256.2 370.5,252.2 370.5,251.8 370.6,263.7 370.6,258.3 370.6,256.4 370.7,264.7 370.7,268.1 370.7,271.4 370.8,254.9 370.8,241.6 370.9,244.6 370.9,240.1 370.9,258.0 371.0,247.9 371.0,243.4 371.0,237.0 371.1,253.6 371.1,248.0 371.1,253.4 371.2,247.9 371.2,257.0 371.3,257.0 371.3,275.9 371.3,255.9 371.4,257.3 371.4,249.6 371.4,247.7 371.5,249.6 371.5,253.7 371.5,260.1 371.6,257.4 371.6,252.1 371.7,253.8 371.7,253.5 371.7,255.6 371.8,256.9 371.8,261.7 371.8,272.4 371.9,260.9 371.9,255.2 372.0,262.9 372.0,246.9 372.0,260.1 372.1,251.8 372.1,253.2 372.1,252.8 372.2,247.2 372.2,269.0 372.2,251.4 372.3,261.6 372.3,267.8 372.4,261.2 372.4,248.3 372.4,246.7 372.5,252.2 372.5,252.4 372.5,234.7 372.6,246.1 372.6,254.7 372.7,251.0 372.7,252.2 372.7,259.9 372.8,265.6 372.8,252.6 372.8,252.6 372.9,256.3 372.9,256.1 372.9,249.8 373.0,252.9 373.0,243.9 373.1,252.3 373.1,260.2 373.1,259.4 373.2,264.8 373.2,263.4 373.2,251.8 373.3,242.7 373.3,245.6 373.3,250.0 373.4,259.9 373.4,265.4 373.5,258.7 373.5,256.8 373.5,261.0 373.6,262.1 373.6,248.9 373.6,246.2 373.7,251.3 373.7,252.6 373.8,256.3 373.8,249.1 373.8,254.3 373.9,265.2 373.9,272.8 373.9,278.1 374.0,283.2 374.0,270.3 374.0,261.4 374.1,265.3 374.1,258.2 374.2,257.2 374.2,256.4 374.2,266.9 374.3,252.1 374.3,245.1 374.3,255.1 374.4,242.7 374.4,249.6 374.5,258.8 374.5,260.8 374.5,271.8 374.6,266.9 374.6,280.4 374.6,257.3 374.7,255.0 374.7,265.6 374.7,257.4 374.8,269.1 374.8,262.0 374.9,256.3 374.9,267.5 374.9,264.4 375.0,261.5 375.0,260.6 375.0,258.4 375.1,247.5 375.1,240.6 375.2,237.9 375.2,251.9 375.2,259.7 375.3,258.2 375.3,254.7 375.3,270.1 375.4,267.9 375.4,250.1 375.4,262.2 375.5,275.7 375.5,266.4 375.6,258.1 375.6,258.1 375.6,259.8 375.7,269.0 375.7,258.8 375.7,258.0 375.8,262.1 375.8,259.5 375.8,252.8 375.9,265.2 375.9,271.9 376.0,277.3 376.0,270.4 376.0,284.9 376.1,275.2 376.1,258.5 376.1,263.6 376.2,251.6 376.2,274.2 376.3,266.5 376.3,252.2 376.3,243.8 376.4,253.9 376.4,261.2 376.4,256.5 376.5,277.0 376.5,263.7 376.5,272.0 376.6,264.0 376.6,260.5 376.7,247.6 376.7,274.4 376.7,258.1 376.8,258.2 376.8,266.6 376.8,261.6 376.9,260.9 376.9,256.1 377.0,250.1 377.0,267.5 377.0,260.0 377.1,253.5 377.1,263.6 377.1,251.5 377.2,266.5 377.2,240.1 377.2,243.2 377.3,243.4 377.3,269.7 377.4,245.8 377.4,258.6 377.4,263.4 377.5,273.9 377.5,261.7 377.5,264.3 377.6,261.1 377.6,252.2 377.7,263.9 377.7,255.7 377.7,254.6 377.8,254.4 377.8,252.6 377.8,255.0 377.9,256.0 377.9,249.2 377.9,260.1 378.0,266.9 378.0,267.3 378.1,255.0 378.1,258.3 378.1,244.4 378.2,272.1 378.2,269.6 378.2,266.4 378.3,259.9 378.3,249.2 378.3,254.4 378.4,262.8 378.4,254.1 378.5,244.9 378.5,268.7 378.5,258.9 378.6,255.9 378.6,262.3 378.6,263.0 378.7,258.0 378.7,257.4 378.8,258.9 378.8,266.1 378.8,259.6 378.9,263.0 378.9,259.4 378.9,262.3 379.0,258.3 379.0,252.5 379.0,253.2 379.1,250.6 379.1,263.4 379.2,257.0 379.2,255.0 379.2,260.4 379.3,270.5 379.3,277.9 379.3,266.9 379.4,264.9 379.4,276.7 379.5,263.4 379.5,264.7 379.5,264.8 379.6,259.7 379.6,255.0 379.6,255.5 379.7,258.3 379.7,254.3 379.7,249.9 379.8,270.4 379.8,263.0 379.9,264.2 379.9,268.3 379.9,253.7 380.0,248.7 380.0,260.1 380.0,266.3 380.1,256.1 380.1,269.2 380.1,261.3 380.2,272.9 380.2,265.9 380.3,271.4 380.3,258.6 380.3,258.7 380.4,245.8 380.4,245.4 380.4,241.4 380.5,244.9 380.5,242.7 380.6,261.4 380.6,264.9 380.6,272.5 380.7,249.4 380.7,252.0 380.7,255.4 380.8,284.1 380.8,266.3 380.8,281.1 380.9,253.6 380.9,264.4 381.0,256.1 381.0,266.3 381.0,262.1 381.1,257.0 381.1,257.6 381.1,253.1 381.2,260.9 381.2,256.8 381.3,250.8 381.3,250.1 381.3,250.9 381.4,254.7 381.4,262.8 381.4,256.1 381.5,259.3 381.5,264.8 381.5,255.6 381.6,267.5 381.6,266.2 381.7,261.2 381.7,251.2 381.7,256.2 381.8,256.2 381.8,252.9 381.8,255.5 381.9,261.6 381.9,256.4 382.0,255.6 382.0,255.6 382.0,248.6 382.1,250.8 382.1,257.1 382.1,256.0 382.2,243.1 382.2,255.1 382.2,257.9 382.3,263.0 382.3,257.6 382.4,266.1 382.4,258.5 382.4,252.5 382.5,260.7 382.5,264.5 382.5,271.1 382.6,266.9 382.6,268.2 382.6,267.0 382.7,264.9 382.7,265.8 382.8,255.6 382.8,245.3 382.8,265.9 382.9,291.4 382.9,260.4 382.9,266.0 383.0,265.2 383.0,259.7 383.1,248.8 383.1,244.8 383.1,252.9 383.2,254.1 383.2,258.1 383.2,258.8 383.3,266.0 383.3,273.8 383.3,268.0 383.4,256.3 383.4,251.1 383.5,267.0 383.5,263.3 383.5,264.5 383.6,258.8 383.6,265.5 383.6,272.4 383.7,257.4 383.7,253.2 383.8,249.1 383.8,266.5 383.8,263.2 383.9,249.7 383.9,253.2 383.9,247.9 384.0,249.5 384.0,256.7 384.0,264.4 384.1,248.7 384.1,243.9 384.2,240.4 384.2,256.4 384.2,251.0 384.3,263.5 384.3,261.1 384.3,260.5 384.4,254.4 384.4,253.5 384.4,246.6 384.5,256.0 384.5,250.7 384.6,251.1 384.6,254.0 384.6,263.8 384.7,265.3 384.7,254.5 384.7,250.3 384.8,260.2 384.8,257.2 384.9,254.4 384.9,252.5 384.9,272.3 385.0,240.4 385.0,252.9 385.0,241.1 385.1,269.5 385.1,256.6 385.1,262.4 385.2,245.8 385.2,257.5 385.3,249.9 385.3,281.3 385.3,266.4 385.4,256.1 385.4,250.5 385.4,258.6 385.5,241.2 385.5,254.7 385.6,243.3 385.6,257.1 385.6,263.7 385.7,259.7 385.7,265.3 385.7,258.0 385.8,294.8 385.8,279.1 385.8,264.0 385.9,267.1 385.9,260.5 386.0,260.3 386.0,261.7 386.0,253.7 386.1,262.6 386.1,252.5 386.1,245.5 386.2,251.7 386.2,248.5 386.3,255.6 386.3,252.1 386.3,250.8 386.4,257.6 386.4,267.7 386.4,293.1 386.5,270.5 386.5,259.9 386.5,259.3 386.6,260.2 386.6,255.2 386.7,251.0 386.7,244.4 386.7,254.7 386.8,257.9 386.8,249.6 386.8,259.8 386.9,257.5 386.9,263.5 386.9,261.7 387.0,256.4 387.0,268.4 387.1,268.6 387.1,268.3 387.1,262.0 387.2,264.5 387.2,258.1 387.2,263.4 387.3,284.4 387.3,256.1 387.4,254.3 387.4,254.5 387.4,256.0 387.5,249.5 387.5,243.7 387.5,252.9 387.6,259.9 387.6,265.5 387.6,278.7 387.7,275.5 387.7,267.1 387.8,260.2 387.8,251.3 387.8,262.6 387.9,260.6 387.9,268.6 387.9,267.5 388.0,251.0 388.0,252.8 388.1,256.6 388.1,256.2 388.1,254.6 388.2,256.4 388.2,264.8 388.2,268.9 388.3,249.1 388.3,258.2 388.3,249.3 388.4,258.0 388.4,248.5 388.5,247.9 388.5,253.8 388.5,241.5 388.6,255.6 388.6,257.8 388.6,267.2 388.7,265.4 388.7,263.6 388.8,266.8 388.8,264.0 388.8,249.6 388.9,265.1 388.9,269.6 388.9,269.8 389.0,266.5 389.0,254.7 389.0,250.8 389.1,250.5 389.1,252.3 389.2,238.1 389.2,255.2 389.2,263.9 389.3,260.5 389.3,257.3 389.3,265.4 389.4,263.5 389.4,269.1 389.4,264.9 389.5,265.7 389.5,264.6 389.6,268.1 389.6,253.2 389.6,251.9 389.7,241.6 389.7,266.6 389.7,254.4 389.8,257.3 389.8,256.9 389.9,258.6 389.9,258.8 389.9,271.9 390.0,265.9 390.0,256.6 390.0,270.1 390.1,265.8 390.1,257.4 390.1,248.4 390.2,253.2 390.2,251.8 390.3,242.3 390.3,240.6 390.3,251.8 390.4,258.4 390.4,250.6 390.4,252.2 390.5,258.2 390.5,259.1 390.6,255.7 390.6,257.6 390.6,258.9 390.7,259.5 390.7,268.4 390.7,259.2 390.8,245.3 390.8,240.6 390.8,249.6 390.9,252.3 390.9,250.6 391.0,248.0 391.0,264.9 391.0,258.4 391.1,264.4 391.1,261.1 391.1,263.5 391.2,248.4 391.2,273.1 391.2,253.0 391.3,245.3 391.3,251.5 391.4,259.1 391.4,259.2 391.4,260.5 391.5,280.9 391.5,251.7 391.5,255.0 391.6,256.3 391.6,249.6 391.7,283.9 391.7,247.4 391.7,251.2 391.8,262.9 391.8,267.5 391.8,273.5 391.9,257.3 391.9,254.2 391.9,258.7 392.0,265.6 392.0,258.1 392.1,258.3 392.1,255.3 392.1,261.8 392.2,287.2 392.2,251.0 392.2,260.4 392.3,258.7 392.3,248.5 392.4,265.2 392.4,234.7 392.4,256.0 392.5,257.3 392.5,255.2 392.5,272.5 392.6,275.6 392.6,253.2 392.6,256.9 392.7,250.7 392.7,246.1 392.8,249.4 392.8,249.9 392.8,248.4 392.9,241.8 392.9,245.8 392.9,242.6 393.0,259.3 393.0,257.1 393.1,259.5 393.1,253.7 393.1,251.5 393.2,240.8 393.2,243.0 393.2,249.4 393.3,239.4 393.3,245.8 393.3,248.8 393.4,249.3 393.4,255.3 393.5,263.4 393.5,259.1 393.5,260.0 393.6,264.2 393.6,259.6 393.6,267.0 393.7,262.1 393.7,271.5 393.7,265.2 393.8,248.9 393.8,246.7 393.9,244.3 393.9,250.6 393.9,246.4 394.0,256.1 394.0,259.5 394.0,254.5 394.1,265.3 394.1,260.6 394.2,256.5 394.2,245.0 394.2,255.6 394.3,253.2 394.3,259.4 394.3,265.1 394.4,277.6 394.4,273.5 394.4,257.2 394.5,254.1 394.5,253.9 394.6,254.5 394.6,243.8 394.6,258.7 394.7,259.0 394.7,258.2 394.7,246.4 394.8,257.6 394.8,254.2 394.9,248.7 394.9,258.2 394.9,256.8 395.0,288.8 395.0,262.8 395.0,274.8 395.1,268.3 395.1,250.7 395.1,250.8 395.2,253.3 395.2,253.9 395.3,240.5 395.3,244.7 395.3,243.5 395.4,253.0 395.4,257.7 395.4,264.3 395.5,261.6 395.5,263.9 395.6,253.5 395.6,250.6 395.6,254.4 395.7,259.2 395.7,277.6 395.7,271.1 395.8,261.8 395.8,254.6 395.8,276.7 395.9,297.6 395.9,284.6 396.0,269.7 396.0,278.7 396.0,263.8 396.1,256.1 396.1,269.0 396.1,266.7 396.2,255.2 396.2,254.4 396.2,261.1 396.3,285.3 396.3,264.6 396.4,278.0 396.4,254.2 396.4,250.8 396.5,254.5 396.5,249.1 396.5,260.8 396.6,253.4 396.6,256.3 396.7,275.0 396.7,263.7 396.7,252.1 396.8,258.1 396.8,259.7"/>
<polyline fill="none" stroke="#ff0606" stroke-width="0.7" stroke-linejoin="round" points="176.3,309.4 176.3,317.9 176.4,314.0 176.4,343.7 176.4,322.4 176.5,306.7 176.5,334.0 176.6,320.7 176.6,342.9 176.6,311.5 176.7,315.1 176.7,306.8 176.7,334.3 176.8,315.8 176.8,310.0 176.9,328.5 176.9,304.1 176.9,286.0 177.0,308.5 177.0,321.3 177.0,307.5 177.1,280.9 177.1,306.5 177.1,324.2 177.2,315.5 177.2,327.3 177.3,317.9 177.3,330.8 177.3,333.9 177.4,294.0 177.4,300.3 177.4,317.2 177.5,321.2 177.5,292.6 177.5,313.2 177.6,299.4 177.6,302.2 177.7,295.6 177.7,299.7 177.7,319.7 177.8,328.6 177.8,316.6 177.8,317.1 177.9,300.7 177.9,314.4 178.0,335.4 178.0,323.3 178.0,289.3 178.1,326.1 178.1,319.2 178.1,303.5 178.2,287.2 178.2,300.9 178.2,287.2 178.3,310.2 178.3,306.7 178.4,315.1 178.4,336.8 178.4,316.3 178.5,343.4 178.5,297.1 178.5,277.6 178.6,285.6 178.6,316.3 178.7,318.1 178.7,307.8 178.7,295.0 178.8,311.4 178.8,318.5 178.8,311.4 178.9,293.3 178.9,313.7 178.9,291.8 179.0,304.8 179.0,318.0 179.1,317.4 179.1,322.9 179.1,312.5 179.2,317.2 179.2,326.0 179.2,313.6 179.3,322.2 179.3,317.2 179.4,301.4 179.4,297.3 179.4,308.1 179.5,310.5 179.5,313.2 179.5,356.5 179.6,334.0 179.6,324.3 179.6,305.8 179.7,293.9 179.7,313.7 179.8,325.1 179.8,335.5 179.8,314.3 179.9,305.5 179.9,319.8 179.9,300.6 180.0,295.6 180.0,310.4 180.0,317.3 180.1,320.6 180.1,314.3 180.2,344.0 180.2,347.2 180.2,327.0 180.3,313.7 180.3,299.4 180.3,341.7 180.4,302.7 180.4,336.2 180.5,314.4 180.5,311.0 180.5,332.0 180.6,315.3 180.6,317.7 180.6,318.1 180.7,312.8 180.7,330.8 180.7,334.6 180.8,344.5 180.8,315.4 180.9,307.7 180.9,325.8 180.9,332.8 181.0,319.8 181.0,328.3 181.0,313.4 181.1,304.5 181.1,328.4 181.2,317.1 181.2,322.5 181.2,304.9 181.3,337.1 181.3,305.6 181.3,314.5 181.4,313.1 181.4,320.9 181.4,344.1 181.5,319.8 181.5,302.1 181.6,298.9 181.6,310.5 181.6,331.4 181.7,340.0 181.7,311.0 181.7,314.7 181.8,310.7 181.8,319.1 181.9,326.3 181.9,312.0 181.9,331.1 182.0,306.6 182.0,307.1 182.0,301.7 182.1,302.6 182.1,292.9 182.1,308.8 182.2,302.5 182.2,303.8 182.3,304.9 182.3,311.0 182.3,330.9 182.4,304.7 182.4,287.7 182.4,300.3 182.5,294.8 182.5,312.1 182.5,332.4 182.6,292.5 182.6,306.8 182.7,324.0 182.7,310.0 182.7,325.3 182.8,305.9 182.8,301.3 182.8,312.5 182.9,305.7 182.9,328.9 183.0,306.8 183.0,312.3 183.0,325.1 183.1,313.8 183.1,316.8 183.1,310.9 183.2,301.3 183.2,304.1 183.2,311.9 183.3,314.9 183.3,314.5 183.4,355.6 183.4,349.8 183.4,347.1 183.5,349.3 183.5,346.6 183.5,348.5 183.6,346.2 183.6,343.4 183.7,353.9 183.7,343.2 183.7,349.4 183.8,344.5 183.8,354.8 183.8,355.3 183.9,355.6 183.9,328.8 183.9,348.5 184.0,355.4 184.0,350.3 184.1,355.8 184.1,345.5 184.1,345.2 184.2,347.5 184.2,351.8 184.2,341.9 184.3,348.5 184.3,345.1 184.3,349.8 184.4,341.2 184.4,351.6 184.5,353.5 184.5,353.3 184.5,345.9 184.6,356.1 184.6,350.0 184.6,353.2 184.7,349.5 184.7,344.3 184.8,341.0 184.8,345.3 184.8,354.7 184.9,352.4 184.9,309.9 184.9,351.3 185.0,354.8 185.0,347.5 185.0,351.5 185.1,349.7 185.1,353.6 185.2,341.1 185.2,350.7 185.2,345.9 185.3,351.9 185.3,348.3 185.3,332.2 185.4,354.8 185.4,349.3 185.5,349.0 185.5,337.3 185.5,355.4 185.6,347.5 185.6,350.5 185.6,351.2 185.7,352.5 185.7,350.5 185.7,347.3 185.8,343.5 185.8,352.6 185.9,355.1 185.9,348.0 185.9,350.8 186.0,348.1 186.0,349.5 186.0,305.9 186.1,356.2 186.1,354.7 186.2,354.2 186.2,355.0 186.2,347.9 186.3,351.9 186.3,349.3 186.3,349.1 186.4,346.7 186.4,335.1 186.4,347.9 186.5,353.6 186.5,350.1 186.6,353.6 186.6,349.5 186.6,354.7 186.7,354.8 186.7,355.3 186.7,347.2 186.8,342.6 186.8,285.4 186.8,348.4 186.9,356.0 186.9,292.6 187.0,344.9 187.0,353.4 187.0,354.9 187.1,348.2 187.1,353.6 187.1,354.4 187.2,348.9 187.2,351.9 187.3,354.1 187.3,355.6 187.3,347.7 187.4,353.2 187.4,346.0 187.4,343.8 187.5,346.9 187.5,351.4 187.5,350.9 187.6,295.1 187.6,347.4 187.7,353.3 187.7,315.4 187.7,354.0 187.8,355.8 187.8,354.1 187.8,349.2 187.9,351.0 187.9,356.0 188.0,352.1 188.0,344.7 188.0,353.1 188.1,351.9 188.1,352.8 188.1,354.7 188.2,349.3 188.2,347.7 188.2,355.6 188.3,355.5 188.3,355.8 188.4,350.3 188.4,355.6 188.4,346.7 188.5,348.9 188.5,345.3 188.5,346.0 188.6,347.0 188.6,355.8 188.7,346.7 188.7,356.2 188.7,351.1 188.8,342.4 188.8,347.1 188.8,354.2 188.9,343.8 188.9,338.0 188.9,333.0 189.0,345.1 189.0,311.4 189.1,350.2 189.1,325.8 189.1,353.0 189.2,353.8 189.2,355.8 189.2,349.5 189.3,349.2 189.3,347.1 189.3,355.0 189.4,356.3 189.4,353.8 189.5,353.2 189.5,295.9 189.5,349.7 189.6,350.5 189.6,354.4 189.6,343.2 189.7,350.6 189.7,353.5 189.8,342.9 189.8,352.6 189.8,355.0 189.9,356.2 189.9,354.9 189.9,354.8 190.0,350.3 190.0,346.3 190.0,344.3 190.1,351.4 190.1,345.3 190.2,352.8 190.2,356.2 190.2,351.4 190.3,351.1 190.3,353.4 190.3,351.1 190.4,355.2 190.4,353.5 190.5,343.7 190.5,349.7 190.5,355.5 190.6,354.1 190.6,345.2 190.6,354.9 190.7,348.7 190.7,356.2 190.7,354.1 190.8,355.1 190.8,352.3 190.9,347.3 190.9,351.4 190.9,336.2 191.0,351.2 191.0,355.5 191.0,345.6 191.1,348.6 191.1,345.9 191.1,345.7 191.2,354.5 191.2,341.8 191.3,332.9 191.3,346.8 191.3,347.5 191.4,355.9 191.4,349.4 191.4,351.9 191.5,348.2 191.5,355.5 191.6,350.3 191.6,350.1 191.6,327.0 191.7,347.2 191.7,351.8 191.7,355.7 191.8,356.0 191.8,343.9 191.8,354.5 191.9,351.9 191.9,350.8 192.0,344.5 192.0,350.5 192.0,347.9 192.1,356.1 192.1,351.4 192.1,354.4 192.2,355.8 192.2,354.5 192.3,348.3 192.3,354.5 192.3,306.3 192.4,352.5 192.4,341.8 192.4,350.4 192.5,327.0 192.5,307.0 192.5,353.4 192.6,350.4 192.6,349.4 192.7,353.0 192.7,351.8 192.7,335.9 192.8,353.7 192.8,346.4 192.8,350.4 192.9,353.2 192.9,354.8 193.0,349.4 193.0,348.5 193.0,352.5 193.1,354.9 193.1,354.4 193.1,352.4 193.2,349.2 193.2,350.2 193.2,351.0 193.3,354.5 193.3,354.9 193.4,356.2 193.4,337.3 193.4,354.1 193.5,354.2 193.5,349.3 193.5,354.6 193.6,338.8 193.6,341.6 193.6,341.3 193.7,354.5 193.7,351.6 193.8,288.9 193.8,337.6 193.8,349.1 193.9,346.0 193.9,349.6 193.9,353.8 194.0,353.9 194.0,352.7 194.1,351.7 194.1,349.7 194.1,356.2 194.2,349.2 194.2,352.2 194.2,354.9 194.3,353.6 194.3,351.4 194.3,353.8 194.4,321.6 194.4,348.5 194.5,327.8 194.5,355.8 194.5,351.0 194.6,340.8 194.6,350.1 194.6,343.2 194.7,350.1 194.7,356.3 194.8,350.3 194.8,353.5 194.8,355.0 194.9,350.3 194.9,355.6 194.9,354.8 195.0,350.2 195.0,301.9 195.0,298.4 195.1,351.9 195.1,343.6 195.2,349.1 195.2,344.7 195.2,339.5 195.3,349.3 195.3,349.2 195.3,352.6 195.4,353.7 195.4,351.3 195.4,344.9 195.5,346.6 195.5,351.1 195.6,350.3 195.6,346.6 195.6,356.2 195.7,353.6 195.7,353.5 195.7,353.0 195.8,353.5 195.8,346.7 195.9,351.2 195.9,355.8 195.9,348.2 196.0,339.1 196.0,348.4 196.0,354.6 196.1,356.2 196.1,355.2 196.1,354.0 196.2,357.0 196.2,347.0 196.3,352.7 196.3,355.4 196.3,352.7 196.4,351.6 196.4,352.1 196.4,349.1 196.5,352.9 196.5,350.0 196.6,351.5 196.6,355.7 196.6,354.1 196.7,349.0 196.7,354.9 196.7,340.5 196.8,356.0 196.8,350.3 196.8,351.2 196.9,350.2 196.9,344.6 197.0,346.4 197.0,344.4 197.0,347.7 197.1,348.4 197.1,341.7 197.1,351.2 197.2,351.5 197.2,347.7 197.3,341.9 197.3,323.0 197.3,353.0 197.4,344.4 197.4,345.4 197.4,330.3 197.5,334.1 197.5,342.6 197.5,349.5 197.6,337.4 197.6,353.8 197.7,342.6 197.7,351.5 197.7,353.4 197.8,351.4 197.8,351.0 197.8,340.5 197.9,346.8 197.9,344.1 197.9,353.0 198.0,335.9 198.0,351.8 198.1,344.2 198.1,349.8 198.1,350.7 198.2,350.6 198.2,349.1 198.2,344.2 198.3,340.5 198.3,354.4 198.4,354.2 198.4,354.6 198.4,351.6 198.5,340.2 198.5,345.0 198.5,352.7 198.6,349.7 198.6,355.3 198.6,346.9 198.7,347.2 198.7,346.6 198.8,349.7 198.8,352.4 198.8,355.1 198.9,354.8 198.9,351.7 198.9,349.5 199.0,354.0 199.0,355.7 199.1,349.5 199.1,353.6 199.1,354.6 199.2,351.7 199.2,351.3 199.2,349.2 199.3,348.5 199.3,353.8 199.3,347.1 199.4,352.3 199.4,346.4 199.5,353.7 199.5,346.3 199.5,347.2 199.6,355.7 199.6,348.2 199.6,353.5 199.7,355.1 199.7,347.7 199.8,349.9 199.8,349.0 199.8,355.2 199.9,346.3 199.9,351.7 199.9,347.1 200.0,345.3 200.0,353.6 200.0,345.2 200.1,354.8 200.1,350.8 200.2,352.3 200.2,355.4 200.2,356.0 200.3,340.3 200.3,355.3 200.3,351.1 200.4,348.2 200.4,355.7 200.4,355.0 200.5,353.1 200.5,351.5 200.6,357.2 200.6,349.7 200.6,346.0 200.7,349.8 200.7,355.4 200.7,346.8 200.8,353.7 200.8,349.8 200.9,343.4 200.9,349.2 200.9,347.8 201.0,355.0 201.0,344.1 201.0,356.8 201.1,349.1 201.1,355.6 201.1,350.5 201.2,345.8 201.2,352.1 201.3,346.2 201.3,353.1 201.3,354.0 201.4,353.8 201.4,345.3 201.4,347.3 201.5,355.3 201.5,352.2 201.6,352.7 201.6,355.1 201.6,344.9 201.7,349.0 201.7,346.0 201.7,353.3 201.8,353.0 201.8,342.0 201.8,356.0 201.9,348.7 201.9,340.5 202.0,341.3 202.0,334.7 202.0,347.4 202.1,351.0 202.1,349.3 202.1,350.5 202.2,338.0 202.2,347.0 202.2,342.6 202.3,352.1 202.3,348.3 202.4,355.3 202.4,353.6 202.4,355.9 202.5,353.8 202.5,344.6 202.5,355.4 202.6,356.2 202.6,353.2 202.7,352.6 202.7,342.4 202.7,353.8 202.8,345.0 202.8,346.5 202.8,356.1 202.9,349.8 202.9,355.3 202.9,355.0 203.0,348.0 203.0,353.5 203.1,344.8 203.1,338.8 203.1,349.8 203.2,350.6 203.2,345.7 203.2,355.3 203.3,352.8 203.3,352.7 203.4,339.9 203.4,343.7 203.4,348.4 203.5,351.5 203.5,352.1 203.5,336.9 203.6,352.8 203.6,351.7 203.6,356.2 203.7,352.0 203.7,357.1 203.8,345.5 203.8,351.1 203.8,354.4 203.9,357.2 203.9,348.8 203.9,354.0 204.0,352.3 204.0,355.1 204.1,340.6 204.1,355.2 204.1,351.3 204.2,351.3 204.2,356.2 204.2,346.1 204.3,344.0 204.3,341.1 204.3,353.7 204.4,355.5 204.4,352.0 204.5,351.1 204.5,347.7 204.5,344.9 204.6,352.7 204.6,350.2 204.6,347.2 204.7,341.7 204.7,353.6 204.7,350.6 204.8,348.9 204.8,352.3 204.9,354.7 204.9,345.2 204.9,348.7 205.0,355.2 205.0,356.0 205.0,356.1 205.1,348.9 205.1,352.2 205.2,353.1 205.2,351.5 205.2,355.2 205.3,350.0 205.3,356.5 205.3,354.0 205.4,352.2 205.4,351.5 205.4,350.9 205.5,352.2 205.5,354.3 205.6,342.4 205.6,356.3 205.6,353.4 205.7,351.7 205.7,352.2 205.7,354.3 205.8,347.4 205.8,354.7 205.9,342.7 205.9,333.7 205.9,355.4 206.0,350.0 206.0,355.3 206.0,350.8 206.1,339.1 206.1,357.0 206.1,353.7 206.2,353.1 206.2,336.0 206.3,350.3 206.3,353.4 206.3,346.4 206.4,356.0 206.4,356.9 206.4,355.8 206.5,351.1 206.5,352.0 206.6,351.4 206.6,353.7 206.6,347.6 206.7,349.4 206.7,356.2 206.7,355.1 206.8,356.4 206.8,353.5 206.8,347.8 206.9,351.1 206.9,347.9 207.0,354.5 207.0,340.2 207.0,353.5 207.1,344.3 207.1,351.0 207.1,343.9 207.2,342.4 207.2,337.3 207.2,340.8 207.3,348.4 207.3,357.0 207.4,353.6 207.4,353.9 207.4,356.4 207.5,354.6 207.5,348.1 207.5,355.6 207.6,349.2 207.6,352.7 207.7,355.4 207.7,355.6 207.7,356.6 207.8,356.0 207.8,351.3 207.8,345.8 207.9,348.2 207.9,348.8 207.9,348.5 208.0,355.4 208.0,355.6 208.1,356.1 208.1,349.4 208.1,355.1 208.2,339.8 208.2,336.5 208.2,351.2 208.3,354.9 208.3,349.2 208.4,357.0 208.4,356.9 208.4,351.0 208.5,351.2 208.5,356.2 208.5,353.6 208.6,354.5 208.6,353.4 208.6,340.6 208.7,355.7 208.7,357.3 208.8,356.8 208.8,356.8 208.8,349.6 208.9,352.8 208.9,352.5 208.9,343.8 209.0,351.8 209.0,356.0 209.0,351.6 209.1,357.1 209.1,356.0 209.2,354.9 209.2,352.9 209.2,347.3 209.3,354.1 209.3,354.5 209.3,354.3 209.4,347.1 209.4,346.8 209.5,352.2 209.5,355.1 209.5,355.7 209.6,345.6 209.6,344.1 209.6,350.3 209.7,347.6 209.7,326.3 209.7,346.5 209.8,354.3 209.8,354.3 209.9,345.2 209.9,351.2 209.9,355.1 210.0,355.6 210.0,356.7 210.0,354.2 210.1,355.2 210.1,354.1 210.2,356.0 210.2,354.5 210.2,348.2 210.3,349.1 210.3,355.0 210.3,353.6 210.4,350.1 210.4,348.4 210.4,356.2 210.5,347.7 210.5,352.1 210.6,355.4 210.6,352.6 210.6,344.8 210.7,351.0 210.7,345.9 210.7,354.5 210.8,356.4 210.8,345.1 210.9,354.7 210.9,353.3 210.9,351.5 211.0,351.2 211.0,351.3 211.0,352.7 211.1,357.1 211.1,355.8 211.1,354.7 211.2,355.5 211.2,342.8 211.3,343.3 211.3,335.6 211.3,339.9 211.4,345.2 211.4,346.6 211.4,342.4 211.5,356.5 211.5,345.8 211.5,342.6 211.6,357.1 211.6,355.7 211.7,355.6 211.7,355.5 211.7,352.3 211.8,355.9 211.8,352.4 211.8,352.6 211.9,353.3 211.9,356.8 212.0,351.7 212.0,348.3 212.0,355.9 212.1,352.4 212.1,345.9 212.1,348.7 212.2,345.3 212.2,355.6 212.2,334.3 212.3,355.2 212.3,351.8 212.4,354.3 212.4,352.1 212.4,354.9 212.5,353.5 212.5,349.2 212.5,355.0 212.6,351.8 212.6,349.0 212.7,343.6 212.7,352.2 212.7,351.4 212.8,352.5 212.8,353.9 212.8,322.3 212.9,355.6 212.9,342.3 212.9,351.3 213.0,356.5 213.0,355.0 213.1,352.5 213.1,337.9 213.1,334.3 213.2,335.2 213.2,350.9 213.2,352.0 213.3,354.7 213.3,354.7 213.4,340.9 213.4,353.0 213.4,347.8 213.5,354.1 213.5,353.7 213.5,347.9 213.6,340.1 213.6,353.9 213.6,356.9 213.7,355.8 213.7,344.1 213.8,348.8 213.8,352.4 213.8,341.4 213.9,354.5 213.9,350.8 213.9,352.6 214.0,343.7 214.0,353.6 214.0,354.8 214.1,347.2 214.1,352.2 214.2,354.8 214.2,355.5 214.2,355.3 214.3,348.0 214.3,343.0 214.3,346.0 214.4,344.8 214.4,356.6 214.5,351.9 214.5,352.4 214.5,350.7 214.6,344.5 214.6,355.9 214.6,351.3 214.7,354.0 214.7,356.6 214.7,356.3 214.8,348.3 214.8,348.7 214.9,346.6 214.9,323.0 214.9,347.7 215.0,351.2 215.0,351.2 215.0,352.4 215.1,341.8 215.1,353.6 215.2,344.9 215.2,349.6 215.2,344.6 215.3,353.9 215.3,345.9 215.3,355.1 215.4,354.1 215.4,347.7 215.4,342.8 215.5,354.8 215.5,351.5 215.6,352.9 215.6,353.3 215.6,355.3 215.7,352.0 215.7,355.5 215.7,350.8 215.8,341.5 215.8,348.8 215.8,349.3 215.9,356.0 215.9,335.2 216.0,348.9 216.0,355.8 216.0,354.8 216.1,355.8 216.1,354.0 216.1,349.8 216.2,354.1 216.2,347.9 216.3,344.7 216.3,354.1 216.3,356.2 216.4,354.9 216.4,355.2 216.4,356.3 216.5,349.5 216.5,352.4 216.5,353.4 216.6,342.8 216.6,356.2 216.7,354.3 216.7,353.4 216.7,342.4 216.8,347.8 216.8,336.8 216.8,350.3 216.9,348.7 216.9,356.2 217.0,351.5 217.0,357.2 217.0,355.5 217.1,352.4 217.1,349.0 217.1,347.9 217.2,347.3 217.2,352.9 217.2,348.7 217.3,345.1 217.3,348.6 217.4,346.1 217.4,346.9 217.4,350.5 217.5,353.5 217.5,353.7 217.5,356.2 217.6,343.0 217.6,355.9 217.7,351.2 217.7,346.3 217.7,327.8 217.8,348.5 217.8,351.2 217.8,357.2 217.9,347.6 217.9,356.9 217.9,356.8 218.0,355.6 218.0,344.2 218.1,353.4 218.1,357.0 218.1,347.5 218.2,353.0 218.2,355.4 218.2,352.9 218.3,355.4 218.3,350.7 218.3,348.5 218.4,347.2 218.4,355.4 218.5,346.5 218.5,352.8 218.5,347.6 218.6,343.8 218.6,356.4 218.6,341.5 218.7,341.5 218.7,344.1 218.8,355.1 218.8,354.1 218.8,348.4 218.9,337.5 218.9,353.0 218.9,356.6 219.0,347.7 219.0,344.8 219.0,346.2 219.1,355.8 219.1,353.5 219.2,356.8 219.2,354.6 219.2,349.6 219.3,357.3 219.3,343.8 219.3,353.9 219.4,355.3 219.4,356.1 219.5,350.4 219.5,349.8 219.5,355.9 219.6,355.1 219.6,355.1 219.6,355.4 219.7,351.8 219.7,350.0 219.7,352.7 219.8,350.0 219.8,353.9 219.9,347.8 219.9,353.5 219.9,350.2 220.0,336.9 220.0,352.2 220.0,347.8 220.1,354.8 220.1,346.9 220.2,333.6 220.2,356.2 220.2,331.4 220.3,356.3 220.3,352.5 220.3,340.9 220.4,355.5 220.4,350.5 220.4,357.1 220.5,353.2 220.5,348.8 220.6,352.4 220.6,354.7 220.6,356.8 220.7,346.1 220.7,347.9 220.7,349.9 220.8,354.2 220.8,357.1 220.8,354.3 220.9,347.6 220.9,339.5 221.0,357.3 221.0,335.6 221.0,353.1 221.1,354.8 221.1,352.7 221.1,342.4 221.2,355.6 221.2,356.2 221.3,344.3 221.3,350.2 221.3,345.5 221.4,354.1 221.4,330.1 221.4,333.4 221.5,346.5 221.5,354.4 221.5,349.9 221.6,343.4 221.6,339.3 221.7,347.0 221.7,354.0 221.7,346.1 221.8,349.9 221.8,352.3 221.8,355.7 221.9,352.2 221.9,353.4 222.0,355.8 222.0,349.9 222.0,355.5 222.1,355.4 222.1,353.4 222.1,354.3 222.2,352.2 222.2,351.4 222.2,346.8 222.3,352.9 222.3,351.0 222.4,356.7 222.4,355.1 222.4,356.5 222.5,353.8 222.5,353.4 222.5,347.6 222.6,346.7 222.6,355.8 222.6,354.7 222.7,342.1 222.7,354.5 222.8,357.0 222.8,349.8 222.8,344.7 222.9,356.7 222.9,354.4 222.9,352.9 223.0,354.4 223.0,347.6 223.1,350.6 223.1,339.2 223.1,352.9 223.2,349.8 223.2,347.8 223.2,351.9 223.3,353.1 223.3,352.6 223.3,349.5 223.4,356.2 223.4,355.3 223.5,348.2 223.5,340.2 223.5,353.7 223.6,352.8 223.6,350.5 223.6,353.1 223.7,346.1 223.7,348.0 223.8,349.2 223.8,356.4 223.8,335.0 223.9,355.2 223.9,350.0 223.9,344.8 224.0,354.5 224.0,352.2 224.0,353.7 224.1,346.7 224.1,347.8 224.2,344.5 224.2,352.0 224.2,346.1 224.3,355.1 224.3,347.2 224.3,325.7 224.4,356.2 224.4,356.2 224.5,354.2 224.5,356.3 224.5,344.7 224.6,355.2 224.6,350.2 224.6,354.2 224.7,355.4 224.7,350.6 224.7,351.5 224.8,344.2 224.8,350.4 224.9,352.7 224.9,349.8 224.9,351.0 225.0,342.9 225.0,352.8 225.0,349.6 225.1,351.6 225.1,356.6 225.1,344.8 225.2,349.5 225.2,356.0 225.3,352.1 225.3,355.4 225.3,355.1 225.4,335.0 225.4,355.1 225.4,353.6 225.5,351.3 225.5,355.9 225.6,356.0 225.6,346.7 225.6,343.0 225.7,355.2 225.7,348.2 225.7,352.5 225.8,355.7 225.8,355.2 225.8,348.8 225.9,354.9 225.9,351.0 226.0,351.4 226.0,354.5 226.0,356.9 226.1,348.9 226.1,313.0 226.1,356.8 226.2,346.8 226.2,345.7 226.3,355.9 226.3,348.4 226.3,352.4 226.4,348.8 226.4,351.2 226.4,355.4 226.5,356.3 226.5,347.7 226.5,355.3 226.6,355.0 226.6,356.0 226.7,356.7 226.7,355.0 226.7,353.7 226.8,349.2 226.8,352.3 226.8,356.9 226.9,329.2 226.9,346.5 226.9,351.2 227.0,346.4 227.0,342.9 227.1,352.2 227.1,341.8 227.1,340.7 227.2,352.6 227.2,356.6 227.2,354.2 227.3,355.6 227.3,354.3 227.4,353.5 227.4,355.2 227.4,354.7 227.5,346.7 227.5,345.3 227.5,346.7 227.6,355.5 227.6,356.0 227.6,345.9 227.7,352.5 227.7,354.6 227.8,350.9 227.8,341.3 227.8,352.2 227.9,347.4 227.9,353.9 227.9,350.7 228.0,353.6 228.0,355.2 228.1,350.8 228.1,345.5 228.1,342.8 228.2,349.6 228.2,353.0 228.2,357.0 228.3,342.6 228.3,354.1 228.3,353.5 228.4,356.7 228.4,346.4 228.5,356.1 228.5,356.3 228.5,348.6 228.6,356.4 228.6,352.7 228.6,355.4 228.7,355.6 228.7,355.0 228.8,355.4 228.8,352.2 228.8,349.8 228.9,344.5 228.9,349.5 228.9,344.1 229.0,344.1 229.0,343.0 229.0,350.4 229.1,342.8 229.1,348.4 229.2,346.8 229.2,352.0 229.2,347.3 229.3,338.9 229.3,336.7 229.3,339.3 229.4,342.0 229.4,353.8 229.4,349.9 229.5,349.6 229.5,350.5 229.6,351.3 229.6,343.8 229.6,342.3 229.7,350.6 229.7,346.7 229.7,351.2 229.8,346.1 229.8,351.9 229.9,353.1 229.9,353.3 229.9,340.0 230.0,351.4 230.0,350.7 230.0,339.5 230.1,352.9 230.1,337.5 230.1,343.1 230.2,349.3 230.2,342.3 230.3,350.3 230.3,340.5 230.3,352.4 230.4,353.0 230.4,343.1 230.4,354.7 230.5,353.0 230.5,348.1 230.6,342.3 230.6,342.1 230.6,338.4 230.7,335.0 230.7,355.0 230.7,343.8 230.8,354.3 230.8,348.6 230.8,344.9 230.9,354.7 230.9,343.9 231.0,354.8 231.0,351.9 231.0,354.9 231.1,351.5 231.1,354.6 231.1,353.7 231.2,355.2 231.2,354.5 231.3,351.3 231.3,356.4 231.3,356.8 231.4,344.0 231.4,348.8 231.4,332.9 231.5,346.3 231.5,349.6 231.5,350.3 231.6,346.6 231.6,348.1 231.7,354.4 231.7,357.2 231.7,352.3 231.8,355.6 231.8,346.1 231.8,343.9 231.9,343.8 231.9,353.7 231.9,353.7 232.0,347.8 232.0,355.1 232.1,354.7 232.1,352.9 232.1,321.3 232.2,349.5 232.2,352.1 232.2,349.7 232.3,344.3 232.3,355.4 232.4,352.7 232.4,350.7 232.4,343.5 232.5,355.2 232.5,352.1 232.5,357.0 232.6,353.5 232.6,355.5 232.6,349.9 232.7,353.0 232.7,356.2 232.8,342.5 232.8,350.4 232.8,347.8 232.9,347.8 232.9,341.3 232.9,345.7 233.0,348.7 233.0,340.6 233.1,353.6 233.1,348.0 233.1,354.7 233.2,334.5 233.2,350.6 233.2,348.4 233.3,354.6 233.3,355.0 233.3,347.9 233.4,353.7 233.4,355.7 233.5,351.1 233.5,340.0 233.5,349.7 233.6,355.7 233.6,355.2 233.6,355.8 233.7,352.6 233.7,356.8 233.7,349.9 233.8,347.0 233.8,356.0 233.9,350.8 233.9,351.2 233.9,356.3 234.0,349.8 234.0,352.9 234.0,343.2 234.1,345.8 234.1,351.3 234.2,348.1 234.2,350.8 234.2,347.9 234.3,342.7 234.3,355.7 234.3,351.2 234.4,349.5 234.4,355.1 234.4,339.6 234.5,355.2 234.5,347.5 234.6,352.1 234.6,346.7 234.6,346.7 234.7,354.5 234.7,355.7 234.7,351.8 234.8,350.5 234.8,344.0 234.9,355.1 234.9,341.8 234.9,350.4 235.0,356.8 235.0,351.2 235.0,351.3 235.1,335.6 235.1,338.4 235.1,350.1 235.2,354.0 235.2,350.8 235.3,354.0 235.3,340.7 235.3,345.7 235.4,353.3 235.4,349.6 235.4,337.5 235.5,349.0 235.5,349.2 235.6,356.5 235.6,349.2 235.6,354.1 235.7,355.6 235.7,352.1 235.7,356.9 235.8,354.0 235.8,323.9 235.8,352.6 235.9,356.0 235.9,344.4 236.0,350.7 236.0,355.2 236.0,349.1 236.1,349.4 236.1,342.5 236.1,352.6 236.2,335.4 236.2,351.4 236.2,343.8 236.3,336.3 236.3,335.9 236.4,347.1 236.4,338.7 236.4,341.0 236.5,354.8 236.5,342.8 236.5,351.3 236.6,353.5 236.6,348.4 236.7,350.9 236.7,347.8 236.7,348.0 236.8,351.4 236.8,342.7 236.8,355.0 236.9,348.8 236.9,348.4 236.9,356.2 237.0,349.0 237.0,355.1 237.1,352.8 237.1,352.0 237.1,356.5 237.2,352.3 237.2,346.5 237.2,355.4 237.3,351.8 237.3,344.1 237.4,349.2 237.4,353.0 237.4,350.8 237.5,351.4 237.5,352.3 237.5,350.5 237.6,347.9 237.6,353.0 237.6,348.7 237.7,347.9 237.7,348.7 237.8,344.7 237.8,349.1 237.8,350.6 237.9,350.6 237.9,351.8 237.9,356.3 238.0,342.8 238.0,334.6 238.1,346.1 238.1,351.9 238.1,337.0 238.2,345.9 238.2,347.7 238.2,349.1 238.3,352.3 238.3,355.4 238.3,352.1 238.4,349.6 238.4,352.3 238.5,341.9 238.5,353.7 238.5,355.5 238.6,342.6 238.6,352.8 238.6,356.7 238.7,350.7 238.7,353.1 238.7,340.3 238.8,351.4 238.8,351.0 238.9,349.3 238.9,351.5 238.9,349.4 239.0,352.7 239.0,338.9 239.0,356.9 239.1,354.3 239.1,354.4 239.2,353.3 239.2,352.8 239.2,351.1 239.3,336.6 239.3,350.1 239.3,353.4 239.4,348.5 239.4,340.8 239.4,355.8 239.5,356.1 239.5,356.2 239.6,357.0 239.6,352.9 239.6,355.8 239.7,353.9 239.7,352.4 239.7,354.8 239.8,349.5 239.8,332.9 239.9,356.2 239.9,352.0 239.9,349.6 240.0,354.4 240.0,345.9 240.0,350.1 240.1,344.9 240.1,337.8 240.1,350.5 240.2,353.0 240.2,348.3 240.3,354.9 240.3,348.4 240.3,347.2 240.4,357.1 240.4,350.1 240.4,347.2 240.5,342.6 240.5,330.7 240.5,351.7 240.6,357.4 240.6,352.7 240.7,355.3 240.7,354.0 240.7,347.4 240.8,346.3 240.8,355.5 240.8,347.5 240.9,354.9 240.9,350.1 241.0,353.4 241.0,347.7 241.0,346.7 241.1,318.7 241.1,339.6 241.1,348.9 241.2,345.7 241.2,346.1 241.2,339.9 241.3,346.2 241.3,353.4 241.4,352.8 241.4,350.9 241.4,347.3 241.5,343.8 241.5,349.0 241.5,351.9 241.6,351.4 241.6,350.6 241.7,355.7 241.7,351.9 241.7,348.2 241.8,349.2 241.8,350.7 241.8,355.8 241.9,346.6 241.9,352.9 241.9,340.9 242.0,353.8 242.0,355.0 242.1,351.2 242.1,348.1 242.1,353.3 242.2,348.4 242.2,351.0 242.2,342.7 242.3,357.1 242.3,348.2 242.4,348.7 242.4,341.4 242.4,354.6 242.5,337.8 242.5,349.4 242.5,353.6 242.6,356.1 242.6,350.8 242.6,348.0 242.7,349.0 242.7,349.1 242.8,350.5 242.8,341.0 242.8,342.2 242.9,351.3 242.9,353.8 242.9,350.5 243.0,355.4 243.0,351.0 243.0,352.9 243.1,354.8 243.1,347.7 243.2,343.7 243.2,350.8 243.2,351.6 243.3,339.5 243.3,344.1 243.3,341.9 243.4,349.4 243.4,340.6 243.5,349.4 243.5,354.6 243.5,348.6 243.6,351.6 243.6,350.1 243.6,351.7 243.7,344.3 243.7,345.4 243.7,345.8 243.8,344.9 243.8,344.3 243.9,344.9 243.9,340.1 243.9,348.5 244.0,349.6 244.0,341.0 244.0,353.8 244.1,346.9 244.1,351.4 244.2,354.7 244.2,351.1 244.2,352.7 244.3,351.5 244.3,343.2 244.3,336.5 244.4,335.8 244.4,345.7 244.4,341.4 244.5,339.6 244.5,345.0 244.6,351.8 244.6,343.5 244.6,351.1 244.7,349.6 244.7,351.0 244.7,351.3 244.8,346.9 244.8,344.7 244.9,350.6 244.9,334.5 244.9,341.2 245.0,325.2 245.0,340.1 245.0,335.8 245.1,336.3 245.1,341.9 245.1,330.8 245.2,352.4 245.2,346.8 245.3,346.5 245.3,348.2 245.3,347.3 245.4,349.3 245.4,350.3 245.4,349.2 245.5,350.5 245.5,346.3 245.5,354.0 245.6,347.4 245.6,350.3 245.7,353.5 245.7,351.7 245.7,343.8 245.8,348.9 245.8,349.1 245.8,340.1 245.9,348.2 245.9,349.4 246.0,350.0 246.0,346.5 246.0,339.2 246.1,341.0 246.1,353.6 246.1,353.1 246.2,352.7 246.2,352.5 246.2,354.1 246.3,346.2 246.3,350.5 246.4,349.7 246.4,350.2 246.4,348.3 246.5,335.2 246.5,347.8 246.5,341.3 246.6,348.6 246.6,348.3 246.7,344.1 246.7,350.3 246.7,352.9 246.8,343.8 246.8,322.7 246.8,328.2 246.9,341.1 246.9,345.4 246.9,338.1 247.0,351.5 247.0,345.5 247.1,340.1 247.1,350.6 247.1,343.3 247.2,337.1 247.2,348.6 247.2,345.5 247.3,344.7 247.3,349.2 247.3,350.5 247.4,347.6 247.4,353.7 247.5,330.6 247.5,335.7 247.5,351.2 247.6,351.1 247.6,353.9 247.6,328.4 247.7,353.8 247.7,347.7 247.8,336.4 247.8,351.7 247.8,345.2 247.9,345.2 247.9,352.8 247.9,349.8 248.0,350.6 248.0,345.7 248.0,350.3 248.1,352.6 248.1,348.8 248.2,349.9 248.2,354.3 248.2,354.4 248.3,352.6 248.3,345.5 248.3,352.4 248.4,348.9 248.4,338.8 248.5,350.8 248.5,338.8 248.5,346.1 248.6,346.1 248.6,350.9 248.6,354.0 248.7,340.9 248.7,345.6 248.7,344.2 248.8,351.7 248.8,353.9 248.9,344.9 248.9,337.5 248.9,344.2 249.0,344.9 249.0,342.2 249.0,352.3 249.1,351.8 249.1,339.4 249.2,350.6 249.2,350.9 249.2,349.6 249.3,346.2 249.3,349.1 249.3,346.9 249.4,346.5 249.4,345.4 249.4,350.5 249.5,349.0 249.5,351.1 249.6,345.3 249.6,353.3 249.6,353.7 249.7,350.1 249.7,333.9 249.7,343.1 249.8,348.8 249.8,335.9 249.8,352.5 249.9,353.3 249.9,318.5 250.0,352.3 250.0,335.9 250.0,345.2 250.1,347.0 250.1,349.3 250.1,340.0 250.2,347.5 250.2,350.0 250.3,352.9 250.3,344.1 250.3,351.6 250.4,344.4 250.4,350.7 250.4,330.4 250.5,352.8 250.5,351.7 250.5,353.2 250.6,343.9 250.6,351.1 250.7,348.0 250.7,346.7 250.7,345.8 250.8,355.4 250.8,355.5 250.8,349.7 250.9,347.5 250.9,352.8 251.0,346.0 251.0,347.7 251.0,345.3 251.1,348.5 251.1,351.2 251.1,348.5 251.2,355.7 251.2,354.6 251.2,345.6 251.3,355.7 251.3,352.7 251.4,353.4 251.4,356.0 251.4,354.8 251.5,349.7 251.5,349.3 251.5,345.0 251.6,351.5 251.6,348.6 251.7,346.0 251.7,338.4 251.7,346.6 251.8,353.8 251.8,349.9 251.8,352.9 251.9,340.2 251.9,341.3 251.9,354.0 252.0,337.5 252.0,336.4 252.1,350.6 252.1,342.2 252.1,347.1 252.2,355.1 252.2,344.4 252.2,343.7 252.3,342.1 252.3,345.4 252.3,343.0 252.4,353.6 252.4,356.9 252.5,352.5 252.5,351.5 252.5,350.8 252.6,345.2 252.6,354.0 252.6,357.3 252.7,356.2 252.7,356.5 252.8,356.8 252.8,344.8 252.8,349.4 252.9,338.6 252.9,345.1 252.9,355.0 253.0,355.4 253.0,353.8 253.0,355.9 253.1,344.3 253.1,356.1 253.2,350.0 253.2,346.5 253.2,343.8 253.3,334.4 253.3,354.5 253.3,354.3 253.4,355.2 253.4,352.3 253.5,347.9 253.5,355.4 253.5,355.1 253.6,344.6 253.6,345.7 253.6,346.6 253.7,345.5 253.7,338.3 253.7,348.4 253.8,348.9 253.8,346.7 253.9,351.4 253.9,353.8 253.9,349.6 254.0,354.1 254.0,345.6 254.0,347.9 254.1,338.2 254.1,342.7 254.1,351.9 254.2,355.0 254.2,343.0 254.3,348.3 254.3,355.5 254.3,355.5 254.4,354.4 254.4,348.9 254.4,344.8 254.5,348.6 254.5,353.1 254.6,341.2 254.6,340.8 254.6,352.7 254.7,336.4 254.7,356.8 254.7,354.1 254.8,355.6 254.8,349.0 254.8,351.2 254.9,348.7 254.9,354.0 255.0,355.7 255.0,354.4 255.0,357.2 255.1,348.0 255.1,344.8 255.1,354.1 255.2,351.3 255.2,348.1 255.3,350.7 255.3,354.4 255.3,319.3 255.4,322.2 255.4,351.0 255.4,354.4 255.5,348.1 255.5,355.0 255.5,345.7 255.6,354.4 255.6,356.1 255.7,354.1 255.7,351.6 255.7,337.6 255.8,353.2 255.8,351.6 255.8,354.6 255.9,344.2 255.9,343.1 256.0,344.5 256.0,349.1 256.0,344.7 256.1,350.1 256.1,354.5 256.1,329.0 256.2,349.2 256.2,353.8 256.2,350.4 256.3,346.9 256.3,344.4 256.4,351.3 256.4,345.6 256.4,340.9 256.5,347.2 256.5,351.6 256.5,350.7 256.6,343.5 256.6,350.4 256.6,346.6 256.7,354.9 256.7,346.6 256.8,355.5 256.8,357.1 256.8,347.6 256.9,351.4 256.9,355.8 256.9,343.5 257.0,352.0 257.0,350.2 257.1,351.2 257.1,355.7 257.1,353.2 257.2,353.9 257.2,347.9 257.2,352.7 257.3,341.3 257.3,344.5 257.3,338.5 257.4,342.2 257.4,349.5 257.5,341.5 257.5,349.5 257.5,353.5 257.6,342.3 257.6,347.9 257.6,340.1 257.7,354.0 257.7,352.2 257.8,354.5 257.8,346.0 257.8,347.9 257.9,355.3 257.9,353.1 257.9,350.7 258.0,351.5 258.0,344.8 258.0,355.4 258.1,352.8 258.1,356.5 258.2,355.3 258.2,351.2 258.2,347.7 258.3,348.3 258.3,349.4 258.3,354.8 258.4,352.0 258.4,352.4 258.4,356.4 258.5,347.1 258.5,342.5 258.6,338.7 258.6,333.4 258.6,346.3 258.7,353.9 258.7,342.4 258.7,344.8 258.8,351.8 258.8,346.6 258.9,348.5 258.9,354.0 258.9,353.6 259.0,351.8 259.0,342.1 259.0,348.8 259.1,352.3 259.1,343.1 259.1,351.3 259.2,354.4 259.2,345.2 259.3,354.2 259.3,347.9 259.3,342.2 259.4,352.2 259.4,354.5 259.4,352.4 259.5,353.3 259.5,355.4 259.6,349.9 259.6,353.9 259.6,344.3 259.7,335.8 259.7,353.5 259.7,351.9 259.8,354.1 259.8,343.1 259.8,345.4 259.9,350.0 259.9,340.7 260.0,352.4 260.0,343.9 260.0,343.4 260.1,339.8 260.1,348.4 260.1,345.2 260.2,356.1 260.2,351.1 260.3,354.8 260.3,355.3 260.3,317.5 260.4,347.3 260.4,338.5 260.4,354.3 260.5,350.9 260.5,340.1 260.5,345.5 260.6,344.6 260.6,356.4 260.7,355.1 260.7,357.1 260.7,352.9 260.8,352.5 260.8,352.7 260.8,355.6 260.9,341.9 260.9,347.5 260.9,355.0 261.0,355.3 261.0,356.3 261.1,355.4 261.1,340.3 261.1,342.4 261.2,336.7 261.2,350.1 261.2,344.7 261.3,354.8 261.3,339.8 261.4,344.5 261.4,355.6 261.4,352.8 261.5,351.3 261.5,349.8 261.5,348.7 261.6,354.9 261.6,354.9 261.6,348.1 261.7,348.3 261.7,349.6 261.8,346.3 261.8,346.1 261.8,352.8 261.9,356.6 261.9,345.7 261.9,352.4 262.0,350.9 262.0,356.1 262.1,355.8 262.1,346.8 262.1,356.4 262.2,344.8 262.2,351.0 262.2,352.6 262.3,327.6 262.3,352.1 262.3,356.3 262.4,351.3 262.4,354.1 262.5,351.9 262.5,352.5 262.5,354.7 262.6,355.6 262.6,355.4 262.6,338.0 262.7,357.2 262.7,352.7 262.8,354.4 262.8,356.0 262.8,351.9 262.9,346.5 262.9,354.8 262.9,354.4 263.0,355.3 263.0,355.4 263.0,343.9 263.1,354.3 263.1,354.3 263.2,345.1 263.2,356.7 263.2,352.3 263.3,354.9 263.3,355.1 263.3,345.6 263.4,343.8 263.4,355.1 263.4,353.5 263.5,346.0 263.5,353.1 263.6,343.7 263.6,340.1 263.6,336.9 263.7,348.5 263.7,352.2 263.7,350.8 263.8,347.9 263.8,356.7 263.9,352.2 263.9,357.2 263.9,347.7 264.0,347.5 264.0,345.2 264.0,354.6 264.1,350.9 264.1,356.4 264.1,354.2 264.2,356.9 264.2,357.1 264.3,340.1 264.3,346.0 264.3,339.5 264.4,339.4 264.4,343.5 264.4,347.7 264.5,349.0 264.5,357.0 264.6,350.9 264.6,345.5 264.6,351.0 264.7,349.7 264.7,349.5 264.7,347.0 264.8,347.2 264.8,345.6 264.8,350.3 264.9,345.7 264.9,351.5 265.0,351.0 265.0,356.2 265.0,351.4 265.1,348.7 265.1,349.6 265.1,348.4 265.2,345.1 265.2,349.4 265.2,351.8 265.3,344.7 265.3,353.9 265.4,353.2 265.4,347.6 265.4,353.4 265.5,340.1 265.5,346.7 265.5,350.7 265.6,342.5 265.6,350.1 265.7,348.1 265.7,344.7 265.7,351.9 265.8,354.8 265.8,348.6 265.8,352.7 265.9,348.4 265.9,339.6 265.9,340.5 266.0,352.9 266.0,355.2 266.1,345.4 266.1,354.0 266.1,353.0 266.2,348.7 266.2,352.0 266.2,341.7 266.3,355.0 266.3,346.0 266.4,343.3 266.4,346.2 266.4,340.8 266.5,341.7 266.5,342.1 266.5,355.1 266.6,355.7 266.6,354.6 266.6,355.6 266.7,355.7 266.7,354.8 266.8,348.7 266.8,353.9 266.8,356.5 266.9,355.4 266.9,352.4 266.9,356.0 267.0,355.2 267.0,347.1 267.1,347.9 267.1,343.6 267.1,327.9 267.2,332.3 267.2,345.2 267.2,345.7 267.3,351.1 267.3,353.5 267.3,356.2 267.4,356.2 267.4,347.5 267.5,346.8 267.5,347.9 267.5,343.8 267.6,350.4 267.6,357.0 267.6,350.7 267.7,342.4 267.7,347.7 267.7,329.0 267.8,345.9 267.8,354.0 267.9,345.6 267.9,353.0 267.9,352.5 268.0,347.3 268.0,353.5 268.0,345.3 268.1,352.9 268.1,355.4 268.2,355.6 268.2,356.7 268.2,352.3 268.3,351.0 268.3,347.3 268.3,354.4 268.4,355.4 268.4,347.0 268.4,347.9 268.5,350.7 268.5,345.3 268.6,353.4 268.6,348.3 268.6,347.3 268.7,345.0 268.7,355.3 268.7,355.8 268.8,344.4 268.8,346.1 268.9,342.1 268.9,338.0 268.9,353.7 269.0,356.2 269.0,345.1 269.0,347.5 269.1,353.6 269.1,354.7 269.1,352.0 269.2,354.8 269.2,353.4 269.3,351.5 269.3,348.7 269.3,343.1 269.4,349.1 269.4,351.0 269.4,356.1 269.5,356.3 269.5,350.0 269.6,354.9 269.6,342.4 269.6,346.3 269.7,353.0 269.7,355.9 269.7,355.5 269.8,355.7 269.8,354.8 269.8,355.9 269.9,347.0 269.9,354.5 270.0,334.7 270.0,352.9 270.0,352.4 270.1,348.8 270.1,342.7 270.1,344.1 270.2,328.7 270.2,342.9 270.2,350.4 270.3,347.2 270.3,348.4 270.4,355.4 270.4,352.3 270.4,352.4 270.5,354.4 270.5,346.0 270.5,353.7 270.6,351.1 270.6,356.0 270.7,354.6 270.7,345.0 270.7,345.9 270.8,355.0 270.8,353.3 270.8,335.4 270.9,353.4 270.9,353.8 270.9,354.8 271.0,338.4 271.0,354.9 271.1,350.3 271.1,347.4 271.1,343.7 271.2,350.6 271.2,344.0 271.2,349.4 271.3,348.5 271.3,351.2 271.4,353.2 271.4,348.5 271.4,351.8 271.5,349.8 271.5,349.2 271.5,350.0 271.6,346.0 271.6,351.5 271.6,345.2 271.7,348.1 271.7,355.8 271.8,350.6 271.8,355.5 271.8,341.4 271.9,344.9 271.9,352.0 271.9,352.3 272.0,352.6 272.0,352.1 272.0,346.7 272.1,348.7 272.1,353.0 272.2,354.8 272.2,353.8 272.2,352.3 272.3,348.1 272.3,348.6 272.3,350.8 272.4,348.3 272.4,352.5 272.5,350.4 272.5,346.3 272.5,353.4 272.6,347.5 272.6,353.5 272.6,341.8 272.7,351.2 272.7,345.1 272.7,350.6 272.8,345.6 272.8,351.0 272.9,339.3 272.9,343.0 272.9,351.0 273.0,350.4 273.0,351.9 273.0,352.3 273.1,344.7 273.1,348.3 273.2,354.1 273.2,348.5 273.2,339.6 273.3,352.7 273.3,346.3 273.3,332.6 273.4,351.4 273.4,346.1 273.4,348.9 273.5,348.4 273.5,352.8 273.6,348.0 273.6,336.6 273.6,338.5 273.7,346.3 273.7,349.2 273.7,346.3 273.8,347.6 273.8,349.4 273.9,353.6 273.9,351.6 273.9,336.3 274.0,337.5 274.0,348.5 274.0,334.4 274.1,347.6 274.1,353.5 274.1,341.0 274.2,349.2 274.2,338.2 274.3,347.5 274.3,347.5 274.3,347.8 274.4,344.8 274.4,354.2 274.4,348.4 274.5,352.9 274.5,345.7 274.5,352.0 274.6,352.9 274.6,345.4 274.7,349.3 274.7,354.2 274.7,339.0 274.8,338.1 274.8,343.9 274.8,351.6 274.9,348.0 274.9,349.7 275.0,354.2 275.0,346.3 275.0,350.1 275.1,348.1 275.1,346.0 275.1,353.2 275.2,350.0 275.2,351.5 275.2,354.7 275.3,345.9 275.3,351.4 275.4,352.1 275.4,350.8 275.4,344.4 275.5,341.2 275.5,351.4 275.5,347.5 275.6,347.6 275.6,352.9 275.7,344.8 275.7,343.0 275.7,351.4 275.8,355.2 275.8,340.8 275.8,345.4 275.9,349.4 275.9,353.5 275.9,354.0 276.0,349.1 276.0,356.0 276.1,346.9 276.1,347.2 276.1,352.7 276.2,352.7 276.2,353.2 276.2,350.4 276.3,353.8 276.3,343.7 276.4,347.3 276.4,314.8 276.4,347.0 276.5,342.4 276.5,351.8 276.5,352.1 276.6,340.1 276.6,346.0 276.6,349.5 276.7,345.5 276.7,345.1 276.8,349.0 276.8,344.9 276.8,353.2 276.9,348.6 276.9,350.7 276.9,348.0 277.0,341.1 277.0,336.4 277.0,352.4 277.1,347.4 277.1,349.9 277.2,350.1 277.2,354.6 277.2,344.9 277.3,351.6 277.3,351.1 277.3,342.6 277.4,325.2 277.4,327.1 277.5,348.3 277.5,342.4 277.5,340.4 277.6,348.2 277.6,352.6 277.6,353.2 277.7,351.1 277.7,342.1 277.7,351.1 277.8,348.3 277.8,349.8 277.9,354.1 277.9,344.1 277.9,350.1 278.0,347.5 278.0,348.8 278.0,329.0 278.1,350.5 278.1,341.6 278.2,350.7 278.2,350.9 278.2,348.1 278.3,341.1 278.3,354.5 278.3,352.5 278.4,345.6 278.4,330.1 278.4,349.5 278.5,350.9 278.5,355.0 278.6,348.3 278.6,320.3 278.6,355.2 278.7,345.9 278.7,350.2 278.7,351.9 278.8,347.8 278.8,348.0 278.8,353.3 278.9,339.2 278.9,345.0 279.0,351.4 279.0,329.3 279.0,348.2 279.1,342.8 279.1,355.6 279.1,336.4 279.2,345.4 279.2,351.5 279.3,348.2 279.3,347.4 279.3,347.5 279.4,355.5 279.4,349.2 279.4,351.2 279.5,353.5 279.5,356.8 279.5,349.1 279.6,352.6 279.6,345.8 279.7,350.2 279.7,354.7 279.7,354.0 279.8,352.9 279.8,350.4 279.8,355.8 279.9,334.9 279.9,350.1 280.0,344.5 280.0,354.2 280.0,351.0 280.1,352.0 280.1,348.8 280.1,349.8 280.2,354.5 280.2,345.4 280.2,354.3 280.3,348.9 280.3,334.6 280.4,313.0 280.4,352.1 280.4,343.4 280.5,352.4 280.5,356.8 280.5,350.6 280.6,333.1 280.6,351.7 280.7,353.7 280.7,345.3 280.7,348.6 280.8,353.8 280.8,339.2 280.8,351.6 280.9,346.7 280.9,350.2 280.9,351.7 281.0,339.6 281.0,355.0 281.1,356.0 281.1,349.1 281.1,354.6 281.2,349.8 281.2,349.6 281.2,354.6 281.3,350.8 281.3,350.6 281.3,356.9 281.4,350.9 281.4,349.7 281.5,354.1 281.5,355.6 281.5,349.7 281.6,349.4 281.6,353.8 281.6,355.3 281.7,356.2 281.7,355.7 281.8,351.3 281.8,353.3 281.8,354.9 281.9,342.0 281.9,349.9 281.9,356.3 282.0,355.1 282.0,354.0 282.0,353.9 282.1,349.2 282.1,345.1 282.2,346.0 282.2,356.0 282.2,355.9 282.3,354.2 282.3,339.8 282.3,342.4 282.4,352.1 282.4,345.4 282.5,357.0 282.5,355.4 282.5,341.5 282.6,347.2 282.6,352.3 282.6,343.0 282.7,356.4 282.7,355.2 282.7,355.2 282.8,347.7 282.8,356.4 282.9,349.8 282.9,353.7 282.9,350.5 283.0,352.7 283.0,353.4 283.0,345.3 283.1,345.7 283.1,345.8 283.2,355.0 283.2,352.4 283.2,349.8 283.3,355.2 283.3,351.3 283.3,357.3 283.4,354.5 283.4,355.2 283.4,354.2 283.5,356.4 283.5,355.2 283.6,356.4 283.6,354.7 283.6,351.2 283.7,341.8 283.7,356.0 283.7,336.9 283.8,335.3 283.8,338.1 283.8,354.4 283.9,352.5 283.9,333.0 284.0,350.2 284.0,357.2 284.0,356.2 284.1,345.6 284.1,355.1 284.1,351.4 284.2,348.7 284.2,353.7 284.3,350.2 284.3,355.7 284.3,350.9 284.4,349.8 284.4,355.5 284.4,351.1 284.5,353.2 284.5,346.7 284.5,342.0 284.6,337.4 284.6,354.8 284.7,345.0 284.7,355.1 284.7,356.5 284.8,352.5 284.8,355.9 284.8,345.7 284.9,350.5 284.9,355.9 285.0,355.1 285.0,348.0 285.0,336.9 285.1,340.5 285.1,342.5 285.1,351.8 285.2,354.3 285.2,354.6 285.2,355.3 285.3,345.8 285.3,356.7 285.4,355.0 285.4,354.2 285.4,354.6 285.5,352.9 285.5,356.9 285.5,352.4 285.6,352.8 285.6,354.0 285.6,352.7 285.7,353.8 285.7,350.9 285.8,355.1 285.8,355.1 285.8,354.8 285.9,338.2 285.9,344.0 285.9,355.9 286.0,351.9 286.0,352.2 286.1,354.4 286.1,350.9 286.1,354.5 286.2,344.7 286.2,351.3 286.2,346.7 286.3,341.8 286.3,353.3 286.3,354.5 286.4,340.7 286.4,348.5 286.5,354.5 286.5,346.9 286.5,351.8 286.6,353.2 286.6,354.8 286.6,354.5 286.7,355.7 286.7,351.7 286.8,347.7 286.8,352.9 286.8,348.4 286.9,342.4 286.9,345.0 286.9,348.0 287.0,348.7 287.0,339.7 287.0,352.3 287.1,356.4 287.1,332.6 287.2,350.2 287.2,349.7 287.2,356.1 287.3,353.7 287.3,350.7 287.3,354.6 287.4,356.2 287.4,345.3 287.5,343.7 287.5,352.9 287.5,352.6 287.6,348.7 287.6,356.9 287.6,348.3 287.7,352.7 287.7,347.9 287.7,351.2 287.8,356.5 287.8,347.5 287.9,351.0 287.9,352.1 287.9,356.7 288.0,334.6 288.0,355.2 288.0,354.3 288.1,350.2 288.1,355.1 288.1,349.3 288.2,355.0 288.2,342.3 288.3,355.4 288.3,323.9 288.3,348.3 288.4,356.7 288.4,354.0 288.4,341.6 288.5,351.9 288.5,349.5 288.6,352.3 288.6,352.3 288.6,342.6 288.7,331.8 288.7,333.1 288.7,340.3 288.8,354.5 288.8,356.3 288.8,350.8 288.9,351.2 288.9,355.2 289.0,353.8 289.0,351.1 289.0,356.3 289.1,355.4 289.1,348.6 289.1,347.8 289.2,355.0 289.2,346.6 289.3,344.1 289.3,341.1 289.3,347.5 289.4,357.3 289.4,341.6 289.4,345.4 289.5,349.3 289.5,357.0 289.5,345.5 289.6,350.1 289.6,354.6 289.7,353.3 289.7,353.3 289.7,356.1 289.8,350.4 289.8,340.2 289.8,349.0 289.9,350.4 289.9,345.9 289.9,351.6 290.0,352.5 290.0,354.5 290.1,355.2 290.1,355.0 290.1,355.6 290.2,350.5 290.2,352.6 290.2,356.2 290.3,351.2 290.3,354.0 290.4,353.9 290.4,351.8 290.4,355.4 290.5,350.3 290.5,338.2 290.5,344.2 290.6,352.6 290.6,348.7 290.6,356.6 290.7,344.8 290.7,347.3 290.8,356.0 290.8,352.0 290.8,347.6 290.9,353.2 290.9,352.9 290.9,350.8 291.0,356.7 291.0,354.2 291.1,352.4 291.1,350.9 291.1,348.8 291.2,354.6 291.2,357.2 291.2,355.1 291.3,355.6 291.3,348.6 291.3,347.4 291.4,353.7 291.4,351.3 291.5,346.2 291.5,347.7 291.5,352.4 291.6,354.0 291.6,356.4 291.6,353.9 291.7,352.6 291.7,344.3 291.8,349.9 291.8,356.2 291.8,353.2 291.9,349.1 291.9,354.9 291.9,351.3 292.0,348.7 292.0,357.3 292.0,351.2 292.1,347.3 292.1,347.7 292.2,349.1 292.2,347.4 292.2,353.8 292.3,345.8 292.3,351.4 292.3,354.1 292.4,351.8 292.4,352.9 292.4,353.9 292.5,347.6 292.5,354.9 292.6,352.8 292.6,352.7 292.6,345.8 292.7,353.0 292.7,346.1 292.7,355.6 292.8,337.4 292.8,356.4 292.9,350.7 292.9,357.0 292.9,347.6 293.0,356.3 293.0,348.8 293.0,352.7 293.1,349.5 293.1,352.5 293.1,348.4 293.2,354.2 293.2,354.2 293.3,340.3 293.3,349.5 293.3,350.0 293.4,346.6 293.4,354.2 293.4,355.0 293.5,337.4 293.5,345.9 293.6,357.1 293.6,356.6 293.6,351.2 293.7,345.3 293.7,342.0 293.7,353.6 293.8,348.8 293.8,354.8 293.8,348.3 293.9,355.8 293.9,356.1 294.0,353.9 294.0,353.1 294.0,355.7 294.1,355.0 294.1,346.1 294.1,347.9 294.2,348.2 294.2,352.4 294.3,353.9 294.3,356.1 294.3,350.9 294.4,355.5 294.4,357.3 294.4,350.5 294.5,356.0 294.5,356.9 294.5,353.5 294.6,351.5 294.6,346.1 294.7,355.2 294.7,353.6 294.7,341.6 294.8,341.7 294.8,355.6 294.8,353.8 294.9,354.0 294.9,352.0 294.9,346.0 295.0,350.7 295.0,352.5 295.1,330.1 295.1,356.3 295.1,354.4 295.2,356.3 295.2,355.8 295.2,351.6 295.3,349.9 295.3,355.8 295.4,356.6 295.4,355.6 295.4,343.3 295.5,352.2 295.5,346.6 295.5,353.8 295.6,353.4 295.6,344.6 295.6,353.6 295.7,355.0 295.7,353.7 295.8,348.7 295.8,348.8 295.8,339.7 295.9,345.7 295.9,357.1 295.9,350.1 296.0,352.8 296.0,353.5 296.1,347.1 296.1,353.6 296.1,346.3 296.2,350.2 296.2,347.9 296.2,347.3 296.3,339.1 296.3,350.0 296.3,350.7 296.4,344.3 296.4,333.3 296.5,336.9 296.5,351.3 296.5,342.6 296.6,349.7 296.6,356.2 296.6,351.2 296.7,356.4 296.7,354.6 296.7,347.2 296.8,356.4 296.8,355.5 296.9,347.2 296.9,351.4 296.9,353.4 297.0,338.1 297.0,336.3 297.0,334.7 297.1,345.6 297.1,351.9 297.2,335.9 297.2,333.0 297.2,338.7 297.3,342.1 297.3,353.9 297.3,351.5 297.4,341.6 297.4,351.1 297.4,349.6 297.5,356.2 297.5,353.1 297.6,350.2 297.6,343.9 297.6,355.0 297.7,352.0 297.7,352.1 297.7,354.9 297.8,352.7 297.8,349.6 297.9,355.2 297.9,353.8 297.9,356.2 298.0,354.1 298.0,348.9 298.0,348.5 298.1,348.4 298.1,348.4 298.1,356.5 298.2,352.6 298.2,355.9 298.3,354.9 298.3,341.8 298.3,344.4 298.4,352.6 298.4,346.0 298.4,353.1 298.5,350.4 298.5,356.0 298.6,348.7 298.6,349.8 298.6,346.4 298.7,346.8 298.7,334.3 298.7,355.2 298.8,355.9 298.8,350.7 298.8,350.6 298.9,356.1 298.9,347.3 299.0,344.5 299.0,355.2 299.0,352.9 299.1,356.7 299.1,353.7 299.1,355.8 299.2,355.0 299.2,356.3 299.2,341.4 299.3,344.0 299.3,352.6 299.4,353.2 299.4,350.0 299.4,353.6 299.5,354.1 299.5,348.0 299.5,356.5 299.6,342.8 299.6,353.2 299.7,350.3 299.7,351.8 299.7,357.0 299.8,355.9 299.8,352.2 299.8,355.5 299.9,352.3 299.9,353.2 299.9,348.9 300.0,355.3 300.0,353.4 300.1,352.8 300.1,350.4 300.1,355.0 300.2,350.5 300.2,353.7 300.2,343.2 300.3,350.7 300.3,336.6 300.4,347.8 300.4,343.4 300.4,353.3 300.5,353.5 300.5,350.9 300.5,350.0 300.6,354.5 300.6,349.1 300.6,325.7 300.7,343.1 300.7,330.8 300.8,344.1 300.8,355.5 300.8,353.1 300.9,353.3 300.9,349.5 300.9,348.3 301.0,343.5 301.0,342.7 301.1,353.2 301.1,351.1 301.1,352.4 301.2,349.8 301.2,354.1 301.2,345.3 301.3,347.4 301.3,355.8 301.3,355.1 301.4,353.8 301.4,350.1 301.5,344.1 301.5,349.2 301.5,351.6 301.6,349.0 301.6,347.6 301.6,354.1 301.7,347.4 301.7,350.8 301.7,343.0 301.8,353.0 301.8,351.8 301.9,352.4 301.9,353.4 301.9,350.0 302.0,348.2 302.0,354.0 302.0,341.1 302.1,347.9 302.1,349.2 302.2,353.9 302.2,352.5 302.2,345.5 302.3,354.0 302.3,354.7 302.3,352.8 302.4,344.3 302.4,355.6 302.4,344.5 302.5,351.2 302.5,351.7 302.6,347.4 302.6,353.7 302.6,345.8 302.7,342.4 302.7,354.8 302.7,345.4 302.8,347.1 302.8,352.4 302.9,354.4 302.9,348.2 302.9,348.5 303.0,349.8 303.0,353.9 303.0,343.3 303.1,344.5 303.1,356.0 303.1,356.5 303.2,354.5 303.2,347.8 303.3,340.9 303.3,345.7 303.3,343.4 303.4,348.5 303.4,346.4 303.4,341.9 303.5,353.0 303.5,343.3 303.5,355.8 303.6,353.7 303.6,350.8 303.7,345.4 303.7,345.6 303.7,347.6 303.8,338.2 303.8,355.9 303.8,355.1 303.9,355.9 303.9,355.1 304.0,348.7 304.0,352.2 304.0,350.6 304.1,355.9 304.1,346.7 304.1,356.8 304.2,348.6 304.2,347.1 304.2,352.5 304.3,345.1 304.3,351.1 304.4,338.5 304.4,356.0 304.4,351.8 304.5,350.7 304.5,351.3 304.5,351.8 304.6,353.1 304.6,346.1 304.7,353.9 304.7,348.5 304.7,336.5 304.8,342.5 304.8,355.1 304.8,349.4 304.9,355.2 304.9,351.1 304.9,355.0 305.0,344.9 305.0,349.2 305.1,343.9 305.1,351.5 305.1,352.5 305.2,340.8 305.2,353.0 305.2,355.5 305.3,354.5 305.3,353.1 305.4,355.0 305.4,351.2 305.4,352.0 305.5,349.2 305.5,348.2 305.5,348.2 305.6,332.4 305.6,339.8 305.6,357.0 305.7,347.6 305.7,356.7 305.8,355.9 305.8,346.6 305.8,347.1 305.9,355.6 305.9,341.2 305.9,354.8 306.0,354.1 306.0,354.9 306.0,353.7 306.1,343.0 306.1,340.8 306.2,338.7 306.2,350.9 306.2,354.6 306.3,350.9 306.3,334.9 306.3,356.1 306.4,356.4 306.4,348.0 306.5,353.1 306.5,356.0 306.5,350.7 306.6,356.1 306.6,348.4 306.6,353.0 306.7,341.8 306.7,342.2 306.7,349.7 306.8,350.6 306.8,356.1 306.9,354.3 306.9,352.8 306.9,350.6 307.0,349.1 307.0,353.1 307.0,347.3 307.1,354.9 307.1,350.0 307.2,340.5 307.2,350.1 307.2,350.1 307.3,352.1 307.3,350.6 307.3,353.4 307.4,344.8 307.4,353.8 307.4,338.0 307.5,347.1 307.5,340.4 307.6,338.3 307.6,351.5 307.6,352.8 307.7,352.9 307.7,348.3 307.7,355.9 307.8,354.1 307.8,351.6 307.9,354.4 307.9,357.0 307.9,343.8 308.0,347.7 308.0,355.4 308.0,355.1 308.1,357.1 308.1,339.9 308.1,354.4 308.2,350.0 308.2,349.5 308.3,354.3 308.3,352.6 308.3,354.1 308.4,348.9 308.4,347.9 308.4,347.0 308.5,333.0 308.5,349.1 308.5,353.5 308.6,344.7 308.6,348.8 308.7,354.2 308.7,353.0 308.7,356.4 308.8,344.0 308.8,328.7 308.8,348.5 308.9,352.9 308.9,354.8 309.0,350.1 309.0,353.5 309.0,354.6 309.1,349.1 309.1,349.9 309.1,351.9 309.2,351.8 309.2,351.5 309.2,348.5 309.3,354.8 309.3,343.3 309.4,344.2 309.4,356.5 309.4,341.9 309.5,349.2 309.5,357.3 309.5,338.8 309.6,353.5 309.6,350.2 309.7,345.1 309.7,339.5 309.7,340.7 309.8,356.3 309.8,355.9 309.8,356.0 309.9,353.3 309.9,352.3 309.9,349.1 310.0,355.8 310.0,350.8 310.1,348.3 310.1,352.1 310.1,328.5 310.2,355.8 310.2,345.5 310.2,356.2 310.3,349.9 310.3,349.6 310.3,343.7 310.4,341.5 310.4,351.9 310.5,353.9 310.5,350.8 310.5,354.5 310.6,353.3 310.6,353.5 310.6,343.8 310.7,351.3 310.7,354.0 310.8,345.6 310.8,350.5 310.8,352.5 310.9,353.7 310.9,350.2 310.9,349.0 311.0,341.9 311.0,340.1 311.0,345.0 311.1,353.0 311.1,354.9 311.2,352.7 311.2,350.2 311.2,348.5 311.3,355.0 311.3,353.9 311.3,355.6 311.4,350.3 311.4,353.2 311.5,350.0 311.5,349.4 311.5,347.4 311.6,352.7 311.6,344.7 311.6,355.1 311.7,341.0 311.7,336.5 311.7,346.7 311.8,353.3 311.8,353.8 311.9,338.5 311.9,354.8 311.9,348.7 312.0,350.8 312.0,346.3 312.0,352.3 312.1,354.3 312.1,316.6 312.2,344.9 312.2,339.9 312.2,347.0 312.3,355.4 312.3,354.5 312.3,353.5 312.4,349.6 312.4,341.2 312.4,344.2 312.5,351.1 312.5,351.3 312.6,355.7 312.6,348.0 312.6,342.8 312.7,348.8 312.7,352.6 312.7,355.8 312.8,345.3 312.8,350.1 312.8,354.9 312.9,354.6 312.9,344.2 313.0,354.7 313.0,349.2 313.0,349.6 313.1,354.2 313.1,349.0 313.1,352.8 313.2,356.4 313.2,350.3 313.3,350.0 313.3,352.7 313.3,354.5 313.4,350.0 313.4,347.3 313.4,346.6 313.5,351.9 313.5,350.8 313.5,355.0 313.6,327.0 313.6,354.8 313.7,353.5 313.7,337.7 313.7,334.5 313.8,340.2 313.8,348.6 313.8,336.6 313.9,353.4 313.9,343.6 314.0,348.5 314.0,346.0 314.0,333.2 314.1,338.3 314.1,346.1 314.1,347.4 314.2,353.8 314.2,349.4 314.2,347.0 314.3,346.6 314.3,350.3 314.4,339.0 314.4,350.3 314.4,350.8 314.5,348.5 314.5,346.9 314.5,351.8 314.6,348.0 314.6,346.8 314.7,336.1 314.7,340.9 314.7,343.9 314.8,348.6 314.8,346.3 314.8,343.0 314.9,351.0 314.9,351.2 314.9,338.2 315.0,350.3 315.0,353.3 315.1,349.2 315.1,355.0 315.1,350.3 315.2,337.5 315.2,349.2 315.2,350.1 315.3,344.6 315.3,351.7 315.3,354.1 315.4,354.2 315.4,353.8 315.5,353.3 315.5,346.6 315.5,352.7 315.6,354.0 315.6,338.5 315.6,352.8 315.7,351.2 315.7,353.1 315.8,339.9 315.8,341.7 315.8,333.9 315.9,340.4 315.9,347.6 315.9,352.6 316.0,345.3 316.0,348.8 316.0,344.2 316.1,313.0 316.1,341.9 316.2,350.4 316.2,340.8 316.2,353.1 316.3,345.9 316.3,341.3 316.3,347.4 316.4,351.1 316.4,344.5 316.5,350.6 316.5,342.1 316.5,352.8 316.6,343.0 316.6,338.1 316.6,344.0 316.7,352.7 316.7,353.8 316.7,347.7 316.8,351.1 316.8,345.0 316.9,349.6 316.9,356.2 316.9,353.2 317.0,353.3 317.0,349.8 317.0,348.3 317.1,349.6 317.1,352.5 317.1,336.6 317.2,346.0 317.2,345.1 317.3,338.8 317.3,348.9 317.3,356.4 317.4,349.9 317.4,355.1 317.4,356.4 317.5,351.9 317.5,353.1 317.6,346.7 317.6,348.4 317.6,348.9 317.7,347.6 317.7,344.4 317.7,351.7 317.8,353.2 317.8,341.3 317.8,345.0 317.9,350.0 317.9,354.1 318.0,352.4 318.0,351.5 318.0,336.9 318.1,355.9 318.1,344.2 318.1,354.7 318.2,347.8 318.2,354.7 318.3,353.5 318.3,344.1 318.3,356.5 318.4,346.5 318.4,348.6 318.4,353.4 318.5,354.6 318.5,349.5 318.5,354.1 318.6,356.1 318.6,355.1 318.7,346.5 318.7,347.5 318.7,349.8 318.8,352.6 318.8,343.7 318.8,353.8 318.9,351.9 318.9,356.4 319.0,345.9 319.0,351.0 319.0,355.7 319.1,348.1 319.1,343.7 319.1,345.7 319.2,352.3 319.2,347.4 319.2,349.6 319.3,347.3 319.3,345.4 319.4,352.5 319.4,354.4 319.4,354.9 319.5,353.9 319.5,356.3 319.5,354.9 319.6,353.3 319.6,348.7 319.6,346.7 319.7,355.1 319.7,356.1 319.8,356.7 319.8,352.1 319.8,344.6 319.9,346.4 319.9,349.0 319.9,346.5 320.0,354.0 320.0,350.4 320.1,347.5 320.1,344.0 320.1,353.0 320.2,351.8 320.2,346.9 320.2,349.5 320.3,354.5 320.3,355.3 320.3,348.6 320.4,350.9 320.4,351.5 320.5,338.2 320.5,354.5 320.5,353.0 320.6,356.3 320.6,330.9 320.6,345.9 320.7,354.2 320.7,343.1 320.8,356.2 320.8,352.9 320.8,351.3 320.9,351.2 320.9,346.4 320.9,356.7 321.0,351.1 321.0,356.5 321.0,356.8 321.1,353.7 321.1,346.5 321.2,357.3 321.2,354.3 321.2,348.1 321.3,356.7 321.3,348.4 321.3,339.9 321.4,339.5 321.4,353.5 321.4,344.6 321.5,354.1 321.5,355.5 321.6,353.8 321.6,350.4 321.6,355.7 321.7,350.8 321.7,355.8 321.7,353.5 321.8,348.7 321.8,339.7 321.9,348.6 321.9,353.0 321.9,354.3 322.0,347.0 322.0,347.8 322.0,351.3 322.1,352.4 322.1,345.9 322.1,349.8 322.2,356.3 322.2,340.8 322.3,357.2 322.3,344.5 322.3,347.5 322.4,354.3 322.4,351.3 322.4,354.9 322.5,356.5 322.5,349.0 322.6,350.1 322.6,354.3 322.6,356.6 322.7,347.3 322.7,344.0 322.7,354.6 322.8,347.6 322.8,349.9 322.8,355.8 322.9,347.8 322.9,355.8 323.0,356.2 323.0,347.1 323.0,353.2 323.1,349.1 323.1,348.5 323.1,355.6 323.2,352.8 323.2,355.4 323.3,352.4 323.3,354.6 323.3,345.6 323.4,355.1 323.4,342.8 323.4,353.2 323.5,353.0 323.5,352.3 323.5,351.5 323.6,349.1 323.6,356.8 323.7,352.5 323.7,355.0 323.7,354.1 323.8,352.1 323.8,346.6 323.8,347.8 323.9,352.7 323.9,347.2 323.9,351.8 324.0,343.8 324.0,356.9 324.1,350.5 324.1,356.8 324.1,341.3 324.2,356.2 324.2,354.7 324.2,348.9 324.3,350.1 324.3,355.6 324.4,356.5 324.4,352.5 324.4,349.1 324.5,342.4 324.5,352.9 324.5,353.6 324.6,351.1 324.6,351.2 324.6,341.9 324.7,342.8 324.7,352.6 324.8,354.2 324.8,349.9 324.8,357.1 324.9,354.5 324.9,341.2 324.9,345.6 325.0,346.0 325.0,351.8 325.1,349.5 325.1,356.2 325.1,351.8 325.2,345.9 325.2,340.4 325.2,343.2 325.3,355.4 325.3,356.5 325.3,350.9 325.4,353.8 325.4,343.0 325.5,351.3 325.5,345.5 325.5,344.7 325.6,356.5 325.6,332.9 325.6,357.0 325.7,348.9 325.7,349.4 325.8,353.3 325.8,351.7 325.8,352.7 325.9,349.4 325.9,353.9 325.9,346.6 326.0,353.7 326.0,355.1 326.0,354.1 326.1,350.2 326.1,357.0 326.2,354.3 326.2,343.3 326.2,340.6 326.3,347.3 326.3,354.6 326.3,345.6 326.4,351.1 326.4,355.9 326.4,357.2 326.5,351.2 326.5,352.0 326.6,356.0 326.6,338.7 326.6,355.7 326.7,356.6 326.7,350.6 326.7,352.7 326.8,349.3 326.8,349.6 326.9,353.8 326.9,356.8 326.9,328.9 327.0,340.9 327.0,347.9 327.0,354.1 327.1,349.5 327.1,343.1 327.1,350.2 327.2,344.9 327.2,331.2 327.3,332.8 327.3,345.0 327.3,356.7 327.4,354.3 327.4,354.7 327.4,352.8 327.5,345.9 327.5,350.0 327.6,350.0 327.6,334.6 327.6,353.0 327.7,350.0 327.7,356.8 327.7,356.3 327.8,352.6 327.8,352.1 327.8,343.1 327.9,336.0 327.9,342.7 328.0,355.8 328.0,355.8 328.0,355.7 328.1,355.9 328.1,348.6 328.1,346.7 328.2,351.3 328.2,355.6 328.2,347.9 328.3,355.6 328.3,349.0 328.4,349.7 328.4,347.7 328.4,350.1 328.5,335.1 328.5,347.1 328.5,350.3 328.6,355.0 328.6,347.9 328.7,347.8 328.7,348.4 328.7,356.3 328.8,355.5 328.8,351.0 328.8,355.6 328.9,351.6 328.9,344.8 328.9,355.2 329.0,351.7 329.0,342.1 329.1,350.8 329.1,355.3 329.1,355.8 329.2,356.7 329.2,356.1 329.2,349.3 329.3,347.9 329.3,348.7 329.4,354.6 329.4,345.4 329.4,356.0 329.5,351.5 329.5,354.7 329.5,344.3 329.6,352.3 329.6,356.3 329.6,355.8 329.7,356.3 329.7,352.5 329.8,348.3 329.8,354.4 329.8,356.1 329.9,356.3 329.9,340.6 329.9,352.2 330.0,346.7 330.0,353.8 330.1,351.7 330.1,352.3 330.1,355.1 330.2,347.8 330.2,354.1 330.2,348.7 330.3,342.5 330.3,336.0 330.3,341.2 330.4,346.7 330.4,337.5 330.5,348.6 330.5,347.1 330.5,348.2 330.6,352.1 330.6,353.3 330.6,355.9 330.7,341.3 330.7,348.1 330.7,356.2 330.8,355.4 330.8,355.4 330.9,356.0 330.9,350.9 330.9,353.9 331.0,356.3 331.0,355.2 331.0,355.6 331.1,344.5 331.1,350.3 331.2,341.9 331.2,356.5 331.2,336.5 331.3,348.2 331.3,354.4 331.3,355.6 331.4,351.7 331.4,354.5 331.4,355.4 331.5,349.9 331.5,353.0 331.6,353.0 331.6,345.0 331.6,352.8 331.7,346.1 331.7,353.9 331.7,344.3 331.8,353.8 331.8,353.0 331.9,348.5 331.9,344.4 331.9,346.0 332.0,351.0 332.0,343.9 332.0,354.9 332.1,340.8 332.1,355.6 332.1,356.3 332.2,352.8 332.2,336.1 332.3,333.1 332.3,351.4 332.3,354.6 332.4,345.0 332.4,352.5 332.4,348.1 332.5,344.7 332.5,355.7 332.6,346.7 332.6,343.6 332.6,353.4 332.7,353.5 332.7,350.5 332.7,347.6 332.8,345.8 332.8,356.4 332.8,355.8 332.9,352.8 332.9,353.6 333.0,353.9 333.0,348.1 333.0,353.8 333.1,345.8 333.1,355.7 333.1,352.3 333.2,329.6 333.2,356.2 333.2,350.2 333.3,350.5 333.3,347.3 333.4,339.1 333.4,347.8 333.4,349.4 333.5,341.7 333.5,348.6 333.5,351.4 333.6,355.9 333.6,350.3 333.7,343.2 333.7,345.7 333.7,352.1 333.8,348.9 333.8,356.0 333.8,352.6 333.9,340.4 333.9,336.5 333.9,341.7 334.0,344.3 334.0,345.4 334.1,348.6 334.1,356.1 334.1,356.0 334.2,323.9 334.2,345.9 334.2,349.3 334.3,352.7 334.3,353.0 334.4,347.5 334.4,351.9 334.4,351.9 334.5,343.6 334.5,350.3 334.5,351.6 334.6,354.3 334.6,349.3 334.6,342.5 334.7,337.5 334.7,355.3 334.8,354.6 334.8,348.2 334.8,348.0 334.9,353.0 334.9,355.6 334.9,355.2 335.0,352.3 335.0,354.5 335.0,355.7 335.1,343.4 335.1,356.5 335.2,334.9 335.2,341.7 335.2,354.7 335.3,354.0 335.3,351.6 335.3,350.8 335.4,341.2 335.4,354.8 335.5,347.9 335.5,352.0 335.5,356.1 335.6,344.3 335.6,339.3 335.6,351.4 335.7,352.5 335.7,348.4 335.7,351.4 335.8,350.6 335.8,353.1 335.9,355.2 335.9,349.1 335.9,344.1 336.0,352.0 336.0,336.4 336.0,341.7 336.1,355.1 336.1,354.2 336.2,343.8 336.2,340.0 336.2,340.6 336.3,333.9 336.3,346.7 336.3,354.1 336.4,347.3 336.4,345.0 336.4,346.7 336.5,346.9 336.5,346.6 336.6,353.4 336.6,347.2 336.6,351.7 336.7,348.7 336.7,346.5 336.7,353.2 336.8,346.9 336.8,354.6 336.9,344.5 336.9,350.6 336.9,354.9 337.0,350.3 337.0,349.7 337.0,343.3 337.1,344.4 337.1,353.0 337.1,346.8 337.2,344.5 337.2,350.4 337.3,341.0 337.3,345.4 337.3,346.8 337.4,341.4 337.4,345.3 337.4,342.7 337.5,349.9 337.5,342.1 337.5,336.1 337.6,353.5 337.6,351.1 337.7,346.8 337.7,350.7 337.7,340.4 337.8,342.3 337.8,340.9 337.8,339.5 337.9,345.7 337.9,348.9 338.0,343.6 338.0,341.3 338.0,349.8 338.1,338.5 338.1,349.0 338.1,348.4 338.2,349.2 338.2,349.6 338.2,343.6 338.3,339.7 338.3,339.0 338.4,351.3 338.4,344.5 338.4,340.9 338.5,343.9 338.5,327.2 338.5,344.6 338.6,345.9 338.6,346.9 338.7,348.6 338.7,350.4 338.7,336.8 338.8,333.2 338.8,348.6 338.8,349.5 338.9,344.5 338.9,348.1 338.9,346.4 339.0,348.8 339.0,349.3 339.1,338.5 339.1,338.5 339.1,351.8 339.2,352.5 339.2,350.4 339.2,345.2 339.3,331.3 339.3,338.2 339.4,342.9 339.4,346.5 339.4,344.8 339.5,340.1 339.5,346.5 339.5,351.2 339.6,350.8 339.6,353.4 339.6,346.7 339.7,346.9 339.7,351.6 339.8,350.7 339.8,352.6 339.8,324.9 339.9,352.5 339.9,345.7 339.9,341.7 340.0,349.6 340.0,348.3 340.0,352.4 340.1,347.6 340.1,351.5 340.2,343.1 340.2,349.5 340.2,347.2 340.3,346.5 340.3,344.9 340.3,347.3 340.4,349.9 340.4,340.9 340.5,347.7 340.5,339.0 340.5,347.2 340.6,340.5 340.6,351.3 340.6,353.6 340.7,347.9 340.7,350.2 340.7,347.9 340.8,353.1 340.8,347.8 340.9,345.3 340.9,345.7 340.9,344.4 341.0,352.7 341.0,351.7 341.0,350.2 341.1,354.8 341.1,351.8 341.2,349.4 341.2,345.3 341.2,355.5 341.3,351.4 341.3,352.0 341.3,351.4 341.4,354.6 341.4,353.7 341.4,352.5 341.5,342.5 341.5,347.1 341.6,351.7 341.6,345.8 341.6,345.8 341.7,355.6 341.7,351.4 341.7,348.0 341.8,353.3 341.8,349.2 341.8,352.2 341.9,346.5 341.9,353.0 342.0,342.8 342.0,348.0 342.0,350.8 342.1,355.9 342.1,351.4 342.1,352.2 342.2,351.3 342.2,351.5 342.3,353.8 342.3,350.3 342.3,355.2 342.4,354.0 342.4,351.4 342.4,354.2 342.5,356.2 342.5,345.3 342.5,353.4 342.6,350.4 342.6,355.7 342.7,341.3 342.7,342.7 342.7,339.5 342.8,351.6 342.8,344.7 342.8,348.2 342.9,352.5 342.9,352.2 343.0,349.8 343.0,342.6 343.0,355.1 343.1,346.5 343.1,347.3 343.1,349.2 343.2,351.0 343.2,345.4 343.2,349.2 343.3,347.1 343.3,353.1 343.4,353.7 343.4,351.2 343.4,347.6 343.5,340.1 343.5,353.1 343.5,355.8 343.6,353.0 343.6,353.8 343.7,342.1 343.7,339.4 343.7,353.1 343.8,348.9 343.8,355.3 343.8,354.2 343.9,349.5 343.9,350.0 343.9,346.0 344.0,352.3 344.0,354.5 344.1,346.1 344.1,348.4 344.1,345.1 344.2,339.9 344.2,344.6 344.2,349.8 344.3,344.1 344.3,354.3 344.3,345.2 344.4,343.1 344.4,350.9 344.5,345.0 344.5,351.1 344.5,344.6 344.6,345.3 344.6,346.5 344.6,349.4 344.7,342.4 344.7,343.2 344.8,350.8 344.8,343.7 344.8,343.6 344.9,349.4 344.9,348.5 344.9,339.9 345.0,352.9 345.0,350.7 345.0,347.5 345.1,352.0 345.1,353.1 345.2,350.4 345.2,353.1 345.2,353.8 345.3,343.3 345.3,341.8 345.3,350.1 345.4,352.7 345.4,354.4 345.5,349.0 345.5,355.0 345.5,347.8 345.6,343.8 345.6,342.3 345.6,352.0 345.7,344.9 345.7,354.8 345.7,345.5 345.8,339.7 345.8,353.4 345.9,355.7 345.9,355.9 345.9,349.9 346.0,352.6 346.0,352.1 346.0,345.3 346.1,355.2 346.1,349.0 346.2,348.4 346.2,351.5 346.2,354.6 346.3,343.5 346.3,341.2 346.3,354.8 346.4,343.9 346.4,349.8 346.4,354.0 346.5,348.9 346.5,327.6 346.6,350.5 346.6,345.9 346.6,354.5 346.7,352.4 346.7,355.5 346.7,355.7 346.8,352.4 346.8,347.0 346.8,343.2 346.9,348.4 346.9,351.7 347.0,354.4 347.0,351.6 347.0,343.6 347.1,340.6 347.1,345.3 347.1,348.9 347.2,349.9 347.2,346.6 347.3,350.6 347.3,347.7 347.3,352.0 347.4,348.1 347.4,351.6 347.4,346.4 347.5,351.7 347.5,343.3 347.5,355.0 347.6,349.3 347.6,352.0 347.7,356.4 347.7,355.8 347.7,347.5 347.8,348.1 347.8,353.7 347.8,345.4 347.9,349.6 347.9,348.2 348.0,338.1 348.0,342.4 348.0,339.7 348.1,356.3 348.1,339.2 348.1,353.7 348.2,353.9 348.2,353.0 348.2,352.4 348.3,354.7 348.3,331.6 348.4,352.7 348.4,354.8 348.4,350.1 348.5,342.2 348.5,342.1 348.5,340.8 348.6,340.5 348.6,348.7 348.6,343.6 348.7,344.7 348.7,335.8 348.8,346.6 348.8,349.6 348.8,338.3 348.9,354.1 348.9,337.8 348.9,347.6 349.0,349.5 349.0,350.9 349.1,340.6 349.1,334.1 349.1,344.6 349.2,345.9 349.2,351.0 349.2,341.5 349.3,338.8 349.3,355.7 349.3,355.7 349.4,354.3 349.4,355.0 349.5,350.0 349.5,355.1 349.5,349.4 349.6,356.0 349.6,353.2 349.6,355.6 349.7,355.0 349.7,356.3 349.8,348.3 349.8,348.0 349.8,354.8 349.9,348.5 349.9,350.4 349.9,356.6 350.0,347.0 350.0,331.6 350.0,334.7 350.1,354.0 350.1,353.0 350.2,354.7 350.2,350.4 350.2,348.2 350.3,344.2 350.3,349.8 350.3,355.5 350.4,356.7 350.4,355.7 350.5,356.0 350.5,357.2 350.5,352.2 350.6,351.0 350.6,355.7 350.6,348.5 350.7,332.7 350.7,349.8 350.7,351.3 350.8,346.9 350.8,349.7 350.9,349.1 350.9,346.7 350.9,351.7 351.0,342.7 351.0,352.8 351.0,356.0 351.1,356.3 351.1,354.0 351.1,336.8 351.2,339.6 351.2,348.7 351.3,344.9 351.3,347.9 351.3,353.1 351.4,353.5 351.4,356.9 351.4,351.1 351.5,353.9 351.5,354.1 351.6,356.4 351.6,350.7 351.6,347.7 351.7,354.7 351.7,354.5 351.7,355.6 351.8,352.1 351.8,352.6 351.8,345.8 351.9,353.6 351.9,354.9 352.0,354.6 352.0,354.2 352.0,350.1 352.1,350.4 352.1,356.0 352.1,345.1 352.2,341.1 352.2,352.9 352.3,355.2 352.3,350.9 352.3,354.8 352.4,353.3 352.4,353.0 352.4,351.4 352.5,351.9 352.5,357.1 352.5,338.9 352.6,356.3 352.6,344.6 352.7,350.5 352.7,345.8 352.7,350.4 352.8,343.5 352.8,356.2 352.8,347.0 352.9,353.2 352.9,353.0 352.9,353.8 353.0,343.2 353.0,347.2 353.1,351.7 353.1,348.5 353.1,345.5 353.2,354.3 353.2,356.8 353.2,345.1 353.3,348.8 353.3,355.1 353.4,345.4 353.4,355.0 353.4,356.9 353.5,343.9 353.5,349.3 353.5,339.9 353.6,351.4 353.6,345.5 353.6,353.8 353.7,351.4 353.7,352.0 353.8,341.6 353.8,352.3 353.8,353.7 353.9,350.3 353.9,351.9 353.9,344.1 354.0,352.5 354.0,351.4 354.1,354.1 354.1,343.8 354.1,343.7 354.2,344.7 354.2,347.8 354.2,345.3 354.3,351.4 354.3,355.2 354.3,355.9 354.4,347.7 354.4,343.7 354.5,343.5 354.5,349.3 354.5,339.5 354.6,344.7 354.6,344.9 354.6,338.0 354.7,334.2 354.7,346.2 354.8,353.9 354.8,350.2 354.8,347.8 354.9,343.6 354.9,351.6 354.9,347.6 355.0,343.9 355.0,351.0 355.0,348.2 355.1,352.4 355.1,350.3 355.2,349.9 355.2,344.0 355.2,345.6 355.3,348.1 355.3,342.2 355.3,350.7 355.4,352.1 355.4,342.4 355.4,348.8 355.5,348.0 355.5,348.9 355.6,352.9 355.6,341.6 355.6,352.1 355.7,321.4 355.7,352.9 355.7,353.2 355.8,347.7 355.8,348.9 355.9,352.6 355.9,348.2 355.9,350.2 356.0,353.3 356.0,351.3 356.0,343.6 356.1,347.4 356.1,352.1 356.1,347.8 356.2,335.8 356.2,350.7 356.3,352.7 356.3,337.6 356.3,345.5 356.4,349.9 356.4,355.1 356.4,340.5 356.5,348.1 356.5,346.0 356.6,336.4 356.6,351.7 356.6,346.9 356.7,345.4 356.7,345.6 356.7,351.7 356.8,352.2 356.8,350.2 356.8,346.4 356.9,353.5 356.9,345.3 357.0,351.8 357.0,347.1 357.0,353.6 357.1,355.4 357.1,347.5 357.1,348.6 357.2,355.9 357.2,346.7 357.3,348.6 357.3,352.8 357.3,350.1 357.4,353.4 357.4,349.5 357.4,349.8 357.5,346.1 357.5,350.1 357.5,355.1 357.6,356.1 357.6,345.6 357.7,348.9 357.7,349.0 357.7,349.9 357.8,356.3 357.8,343.9 357.8,356.6 357.9,353.6 357.9,347.7 357.9,356.3 358.0,353.9 358.0,353.9 358.1,345.4 358.1,336.0 358.1,353.1 358.2,354.0 358.2,354.5 358.2,345.1 358.3,351.5 358.3,355.9 358.4,342.0 358.4,339.4 358.4,344.4 358.5,355.0 358.5,354.1 358.5,352.4 358.6,353.6 358.6,351.9 358.6,356.4 358.7,349.6 358.7,353.2 358.8,350.6 358.8,346.4 358.8,346.8 358.9,345.9 358.9,356.9 358.9,353.0 359.0,343.1 359.0,347.0 359.1,346.6 359.1,338.7 359.1,349.7 359.2,354.0 359.2,355.4 359.2,323.1 359.3,348.4 359.3,355.3 359.3,355.1 359.4,346.9 359.4,347.9 359.5,347.5 359.5,353.2 359.5,351.4 359.6,352.3 359.6,346.2 359.6,349.5 359.7,343.3 359.7,354.5 359.7,345.4 359.8,347.6 359.8,346.6 359.9,350.8 359.9,352.1 359.9,348.1 360.0,352.9 360.0,352.8 360.0,347.9 360.1,345.6 360.1,352.3 360.2,345.6 360.2,323.9 360.2,346.2 360.3,350.1 360.3,348.2 360.3,341.5 360.4,346.4 360.4,347.4 360.4,342.5 360.5,343.6 360.5,351.9 360.6,348.4 360.6,345.1 360.6,348.1 360.7,352.1 360.7,349.2 360.7,346.2 360.8,346.2 360.8,350.1 360.9,345.9 360.9,343.3 360.9,350.5 361.0,351.6 361.0,343.5 361.0,350.8 361.1,351.6 361.1,347.5 361.1,348.1 361.2,351.8 361.2,353.9 361.3,341.5 361.3,348.3 361.3,345.9 361.4,346.0 361.4,354.8 361.4,347.0 361.5,351.5 361.5,345.9 361.6,345.5 361.6,353.1 361.6,347.8 361.7,350.2 361.7,346.9 361.7,347.6 361.8,352.8 361.8,341.9 361.8,353.7 361.9,335.9 361.9,341.6 362.0,352.0 362.0,352.3 362.0,342.2 362.1,345.5 362.1,346.0 362.1,336.0 362.2,345.2 362.2,349.6 362.2,350.6 362.3,349.0 362.3,348.9 362.4,349.1 362.4,347.7 362.4,350.8 362.5,352.1 362.5,346.4 362.5,356.3 362.6,339.1 362.6,345.7 362.7,357.1 362.7,347.0 362.7,357.0 362.8,355.0 362.8,357.0 362.8,338.0 362.9,342.2 362.9,349.9 362.9,347.2 363.0,340.1 363.0,347.4 363.1,355.1 363.1,354.5 363.1,351.5 363.2,352.0 363.2,356.7 363.2,346.1 363.3,351.9 363.3,353.0 363.4,355.8 363.4,356.1 363.4,356.7 363.5,353.8 363.5,352.3 363.5,355.8 363.6,352.4 363.6,350.9 363.6,355.6 363.7,349.6 363.7,348.9 363.8,338.9 363.8,354.5 363.8,345.0 363.9,349.8 363.9,347.5 363.9,349.3 364.0,332.4 364.0,340.4 364.1,338.2 364.1,354.8 364.1,354.8 364.2,353.7 364.2,351.8 364.2,348.9 364.3,353.2 364.3,346.9 364.3,351.2 364.4,352.0 364.4,348.3 364.5,350.1 364.5,352.7 364.5,335.7 364.6,340.7 364.6,344.0 364.6,342.9 364.7,338.2 364.7,337.9 364.7,351.1 364.8,352.5 364.8,351.4 364.9,342.9 364.9,324.7 364.9,352.3 365.0,350.9 365.0,348.8 365.0,356.5 365.1,337.7 365.1,339.3 365.2,337.9 365.2,340.6 365.2,347.2 365.3,350.3 365.3,345.6 365.3,348.3 365.4,354.7 365.4,341.7 365.4,351.1 365.5,347.0 365.5,348.9 365.6,352.0 365.6,349.2 365.6,351.8 365.7,353.5 365.7,346.7 365.7,354.7 365.8,347.3 365.8,351.1 365.9,352.9 365.9,349.8 365.9,354.0 366.0,347.3 366.0,345.6 366.0,350.8 366.1,350.0 366.1,343.3 366.1,346.4 366.2,344.3 366.2,342.6 366.3,350.1 366.3,343.7 366.3,352.6 366.4,338.6 366.4,324.9 366.4,340.3 366.5,349.3 366.5,352.0 366.5,318.4 366.6,350.1 366.6,343.8 366.7,349.7 366.7,350.1 366.7,341.4 366.8,352.1 366.8,347.2 366.8,352.5 366.9,346.2 366.9,349.2 367.0,347.3 367.0,347.4 367.0,347.0 367.1,345.2 367.1,344.9 367.1,336.0 367.2,340.0 367.2,340.8 367.2,330.7 367.3,350.5 367.3,346.8 367.4,345.5 367.4,348.1 367.4,351.4 367.5,349.8 367.5,347.8 367.5,350.2 367.6,350.6 367.6,350.5 367.7,332.4 367.7,335.0 367.7,350.9 367.8,350.3 367.8,340.5 367.8,340.9 367.9,340.4 367.9,348.3 367.9,343.3 368.0,340.0 368.0,343.9 368.1,346.2 368.1,344.3 368.1,346.6 368.2,340.4 368.2,347.2 368.2,348.6 368.3,345.1 368.3,342.4 368.4,349.8 368.4,341.6 368.4,345.3 368.5,346.2 368.5,342.3 368.5,347.9 368.6,351.2 368.6,347.6 368.6,347.3 368.7,337.3 368.7,342.9 368.8,349.1 368.8,345.4 368.8,353.7 368.9,343.1 368.9,345.5 368.9,349.2 369.0,345.5 369.0,343.5 369.0,346.4 369.1,342.9 369.1,344.6 369.2,352.2 369.2,341.1 369.2,348.5 369.3,347.7 369.3,346.0 369.3,339.6 369.4,336.4 369.4,350.2 369.5,339.6 369.5,346.3 369.5,343.8 369.6,346.4 369.6,353.3 369.6,344.2 369.7,334.4 369.7,340.8 369.7,345.2 369.8,339.8 369.8,346.0 369.9,349.0 369.9,347.6 369.9,344.5 370.0,346.5 370.0,347.7 370.0,336.3 370.1,339.9 370.1,348.6 370.2,343.8 370.2,341.8 370.2,338.1 370.3,348.5 370.3,351.6 370.3,347.3 370.4,348.5 370.4,346.1 370.4,349.2 370.5,345.2 370.5,346.0 370.6,348.3 370.6,347.0 370.6,350.2 370.7,348.3 370.7,344.6 370.7,351.2 370.8,343.9 370.8,350.1 370.9,332.1 370.9,349.1 370.9,344.8 371.0,331.5 371.0,336.2 371.0,320.1 371.1,342.7 371.1,345.3 371.1,344.5 371.2,349.0 371.2,325.7 371.3,349.6 371.3,348.1 371.3,343.1 371.4,346.9 371.4,347.1 371.4,343.9 371.5,329.1 371.5,350.3 371.5,346.1 371.6,347.1 371.6,332.5 371.7,330.0 371.7,328.3 371.7,335.2 371.8,341.8 371.8,345.2 371.8,347.8 371.9,345.4 371.9,348.9 372.0,345.5 372.0,346.3 372.0,341.9 372.1,351.4 372.1,331.3 372.1,343.9 372.2,345.4 372.2,343.9 372.2,345.4 372.3,349.4 372.3,348.2 372.4,346.9 372.4,341.2 372.4,348.9 372.5,342.6 372.5,351.8 372.5,347.2 372.6,343.0 372.6,346.5 372.7,341.9 372.7,349.7 372.7,345.5 372.8,341.6 372.8,343.1 372.8,348.1 372.9,347.1 372.9,345.0 372.9,347.6 373.0,351.3 373.0,331.3 373.1,351.2 373.1,351.1 373.1,349.8 373.2,349.0 373.2,336.0 373.2,346.9 373.3,348.8 373.3,351.6 373.3,345.4 373.4,351.8 373.4,349.9 373.5,344.5 373.5,351.2 373.5,345.1 373.6,332.1 373.6,341.1 373.6,345.9 373.7,341.2 373.7,351.3 373.8,339.9 373.8,345.3 373.8,350.1 373.9,346.8 373.9,349.6 373.9,352.2 374.0,344.5 374.0,339.0 374.0,343.5 374.1,348.0 374.1,351.3 374.2,344.5 374.2,344.6 374.2,346.5 374.3,345.0 374.3,337.6 374.3,345.6 374.4,345.7 374.4,350.9 374.5,347.4 374.5,337.3 374.5,330.8 374.6,345.5 374.6,341.4 374.6,347.8 374.7,350.2 374.7,347.7 374.7,335.2 374.8,343.9 374.8,350.2 374.9,347.7 374.9,348.7 374.9,349.9 375.0,334.9 375.0,343.6 375.0,345.1 375.1,337.4 375.1,350.3 375.2,330.3 375.2,346.4 375.2,348.6 375.3,349.5 375.3,348.7 375.3,345.5 375.4,343.7 375.4,343.0 375.4,353.8 375.5,349.0 375.5,351.5 375.6,347.1 375.6,344.9 375.6,343.1 375.7,345.9 375.7,339.2 375.7,332.4 375.8,349.3 375.8,344.3 375.8,345.4 375.9,341.4 375.9,344.9 376.0,345.5 376.0,336.1 376.0,349.7 376.1,347.4 376.1,336.5 376.1,349.8 376.2,337.7 376.2,344.5 376.3,346.5 376.3,343.5 376.3,330.2 376.4,336.2 376.4,331.2 376.4,342.8 376.5,343.0 376.5,341.9 376.5,344.6 376.6,351.8 376.6,351.0 376.7,348.1 376.7,336.6 376.7,341.9 376.8,344.8 376.8,349.3 376.8,351.6 376.9,344.7 376.9,348.8 377.0,344.6 377.0,338.4 377.0,352.3 377.1,348.3 377.1,343.1 377.1,336.9 377.2,352.8 377.2,343.1 377.2,347.2 377.3,354.4 377.3,350.1 377.4,351.2 377.4,350.6 377.4,351.4 377.5,344.9 377.5,351.8 377.5,350.3 377.6,350.4 377.6,351.7 377.7,343.7 377.7,352.1 377.7,349.4 377.8,337.5 377.8,335.4 377.8,350.5 377.9,345.2 377.9,353.1 377.9,346.4 378.0,316.8 378.0,351.8 378.1,338.0 378.1,348.9 378.1,325.0 378.2,339.6 378.2,340.8 378.2,346.2 378.3,348.0 378.3,355.1 378.3,350.5 378.4,354.4 378.4,343.4 378.5,355.4 378.5,353.6 378.5,340.3 378.6,345.6 378.6,344.6 378.6,352.5 378.7,356.0 378.7,344.7 378.8,354.6 378.8,355.1 378.8,348.9 378.9,347.9 378.9,342.8 378.9,349.9 379.0,355.3 379.0,353.0 379.0,346.9 379.1,352.4 379.1,349.3 379.2,355.8 379.2,356.5 379.2,343.1 379.3,354.3 379.3,353.9 379.3,345.5 379.4,349.9 379.4,353.3 379.5,339.8 379.5,343.3 379.5,348.5 379.6,357.0 379.6,355.7 379.6,356.1 379.7,356.7 379.7,349.2 379.7,354.3 379.8,348.0 379.8,350.9 379.9,349.4 379.9,355.0 379.9,354.6 380.0,352.5 380.0,355.9 380.0,351.6 380.1,354.2 380.1,351.6 380.1,330.6 380.2,351.4 380.2,356.0 380.3,345.1 380.3,351.7 380.3,355.3 380.4,351.1 380.4,354.7 380.4,338.5 380.5,313.0 380.5,353.1 380.6,338.4 380.6,343.0 380.6,343.6 380.7,348.8 380.7,353.2 380.7,352.6 380.8,352.5 380.8,342.0 380.8,341.7 380.9,351.0 380.9,350.1 381.0,348.2 381.0,342.1 381.0,342.4 381.1,349.1 381.1,346.2 381.1,346.9 381.2,348.8 381.2,340.1 381.3,345.6 381.3,352.2 381.3,353.6 381.4,345.9 381.4,343.3 381.4,353.1 381.5,352.6 381.5,346.6 381.5,346.0 381.6,344.0 381.6,342.3 381.7,351.6 381.7,351.7 381.7,356.5 381.8,352.0 381.8,349.5 381.8,345.9 381.9,351.7 381.9,352.8 382.0,355.0 382.0,351.1 382.0,344.6 382.1,348.8 382.1,352.7 382.1,350.6 382.2,354.1 382.2,353.9 382.2,354.2 382.3,357.0 382.3,346.5 382.4,353.8 382.4,354.2 382.4,352.4 382.5,349.2 382.5,348.2 382.5,348.4 382.6,338.1 382.6,356.5 382.6,353.3 382.7,356.8 382.7,349.5 382.8,348.8 382.8,344.0 382.8,354.4 382.9,349.7 382.9,355.7 382.9,352.2 383.0,355.4 383.0,355.4 383.1,353.0 383.1,347.8 383.1,353.8 383.2,354.9 383.2,351.3 383.2,345.5 383.3,352.9 383.3,351.2 383.3,351.3 383.4,351.7 383.4,346.9 383.5,338.5 383.5,346.5 383.5,352.8 383.6,345.6 383.6,342.6 383.6,344.5 383.7,343.9 383.7,354.8 383.8,344.4 383.8,348.6 383.8,356.0 383.9,353.6 383.9,355.2 383.9,352.9 384.0,354.0 384.0,353.1 384.0,346.7 384.1,351.5 384.1,356.1 384.2,357.2 384.2,348.5 384.2,356.1 384.3,346.4 384.3,347.4 384.3,344.2 384.4,337.3 384.4,350.7 384.4,346.5 384.5,351.5 384.5,356.9 384.6,352.0 384.6,351.4 384.6,351.3 384.7,356.9 384.7,351.7 384.7,347.5 384.8,352.5 384.8,351.5 384.9,350.3 384.9,350.7 384.9,335.2 385.0,342.9 385.0,355.2 385.0,355.0 385.1,347.0 385.1,350.0 385.1,347.3 385.2,347.2 385.2,347.6 385.3,346.8 385.3,339.0 385.3,344.2 385.4,353.2 385.4,345.8 385.4,346.3 385.5,350.1 385.5,349.0 385.6,344.4 385.6,340.7 385.6,346.6 385.7,349.2 385.7,354.1 385.7,348.6 385.8,349.3 385.8,354.4 385.8,346.4 385.9,336.4 385.9,338.8 386.0,351.7 386.0,351.8 386.0,351.9 386.1,348.7 386.1,342.9 386.1,336.2 386.2,346.5 386.2,316.6 386.3,349.0 386.3,342.0 386.3,352.9 386.4,348.0 386.4,344.2 386.4,341.3 386.5,339.2 386.5,351.5 386.5,350.4 386.6,349.8 386.6,348.5 386.7,344.0 386.7,344.1 386.7,341.2 386.8,346.7 386.8,352.4 386.8,354.2 386.9,344.2 386.9,335.3 386.9,344.7 387.0,350.7 387.0,347.0 387.1,347.7 387.1,352.0 387.1,351.0 387.2,349.0 387.2,347.6 387.2,354.9 387.3,354.7 387.3,352.4 387.4,344.8 387.4,356.3 387.4,355.1 387.5,355.8 387.5,344.4 387.5,354.8 387.6,354.7 387.6,352.8 387.6,352.5 387.7,351.6 387.7,344.9 387.8,324.2 387.8,352.2 387.8,347.0 387.9,352.6 387.9,345.8 387.9,337.5 388.0,352.3 388.0,355.7 388.1,353.9 388.1,353.8 388.1,345.0 388.2,352.0 388.2,356.1 388.2,348.9 388.3,350.0 388.3,349.7 388.3,353.1 388.4,353.7 388.4,350.0 388.5,355.6 388.5,346.3 388.5,344.3 388.6,329.4 388.6,352.0 388.6,354.4 388.7,353.8 388.7,355.5 388.8,351.3 388.8,352.4 388.8,348.2 388.9,353.9 388.9,344.9 388.9,350.6 389.0,354.2 389.0,353.6 389.0,350.0 389.1,346.8 389.1,353.6 389.2,351.4 389.2,346.0 389.2,338.4 389.3,349.9 389.3,353.9 389.3,350.7 389.4,352.5 389.4,345.9 389.4,345.4 389.5,355.6 389.5,341.2 389.6,350.2 389.6,354.8 389.6,354.6 389.7,351.6 389.7,338.1 389.7,351.8 389.8,351.8 389.8,352.2 389.9,353.0 389.9,355.7 389.9,354.7 390.0,349.4 390.0,354.6 390.0,352.8 390.1,352.5 390.1,355.9 390.1,354.3 390.2,342.7 390.2,357.1 390.3,357.2 390.3,354.5 390.3,353.9 390.4,353.8 390.4,353.5 390.4,351.2 390.5,347.6 390.5,352.0 390.6,357.3 390.6,356.4 390.6,355.7 390.7,354.6 390.7,348.4 390.7,353.0 390.8,356.1 390.8,346.2 390.8,348.9 390.9,347.6 390.9,356.0 391.0,349.3 391.0,349.9 391.0,356.8 391.1,347.4 391.1,351.0 391.1,354.0 391.2,353.0 391.2,347.3 391.2,355.6 391.3,340.3 391.3,349.9 391.4,345.8 391.4,350.7 391.4,356.7 391.5,345.3 391.5,355.7 391.5,345.4 391.6,340.2 391.6,354.6 391.7,354.9 391.7,352.7 391.7,346.2 391.8,345.6 391.8,356.3 391.8,354.0 391.9,354.0 391.9,353.1 391.9,356.2 392.0,356.4 392.0,351.4 392.1,342.1 392.1,349.6 392.1,338.1 392.2,341.6 392.2,318.7 392.2,356.4 392.3,353.9 392.3,356.2 392.4,356.9 392.4,322.1 392.4,344.2 392.5,334.0 392.5,343.5 392.5,350.9 392.6,356.5 392.6,349.4 392.6,356.4 392.7,357.1 392.7,352.2 392.8,347.1 392.8,335.3 392.8,347.2 392.9,350.8 392.9,356.5 392.9,352.8 393.0,349.0 393.0,346.7 393.1,347.1 393.1,349.7 393.1,353.3 393.2,347.5 393.2,349.5 393.2,352.7 393.3,349.6 393.3,349.0 393.3,352.7 393.4,354.5 393.4,347.6 393.5,349.8 393.5,344.0 393.5,354.2 393.6,348.3 393.6,355.6 393.6,355.1 393.7,345.4 393.7,350.3 393.7,351.9 393.8,354.0 393.8,353.5 393.9,355.1 393.9,342.9 393.9,344.5 394.0,354.4 394.0,353.6 394.0,356.5 394.1,355.6 394.1,351.5 394.2,353.6 394.2,354.7 394.2,354.9 394.3,348.7 394.3,354.9 394.3,349.6 394.4,350.6 394.4,353.7 394.4,351.7 394.5,341.9 394.5,341.4 394.6,332.4 394.6,348.9 394.6,352.3 394.7,353.1 394.7,336.2 394.7,347.1 394.8,347.5 394.8,348.6 394.9,352.3 394.9,348.5 394.9,352.3 395.0,344.7 395.0,345.4 395.0,346.9 395.1,353.8 395.1,346.0 395.1,351.9 395.2,354.6 395.2,355.7 395.3,347.8 395.3,352.3 395.3,355.6 395.4,355.1 395.4,349.3 395.4,350.7 395.5,355.2 395.5,351.3 395.6,354.3 395.6,351.9 395.6,349.4 395.7,348.8 395.7,355.6 395.7,355.2 395.8,354.3 395.8,353.8 395.8,343.3 395.9,348.5 395.9,334.4 396.0,354.8 396.0,349.3 396.0,350.0 396.1,341.8 396.1,356.6 396.1,352.6 396.2,343.6 396.2,345.9 396.2,351.9 396.3,343.0 396.3,351.4 396.4,344.8 396.4,352.3 396.4,356.3 396.5,352.6 396.5,354.2 396.5,354.6 396.6,354.0 396.6,353.4 396.7,355.2 396.7,354.0 396.7,353.9 396.8,349.7 396.8,353.6"/>
</g>
<line x1="27.5" y1="153.3" x2="29.5" y2="153.3" stroke="#404040" stroke-width="1"/>
<text transform="translate(26.20,156.10) scale(0.87,1)" font-size="7.7" text-anchor="end" fill="#1a1a1a" stroke="#1a1a1a" stroke-width="0.22">0.0</text>
<line x1="27.5" y1="129.4" x2="29.5" y2="129.4" stroke="#404040" stroke-width="1"/>
<text transform="translate(26.20,132.22) scale(0.87,1)" font-size="7.7" text-anchor="end" fill="#1a1a1a" stroke="#1a1a1a" stroke-width="0.22">0.5</text>
<line x1="27.5" y1="105.5" x2="29.5" y2="105.5" stroke="#404040" stroke-width="1"/>
<text transform="translate(26.20,108.33) scale(0.87,1)" font-size="7.7" text-anchor="end" fill="#1a1a1a" stroke="#1a1a1a" stroke-width="0.22">1.0</text>
<line x1="27.5" y1="81.6" x2="29.5" y2="81.6" stroke="#404040" stroke-width="1"/>
<text transform="translate(26.20,84.45) scale(0.87,1)" font-size="7.7" text-anchor="end" fill="#1a1a1a" stroke="#1a1a1a" stroke-width="0.22">1.5</text>
<line x1="27.5" y1="57.8" x2="29.5" y2="57.8" stroke="#404040" stroke-width="1"/>
<text transform="translate(26.20,60.56) scale(0.87,1)" font-size="7.7" text-anchor="end" fill="#1a1a1a" stroke="#1a1a1a" stroke-width="0.22">2.0</text>
<line x1="27.5" y1="33.9" x2="29.5" y2="33.9" stroke="#404040" stroke-width="1"/>
<text transform="translate(26.20,36.67) scale(0.87,1)" font-size="7.7" text-anchor="end" fill="#1a1a1a" stroke="#1a1a1a" stroke-width="0.22">2.5</text>
<line x1="27.5" y1="10.0" x2="29.5" y2="10.0" stroke="#404040" stroke-width="1"/>
<text transform="translate(26.20,12.79) scale(0.87,1)" font-size="7.7" text-anchor="end" fill="#1a1a1a" stroke="#1a1a1a" stroke-width="0.22">3.0</text>
<line x1="29.5" y1="165.4" x2="29.5" y2="167.4" stroke="#404040" stroke-width="1"/>
<text transform="translate(29.80,174.30) scale(1.0,1)" font-size="7.2" text-anchor="middle" fill="#1a1a1a" stroke="#1a1a1a" stroke-width="0.22">0</text>
<line x1="73.5" y1="165.4" x2="73.5" y2="167.4" stroke="#404040" stroke-width="1"/>
<text transform="translate(73.82,174.30) scale(1.0,1)" font-size="7.2" text-anchor="middle" fill="#1a1a1a" stroke="#1a1a1a" stroke-width="0.22">10</text>
<line x1="117.5" y1="165.4" x2="117.5" y2="167.4" stroke="#404040" stroke-width="1"/>
<text transform="translate(117.84,174.30) scale(1.0,1)" font-size="7.2" text-anchor="middle" fill="#1a1a1a" stroke="#1a1a1a" stroke-width="0.22">20</text>
<line x1="161.6" y1="165.4" x2="161.6" y2="167.4" stroke="#404040" stroke-width="1"/>
<text transform="translate(161.86,174.30) scale(1.0,1)" font-size="7.2" text-anchor="middle" fill="#1a1a1a" stroke="#1a1a1a" stroke-width="0.22">30</text>
<line x1="205.6" y1="165.4" x2="205.6" y2="167.4" stroke="#404040" stroke-width="1"/>
<text transform="translate(205.88,174.30) scale(1.0,1)" font-size="7.2" text-anchor="middle" fill="#1a1a1a" stroke="#1a1a1a" stroke-width="0.22">40</text>
<line x1="249.6" y1="165.4" x2="249.6" y2="167.4" stroke="#404040" stroke-width="1"/>
<text transform="translate(249.90,174.30) scale(1.0,1)" font-size="7.2" text-anchor="middle" fill="#1a1a1a" stroke="#1a1a1a" stroke-width="0.22">50</text>
<line x1="28.3" y1="141.4" x2="29.5" y2="141.4" stroke="#404040" stroke-width="1"/>
<line x1="28.3" y1="117.5" x2="29.5" y2="117.5" stroke="#404040" stroke-width="1"/>
<line x1="28.3" y1="93.6" x2="29.5" y2="93.6" stroke="#404040" stroke-width="1"/>
<line x1="28.3" y1="69.7" x2="29.5" y2="69.7" stroke="#404040" stroke-width="1"/>
<line x1="28.3" y1="45.8" x2="29.5" y2="45.8" stroke="#404040" stroke-width="1"/>
<line x1="28.3" y1="21.9" x2="29.5" y2="21.9" stroke="#404040" stroke-width="1"/>
<line x1="51.5" y1="165.4" x2="51.5" y2="166.6" stroke="#404040" stroke-width="1"/>
<line x1="95.5" y1="165.4" x2="95.5" y2="166.6" stroke="#404040" stroke-width="1"/>
<line x1="139.6" y1="165.4" x2="139.6" y2="166.6" stroke="#404040" stroke-width="1"/>
<line x1="183.6" y1="165.4" x2="183.6" y2="166.6" stroke="#404040" stroke-width="1"/>
<line x1="227.6" y1="165.4" x2="227.6" y2="166.6" stroke="#404040" stroke-width="1"/>
<text x="139.6" y="186.1" font-size="8.3" text-anchor="middle" fill="#1a1a1a" stroke="#1a1a1a" stroke-width="0.22" >Time (ns)</text>
<text x="0.0" y="0.0" font-size="8.3" text-anchor="middle" fill="#1a1a1a" stroke="#1a1a1a" stroke-width="0.22" transform="translate(13.3,86.7) rotate(-90)">RMSD (Å)</text>
<text x="241.6" y="26.6" font-size="10" text-anchor="middle" fill="#1a1a1a" stroke="#1a1a1a" stroke-width="0.22" >A</text>
<line x1="30.8" y1="16.3" x2="49" y2="16.3" stroke="#4646ff" stroke-width="1.3"/>
<line x1="30.8" y1="25.8" x2="49" y2="25.8" stroke="#ff4646" stroke-width="1.3"/>
<text x="51.3" y="19.0" font-size="8.0" text-anchor="start" fill="#1a1a1a" stroke="#1a1a1a" stroke-width="0.22" >COX-2/PC2</text>
<text x="51.3" y="29.1" font-size="8.0" text-anchor="start" fill="#1a1a1a" stroke="#1a1a1a" stroke-width="0.22" >COX-2/PC4</text>
<line x1="321.2" y1="165.4" x2="323.2" y2="165.4" stroke="#404040" stroke-width="1"/>
<text transform="translate(319.60,168.20) scale(0.87,1)" font-size="7.7" text-anchor="end" fill="#1a1a1a" stroke="#1a1a1a" stroke-width="0.22">0.0</text>
<line x1="321.2" y1="143.1" x2="323.2" y2="143.1" stroke="#404040" stroke-width="1"/>
<text transform="translate(319.60,145.90) scale(0.87,1)" font-size="7.7" text-anchor="end" fill="#1a1a1a" stroke="#1a1a1a" stroke-width="0.22">0.5</text>
<line x1="321.2" y1="120.8" x2="323.2" y2="120.8" stroke="#404040" stroke-width="1"/>
<text transform="translate(319.60,123.60) scale(0.87,1)" font-size="7.7" text-anchor="end" fill="#1a1a1a" stroke="#1a1a1a" stroke-width="0.22">1.0</text>
<line x1="321.2" y1="98.5" x2="323.2" y2="98.5" stroke="#404040" stroke-width="1"/>
<text transform="translate(319.60,101.30) scale(0.87,1)" font-size="7.7" text-anchor="end" fill="#1a1a1a" stroke="#1a1a1a" stroke-width="0.22">1.5</text>
<line x1="321.2" y1="76.2" x2="323.2" y2="76.2" stroke="#404040" stroke-width="1"/>
<text transform="translate(319.60,79.00) scale(0.87,1)" font-size="7.7" text-anchor="end" fill="#1a1a1a" stroke="#1a1a1a" stroke-width="0.22">2.0</text>
<line x1="321.2" y1="53.9" x2="323.2" y2="53.9" stroke="#404040" stroke-width="1"/>
<text transform="translate(319.60,56.70) scale(0.87,1)" font-size="7.7" text-anchor="end" fill="#1a1a1a" stroke="#1a1a1a" stroke-width="0.22">2.5</text>
<line x1="321.2" y1="31.6" x2="323.2" y2="31.6" stroke="#404040" stroke-width="1"/>
<text transform="translate(319.60,34.40) scale(0.87,1)" font-size="7.7" text-anchor="end" fill="#1a1a1a" stroke="#1a1a1a" stroke-width="0.22">3.0</text>
<line x1="321.2" y1="9.3" x2="323.2" y2="9.3" stroke="#404040" stroke-width="1"/>
<text transform="translate(319.60,12.10) scale(0.87,1)" font-size="7.7" text-anchor="end" fill="#1a1a1a" stroke="#1a1a1a" stroke-width="0.22">3.5</text>
<line x1="322.0" y1="154.2" x2="323.2" y2="154.2" stroke="#404040" stroke-width="1"/>
<line x1="322.0" y1="131.9" x2="323.2" y2="131.9" stroke="#404040" stroke-width="1"/>
<line x1="322.0" y1="109.7" x2="323.2" y2="109.7" stroke="#404040" stroke-width="1"/>
<line x1="322.0" y1="87.4" x2="323.2" y2="87.4" stroke="#404040" stroke-width="1"/>
<line x1="322.0" y1="65.0" x2="323.2" y2="65.0" stroke="#404040" stroke-width="1"/>
<line x1="322.0" y1="42.8" x2="323.2" y2="42.8" stroke="#404040" stroke-width="1"/>
<line x1="322.0" y1="20.4" x2="323.2" y2="20.4" stroke="#404040" stroke-width="1"/>
<line x1="363.1" y1="165.4" x2="363.1" y2="167.4" stroke="#404040" stroke-width="1"/>
<text transform="translate(363.13,174.20) scale(1.0,1)" font-size="7.1" text-anchor="middle" fill="#1a1a1a" stroke="#1a1a1a" stroke-width="0.22">100</text>
<line x1="403.1" y1="165.4" x2="403.1" y2="167.4" stroke="#404040" stroke-width="1"/>
<text transform="translate(403.06,174.20) scale(1.0,1)" font-size="7.1" text-anchor="middle" fill="#1a1a1a" stroke="#1a1a1a" stroke-width="0.22">200</text>
<line x1="443.0" y1="165.4" x2="443.0" y2="167.4" stroke="#404040" stroke-width="1"/>
<text transform="translate(442.99,174.20) scale(1.0,1)" font-size="7.1" text-anchor="middle" fill="#1a1a1a" stroke="#1a1a1a" stroke-width="0.22">300</text>
<line x1="482.9" y1="165.4" x2="482.9" y2="167.4" stroke="#404040" stroke-width="1"/>
<text transform="translate(482.92,174.20) scale(1.0,1)" font-size="7.1" text-anchor="middle" fill="#1a1a1a" stroke="#1a1a1a" stroke-width="0.22">400</text>
<line x1="522.9" y1="165.4" x2="522.9" y2="167.4" stroke="#404040" stroke-width="1"/>
<text transform="translate(522.85,174.20) scale(1.0,1)" font-size="7.1" text-anchor="middle" fill="#1a1a1a" stroke="#1a1a1a" stroke-width="0.22">500</text>
<line x1="343.2" y1="165.4" x2="343.2" y2="166.6" stroke="#404040" stroke-width="1"/>
<line x1="383.1" y1="165.4" x2="383.1" y2="166.6" stroke="#404040" stroke-width="1"/>
<line x1="423.0" y1="165.4" x2="423.0" y2="166.6" stroke="#404040" stroke-width="1"/>
<line x1="463.0" y1="165.4" x2="463.0" y2="166.6" stroke="#404040" stroke-width="1"/>
<line x1="502.9" y1="165.4" x2="502.9" y2="166.6" stroke="#404040" stroke-width="1"/>
<line x1="542.8" y1="165.4" x2="542.8" y2="166.6" stroke="#404040" stroke-width="1"/>
<text x="433.2" y="186.1" font-size="8.3" text-anchor="middle" fill="#1a1a1a" stroke="#1a1a1a" stroke-width="0.22" >Residue</text>
<text x="0.0" y="0.0" font-size="8.4" text-anchor="middle" fill="#1a1a1a" stroke="#1a1a1a" stroke-width="0.22" transform="translate(307.2,88.7) rotate(-90)">RMSF (Å)</text>
<text x="534.2" y="25.2" font-size="10" text-anchor="middle" fill="#1a1a1a" stroke="#1a1a1a" stroke-width="0.22" >B</text>
<line x1="368.6" y1="16.7" x2="387.3" y2="16.7" stroke="#4646ff" stroke-width="1.3"/>
<line x1="441.3" y1="16.8" x2="458.6" y2="16.8" stroke="#ff4646" stroke-width="1.3"/>
<text x="391.6" y="19.5" font-size="8.0" text-anchor="start" fill="#1a1a1a" stroke="#1a1a1a" stroke-width="0.22" >COX-2/PC2</text>
<text x="461.8" y="19.5" font-size="8.0" text-anchor="start" fill="#1a1a1a" stroke="#1a1a1a" stroke-width="0.22" >COX-2/PC4</text>
<line x1="174.3" y1="367.6" x2="176.3" y2="367.6" stroke="#404040" stroke-width="1"/>
<text transform="translate(173.10,370.40) scale(0.87,1)" font-size="7.7" text-anchor="end" fill="#1a1a1a" stroke="#1a1a1a" stroke-width="0.22">2</text>
<line x1="174.3" y1="349.4" x2="176.3" y2="349.4" stroke="#404040" stroke-width="1"/>
<text transform="translate(173.10,352.20) scale(0.87,1)" font-size="7.7" text-anchor="end" fill="#1a1a1a" stroke="#1a1a1a" stroke-width="0.22">3</text>
<line x1="174.3" y1="331.2" x2="176.3" y2="331.2" stroke="#404040" stroke-width="1"/>
<text transform="translate(173.10,334.00) scale(0.87,1)" font-size="7.7" text-anchor="end" fill="#1a1a1a" stroke="#1a1a1a" stroke-width="0.22">4</text>
<line x1="174.3" y1="313.0" x2="176.3" y2="313.0" stroke="#404040" stroke-width="1"/>
<text transform="translate(173.10,315.80) scale(0.87,1)" font-size="7.7" text-anchor="end" fill="#1a1a1a" stroke="#1a1a1a" stroke-width="0.22">5</text>
<line x1="174.3" y1="294.8" x2="176.3" y2="294.8" stroke="#404040" stroke-width="1"/>
<text transform="translate(173.10,297.60) scale(0.87,1)" font-size="7.7" text-anchor="end" fill="#1a1a1a" stroke="#1a1a1a" stroke-width="0.22">6</text>
<line x1="174.3" y1="276.6" x2="176.3" y2="276.6" stroke="#404040" stroke-width="1"/>
<text transform="translate(173.10,279.40) scale(0.87,1)" font-size="7.7" text-anchor="end" fill="#1a1a1a" stroke="#1a1a1a" stroke-width="0.22">7</text>
<line x1="174.3" y1="258.4" x2="176.3" y2="258.4" stroke="#404040" stroke-width="1"/>
<text transform="translate(173.10,261.20) scale(0.87,1)" font-size="7.7" text-anchor="end" fill="#1a1a1a" stroke="#1a1a1a" stroke-width="0.22">8</text>
<line x1="174.3" y1="240.2" x2="176.3" y2="240.2" stroke="#404040" stroke-width="1"/>
<text transform="translate(173.10,243.00) scale(0.87,1)" font-size="7.7" text-anchor="end" fill="#1a1a1a" stroke="#1a1a1a" stroke-width="0.22">9</text>
<line x1="174.3" y1="222.0" x2="176.3" y2="222.0" stroke="#404040" stroke-width="1"/>
<text transform="translate(173.10,224.80) scale(0.87,1)" font-size="7.7" text-anchor="end" fill="#1a1a1a" stroke="#1a1a1a" stroke-width="0.22">10</text>
<line x1="175.1" y1="358.5" x2="176.3" y2="358.5" stroke="#404040" stroke-width="1"/>
<line x1="175.1" y1="340.3" x2="176.3" y2="340.3" stroke="#404040" stroke-width="1"/>
<line x1="175.1" y1="322.1" x2="176.3" y2="322.1" stroke="#404040" stroke-width="1"/>
<line x1="175.1" y1="303.9" x2="176.3" y2="303.9" stroke="#404040" stroke-width="1"/>
<line x1="175.1" y1="285.7" x2="176.3" y2="285.7" stroke="#404040" stroke-width="1"/>
<line x1="175.1" y1="267.5" x2="176.3" y2="267.5" stroke="#404040" stroke-width="1"/>
<line x1="175.1" y1="249.3" x2="176.3" y2="249.3" stroke="#404040" stroke-width="1"/>
<line x1="175.1" y1="231.1" x2="176.3" y2="231.1" stroke="#404040" stroke-width="1"/>
<line x1="176.3" y1="367.6" x2="176.3" y2="369.6" stroke="#404040" stroke-width="1"/>
<text transform="translate(176.30,376.80) scale(1.0,1)" font-size="7.2" text-anchor="middle" fill="#1a1a1a" stroke="#1a1a1a" stroke-width="0.22">0</text>
<line x1="220.4" y1="367.6" x2="220.4" y2="369.6" stroke="#404040" stroke-width="1"/>
<text transform="translate(220.40,376.80) scale(1.0,1)" font-size="7.2" text-anchor="middle" fill="#1a1a1a" stroke="#1a1a1a" stroke-width="0.22">10</text>
<line x1="264.5" y1="367.6" x2="264.5" y2="369.6" stroke="#404040" stroke-width="1"/>
<text transform="translate(264.50,376.80) scale(1.0,1)" font-size="7.2" text-anchor="middle" fill="#1a1a1a" stroke="#1a1a1a" stroke-width="0.22">20</text>
<line x1="308.6" y1="367.6" x2="308.6" y2="369.6" stroke="#404040" stroke-width="1"/>
<text transform="translate(308.60,376.80) scale(1.0,1)" font-size="7.2" text-anchor="middle" fill="#1a1a1a" stroke="#1a1a1a" stroke-width="0.22">30</text>
<line x1="352.7" y1="367.6" x2="352.7" y2="369.6" stroke="#404040" stroke-width="1"/>
<text transform="translate(352.70,376.80) scale(1.0,1)" font-size="7.2" text-anchor="middle" fill="#1a1a1a" stroke="#1a1a1a" stroke-width="0.22">40</text>
<line x1="396.8" y1="367.6" x2="396.8" y2="369.6" stroke="#404040" stroke-width="1"/>
<text transform="translate(396.80,376.80) scale(1.0,1)" font-size="7.2" text-anchor="middle" fill="#1a1a1a" stroke="#1a1a1a" stroke-width="0.22">50</text>
<line x1="198.4" y1="367.6" x2="198.4" y2="368.8" stroke="#404040" stroke-width="1"/>
<line x1="242.5" y1="367.6" x2="242.5" y2="368.8" stroke="#404040" stroke-width="1"/>
<line x1="286.6" y1="367.6" x2="286.6" y2="368.8" stroke="#404040" stroke-width="1"/>
<line x1="330.6" y1="367.6" x2="330.6" y2="368.8" stroke="#404040" stroke-width="1"/>
<line x1="374.8" y1="367.6" x2="374.8" y2="368.8" stroke="#404040" stroke-width="1"/>
<text x="286.9" y="389.0" font-size="8.3" text-anchor="middle" fill="#1a1a1a" stroke="#1a1a1a" stroke-width="0.22" >Time (ns)</text>
<text x="0.0" y="0.0" font-size="8.15" text-anchor="middle" fill="#1a1a1a" stroke="#1a1a1a" stroke-width="0.22" transform="translate(162.8,291.3) rotate(-90)">Distance (Å)</text>
<text x="386.7" y="228.8" font-size="9.6" text-anchor="middle" fill="#1a1a1a" stroke="#1a1a1a" stroke-width="0.22" >C</text>
<line x1="224" y1="219.1" x2="241.7" y2="219.1" stroke="#4646ff" stroke-width="1.3"/>
<line x1="294" y1="219.0" x2="312" y2="219.0" stroke="#ff4646" stroke-width="1.3"/>
<text x="244.5" y="222.0" font-size="8.0" text-anchor="start" fill="#1a1a1a" stroke="#1a1a1a" stroke-width="0.22" >COX-2/PC2</text>
<text x="314.6" y="222.0" font-size="8.0" text-anchor="start" fill="#1a1a1a" stroke="#1a1a1a" stroke-width="0.22" >COX-2/PC4</text>
</g>
</svg>
</body></html>
